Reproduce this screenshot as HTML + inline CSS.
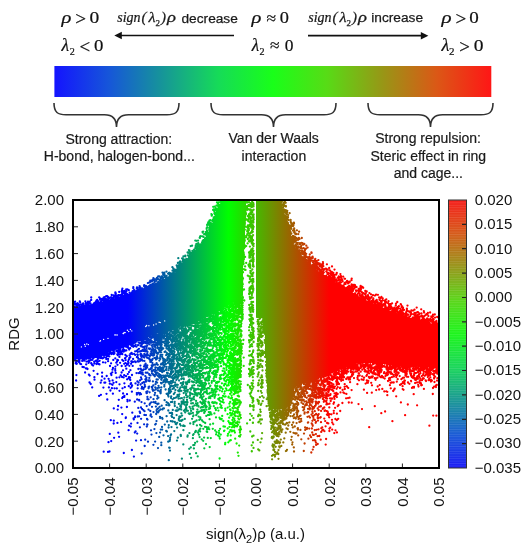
<!DOCTYPE html>
<html><head><meta charset="utf-8"><style>
html,body{margin:0;padding:0;background:#fff;}
body{width:527px;height:550px;overflow:hidden;}
svg{display:block;}
</style></head><body>
<svg width="527" height="550" viewBox="0 0 527 550">
<defs>
<linearGradient id="gb" x1="54.4" y1="0" x2="491.3" y2="0" gradientUnits="userSpaceOnUse">
<stop offset="0" stop-color="rgb(20,20,255)"/><stop offset="0.125" stop-color="rgb(22,86,217)"/><stop offset="0.25" stop-color="rgb(22,151,151)"/><stop offset="0.375" stop-color="rgb(22,219,88)"/><stop offset="0.5" stop-color="rgb(25,255,25)"/><stop offset="0.625" stop-color="rgb(88,219,22)"/><stop offset="0.75" stop-color="rgb(151,151,22)"/><stop offset="0.875" stop-color="rgb(219,88,22)"/><stop offset="1" stop-color="rgb(255,22,22)"/>
</linearGradient>
<linearGradient id="gp" x1="127.90" y1="0" x2="329.20" y2="0" gradientUnits="userSpaceOnUse">
<stop offset="0" stop-color="#0000ff"/><stop offset="0.5" stop-color="#00ff00"/><stop offset="1" stop-color="#ff0000"/>
</linearGradient>
<pattern id="stp" x="0" y="200" width="18" height="2.4364" patternUnits="userSpaceOnUse"><rect x="0" y="0" width="18" height="0.7" fill="#fff" fill-opacity="0.12"/></pattern>
<linearGradient id="gc" x1="0" y1="468" x2="0" y2="200" gradientUnits="userSpaceOnUse">
<stop offset="0" stop-color="rgb(28,28,245)"/><stop offset="0.125" stop-color="rgb(28,92,214)"/><stop offset="0.25" stop-color="rgb(28,151,151)"/><stop offset="0.375" stop-color="rgb(28,214,92)"/><stop offset="0.5" stop-color="rgb(30,245,30)"/><stop offset="0.625" stop-color="rgb(92,214,28)"/><stop offset="0.75" stop-color="rgb(151,151,28)"/><stop offset="0.875" stop-color="rgb(214,92,28)"/><stop offset="1" stop-color="rgb(245,32,28)"/>
</linearGradient>
</defs>
<rect width="527" height="550" fill="#fff"/>

<g fill="#111" stroke="#111" stroke-width="0.2">
<text transform="translate(61.52 23.23) scale(1.193 1)" font-family="'Liberation Serif', 'Times New Roman', serif" font-style="italic" font-size="17.29">ρ</text>
<text transform="translate(75.24 24.98) scale(1.026 1)" font-family="'Liberation Serif', 'Times New Roman', serif" font-size="18.65">&gt;</text>
<text transform="translate(89.47 23.33) scale(1.127 1)" font-family="'Liberation Serif', 'Times New Roman', serif" font-size="17.33">0</text>
<text transform="translate(61.54 50.90) scale(0.968 1)" font-family="'Liberation Serif', 'Times New Roman', serif" font-style="italic" font-size="18.16">λ</text>
<text x="69.65" y="55.40" font-family="'Liberation Serif', 'Times New Roman', serif" font-size="10.11">2</text>
<text x="79.58" y="52.60" font-family="'Liberation Serif', 'Times New Roman', serif" font-size="18.86">&lt;</text>
<text transform="translate(94.09 50.93) scale(1.077 1)" font-family="'Liberation Serif', 'Times New Roman', serif" font-size="17.48">0</text>
<text transform="translate(251.42 23.23) scale(1.193 1)" font-family="'Liberation Serif', 'Times New Roman', serif" font-style="italic" font-size="17.29">ρ</text>
<text x="266.42" y="24.18" font-family="'Liberation Serif', 'Times New Roman', serif" font-size="17.50">≈</text>
<text transform="translate(279.71 23.33) scale(1.059 1)" font-family="'Liberation Serif', 'Times New Roman', serif" font-size="17.33">0</text>
<text transform="translate(251.83 50.90) scale(0.942 1)" font-family="'Liberation Serif', 'Times New Roman', serif" font-style="italic" font-size="18.16">λ</text>
<text x="259.55" y="55.40" font-family="'Liberation Serif', 'Times New Roman', serif" font-size="10.11">2</text>
<text x="270.02" y="50.68" font-family="'Liberation Serif', 'Times New Roman', serif" font-size="17.50">≈</text>
<text x="284.65" y="50.93" font-family="'Liberation Serif', 'Times New Roman', serif" font-size="17.48">0</text>
<text transform="translate(441.43 23.23) scale(1.218 1)" font-family="'Liberation Serif', 'Times New Roman', serif" font-style="italic" font-size="17.29">ρ</text>
<text transform="translate(455.44 24.98) scale(1.026 1)" font-family="'Liberation Serif', 'Times New Roman', serif" font-size="18.65">&gt;</text>
<text transform="translate(469.29 23.33) scale(1.100 1)" font-family="'Liberation Serif', 'Times New Roman', serif" font-size="17.33">0</text>
<text x="441.45" y="50.90" font-family="'Liberation Serif', 'Times New Roman', serif" font-style="italic" font-size="18.16">λ</text>
<text transform="translate(449.11 55.40) scale(1.088 1)" font-family="'Liberation Serif', 'Times New Roman', serif" font-size="10.11">2</text>
<text x="459.34" y="52.60" font-family="'Liberation Serif', 'Times New Roman', serif" font-size="18.86">&gt;</text>
<text transform="translate(473.87 50.93) scale(1.117 1)" font-family="'Liberation Serif', 'Times New Roman', serif" font-size="17.48">0</text>
</g>
<g fill="#1a1a1a" stroke="#1a1a1a" stroke-width="0.25">
<text transform="translate(117.22 21.50) scale(0.934 1)" font-family="'Liberation Serif', 'Times New Roman', serif" font-style="italic" font-size="15.00">sign</text>
<text x="141.47" y="21.50" font-family="'Liberation Serif', 'Times New Roman', serif" font-style="italic" font-size="15.00">(</text>
<text transform="translate(148.51 21.50) scale(1.050 1)" font-family="'Liberation Serif', 'Times New Roman', serif" font-style="italic" font-size="15.50">λ</text>
<text x="155.59" y="25.90" font-family="'Liberation Serif', 'Times New Roman', serif" font-size="9.00">2</text>
<text x="161.11" y="21.50" font-family="'Liberation Serif', 'Times New Roman', serif" font-style="italic" font-size="15.00">)</text>
<text transform="translate(167.07 21.50) scale(1.250 1)" font-family="'Liberation Serif', 'Times New Roman', serif" font-style="italic" font-size="15.00">ρ</text>
<text transform="translate(308.22 21.50) scale(0.934 1)" font-family="'Liberation Serif', 'Times New Roman', serif" font-style="italic" font-size="15.00">sign</text>
<text x="332.48" y="21.50" font-family="'Liberation Serif', 'Times New Roman', serif" font-style="italic" font-size="15.00">(</text>
<text transform="translate(339.51 21.50) scale(1.050 1)" font-family="'Liberation Serif', 'Times New Roman', serif" font-style="italic" font-size="15.50">λ</text>
<text x="346.60" y="25.90" font-family="'Liberation Serif', 'Times New Roman', serif" font-size="9.00">2</text>
<text x="352.11" y="21.50" font-family="'Liberation Serif', 'Times New Roman', serif" font-style="italic" font-size="15.00">)</text>
<text transform="translate(358.07 21.50) scale(1.250 1)" font-family="'Liberation Serif', 'Times New Roman', serif" font-style="italic" font-size="15.00">ρ</text>
<text x="181.51" y="22.60" font-family="'Liberation Sans', Arial, Helvetica, sans-serif" font-size="13.70">decrease</text>
<text x="371.29" y="22.30" font-family="'Liberation Sans', Arial, Helvetica, sans-serif" font-size="13.70">increase</text>
</g>
<g stroke="#111" stroke-width="1.7" fill="#111">
<line x1="120" y1="35.5" x2="234" y2="35.5"/>
<path d="M114.3 35.5 L121.8 31.7 L121.8 39.3 Z" stroke="none"/>
<line x1="308" y1="35.7" x2="422" y2="35.7"/>
<path d="M428.4 35.7 L420.8 31.9 L420.8 39.5 Z" stroke="none"/>
</g>
<rect x="54.4" y="66" width="436.9" height="31" fill="url(#gb)"/>
<path d="M54 103 C54 112.7 58 114.7 66 114.7 L104.5 114.7 C111.5 114.7 116.5 117.7 116.5 127 C116.5 117.7 121.5 114.7 128.5 114.7 L167 114.7 C175 114.7 179 112.7 179 103" fill="none" stroke="#333" stroke-width="1.6"/>
<path d="M211 103 C211 112.7 215 114.7 223 114.7 L261.5 114.7 C268.5 114.7 273.5 117.7 273.5 127 C273.5 117.7 278.5 114.7 285.5 114.7 L324 114.7 C332 114.7 336 112.7 336 103" fill="none" stroke="#333" stroke-width="1.6"/>
<path d="M368 103 C368 112.7 372 114.7 380 114.7 L418.5 114.7 C425.5 114.7 430.5 117.7 430.5 127 C430.5 117.7 435.5 114.7 442.5 114.7 L481 114.7 C489 114.7 493 112.7 493 103" fill="none" stroke="#333" stroke-width="1.6"/>
<g font-family="'Liberation Sans', Arial, Helvetica, sans-serif" font-size="14" fill="#1a1a1a" stroke="#1a1a1a" stroke-width="0.2" text-anchor="middle">
<text x="118.8" y="143.5">Strong attraction:</text>
<text x="119.3" y="161">H-bond, halogen-bond...</text>
<text x="273.7" y="143.2">Van der Waals</text>
<text x="273.9" y="160.6">interaction</text>
<text x="428.1" y="143.2">Strong repulsion:</text>
<text x="428.3" y="160.9">Steric effect in ring</text>
<text x="428.3" y="178.4">and cage...</text>
</g>
<clipPath id="pc"><rect x="74" y="201" width="364" height="266"/></clipPath>
<g clip-path="url(#pc)">
<path d="M83.5 359.0L60.5 359.0L60.0 358.5L60.0 307.5L60.5 307.0L79.5 307.0L80.5 306.0L85.5 306.0L86.5 305.0L90.5 305.0L91.5 304.0L94.5 304.0L95.5 303.0L98.5 303.0L99.5 302.0L102.5 302.0L103.5 301.0L105.5 301.0L106.5 300.0L109.5 300.0L110.5 299.0L115.5 298.0L116.5 297.0L119.5 297.0L120.5 296.0L122.5 296.0L123.5 295.0L125.5 295.0L126.5 294.0L129.5 294.0L130.5 293.0L132.5 293.0L133.5 292.0L135.5 292.0L136.5 291.0L139.5 291.0L140.5 290.0L142.5 290.0L143.5 289.0L144.5 289.0L147.5 287.0L148.5 287.0L149.5 286.0L150.5 286.0L151.5 285.0L152.5 285.0L153.5 284.0L154.5 284.0L155.5 283.0L162.5 280.0L163.5 279.0L164.5 279.0L166.5 277.0L169.5 276.0L171.5 274.0L174.5 273.0L176.0 271.5L176.0 270.5L184.0 262.5L184.0 261.5L199.0 246.5L199.0 245.5L203.0 241.5L203.0 240.5L205.0 238.5L206.0 235.5L208.0 233.5L208.0 232.5L209.0 231.5L209.0 230.5L210.0 229.5L213.0 222.5L215.0 219.5L215.0 217.5L217.0 214.5L217.0 212.5L218.0 211.5L218.0 209.5L219.0 208.5L220.0 203.5L221.0 202.5L221.0 185.5L221.5 185.0L245.5 185.0L246.0 185.5L246.0 220.5L245.0 221.5L245.0 247.5L244.0 248.5L244.0 264.5L243.0 265.5L243.0 295.5L238.5 299.0L237.5 299.0L235.5 301.0L234.5 301.0L232.5 303.0L231.5 303.0L229.5 305.0L228.5 305.0L226.5 307.0L225.5 307.0L221.5 310.0L218.5 311.0L216.5 313.0L211.5 315.0L208.5 317.0L206.5 317.0L199.5 321.0L197.5 321.0L196.5 322.0L194.5 322.0L193.5 323.0L188.5 324.0L187.5 325.0L185.5 325.0L184.5 326.0L179.5 327.0L178.5 328.0L176.5 328.0L175.5 329.0L174.5 329.0L173.5 330.0L171.5 330.0L170.5 331.0L164.5 331.0L163.5 332.0L160.5 332.0L159.5 333.0L154.5 334.0L149.5 337.0L147.5 337.0L144.5 339.0L143.5 339.0L140.5 341.0L138.5 341.0L135.5 343.0L130.5 344.0L127.5 346.0L122.5 347.0L119.5 349.0L116.5 349.0L115.5 350.0L110.5 351.0L107.5 353.0L105.5 353.0L101.5 357.0L97.5 357.0L96.5 358.0L84.5 358.0L83.5 359.0ZM286.5 409.0L269.5 409.0L269.0 408.5L269.0 403.5L268.0 402.5L268.0 395.5L267.0 394.5L267.0 378.5L266.0 377.5L266.0 357.5L265.0 356.5L265.0 335.5L263.0 332.5L263.0 318.5L262.5 318.0L256.5 318.0L256.0 317.5L256.0 185.5L256.5 185.0L278.5 185.0L279.0 185.5L279.0 187.5L280.0 188.5L280.0 201.5L281.0 202.5L281.0 204.5L282.0 205.5L282.0 207.5L283.0 208.5L283.0 210.5L284.0 211.5L285.0 216.5L290.0 225.5L290.0 229.5L291.0 230.5L290.0 231.5L290.0 233.5L291.0 234.5L291.0 237.5L292.0 238.5L293.0 243.5L295.0 245.5L296.0 248.5L301.0 253.5L301.0 254.5L316.5 270.0L317.5 270.0L321.5 274.0L322.5 274.0L324.5 276.0L327.5 277.0L329.5 279.0L332.5 280.0L334.5 282.0L337.5 283.0L339.5 285.0L342.5 286.0L344.5 288.0L347.5 289.0L349.5 291.0L352.5 292.0L354.5 294.0L357.5 295.0L359.5 297.0L360.5 297.0L361.5 298.0L362.5 298.0L363.5 299.0L370.5 302.0L375.5 305.0L377.5 305.0L380.5 307.0L382.5 307.0L383.5 308.0L384.5 308.0L385.5 309.0L387.5 309.0L390.5 311.0L395.5 312.0L398.5 314.0L400.5 314.0L401.5 315.0L403.5 315.0L404.5 316.0L409.5 317.0L410.5 318.0L413.5 318.0L414.5 319.0L416.5 319.0L417.5 320.0L419.5 320.0L420.5 321.0L423.5 321.0L424.5 322.0L426.5 322.0L427.5 323.0L429.5 323.0L430.5 324.0L434.5 324.0L435.5 325.0L439.5 325.0L440.5 326.0L459.5 326.0L460.0 326.5L460.0 368.5L459.5 369.0L438.5 369.0L437.5 368.0L432.5 368.0L431.5 367.0L417.5 367.0L416.5 366.0L401.5 366.0L400.5 365.0L386.5 365.0L385.5 364.0L378.5 364.0L377.5 363.0L362.5 363.0L361.5 362.0L360.5 363.0L354.5 363.0L351.5 365.0L349.5 365.0L342.5 369.0L340.5 369.0L335.5 372.0L333.5 372.0L330.5 374.0L328.5 374.0L327.5 375.0L325.5 375.0L324.5 376.0L322.5 376.0L321.5 377.0L319.5 377.0L318.5 378.0L313.5 379.0L312.5 380.0L309.5 380.0L308.5 381.0L305.5 381.0L304.5 382.0L303.5 382.0L296.5 386.0L295.5 386.0L294.0 387.5L294.0 395.5L293.0 396.5L293.0 397.5L292.0 398.5L289.0 405.5L287.0 407.5L286.5 409.0Z" fill="url(#gp)" fill-rule="evenodd"/>
<path d="M223.5 185.5h0M228.8 185.5h0M232.4 185.2h0M233.3 185.7h0M234.0 185.6h0M237.2 185.1h0M239.7 185.4h0M241.2 185.7h0M242.7 185.5h0M244.2 185.9h0M244.1 185.7h0M245.8 185.6h0M258.5 185.1h0M259.6 185.9h0M261.2 185.7h0M262.0 185.2h0M262.4 185.2h0M265.2 185.5h0M266.3 185.5h0M269.7 185.6h0M271.8 185.5h0M273.5 185.4h0M274.7 185.9h0M275.5 185.3h0M275.5 185.8h0M276.8 185.8h0M276.3 185.6h0M276.5 185.5h0M223.6 186.9h0M226.6 186.9h0M226.2 186.3h0M226.8 186.3h0M228.8 186.9h0M229.9 186.0h0M230.1 186.2h0M231.3 186.6h0M238.5 186.5h0M243.0 186.9h0M244.6 186.4h0M260.2 186.7h0M261.9 186.6h0M261.8 186.3h0M261.8 186.5h0M262.7 186.8h0M262.8 186.1h0M268.5 186.5h0M272.2 186.2h0M277.0 186.4h0M278.8 186.4h0M257.6 187.1h0M278.2 187.7h0M278.6 187.6h0M278.9 187.4h0M222.2 188.4h0M244.2 188.6h0M245.7 188.3h0M246.0 188.2h0M279.9 188.5h0M221.2 189.6h0M244.8 189.3h0M221.0 190.6h0M222.3 190.3h0M245.6 190.6h0M221.9 191.1h0M222.0 191.9h0M244.2 191.5h0M257.5 191.4h0M278.1 191.6h0M221.3 192.2h0M222.3 192.0h0M222.5 192.4h0M222.2 192.6h0M246.0 192.5h0M278.1 192.3h0M222.0 193.8h0M244.5 193.8h0M279.0 193.0h0M222.7 194.7h0M244.2 194.6h0M245.4 194.1h0M278.6 194.3h0M221.7 195.2h0M244.9 195.8h0M245.2 195.4h0M278.3 195.2h0M222.1 196.3h0M222.6 196.1h0M278.9 196.1h0M279.3 196.8h0M279.7 196.2h0M279.6 196.5h0M221.2 197.3h0M245.6 197.4h0M245.5 197.4h0M279.8 198.0h0M279.5 197.9h0M244.1 198.1h0M244.6 198.6h0M258.0 198.5h0M278.5 198.4h0M244.2 199.1h0M245.6 199.0h0M245.8 199.1h0M222.2 200.0h0M244.2 200.0h0M245.8 200.9h0M278.4 200.6h0M279.8 200.4h0M220.6 201.9h0M245.7 201.4h0M246.9 201.0h0M252.0 201.1h0M257.6 201.6h0M279.6 201.8h0M281.5 201.4h0M281.8 201.7h0M217.0 202.4h0M218.7 202.3h0M221.8 202.5h0M244.9 202.7h0M244.9 202.7h0M246.4 202.1h0M247.0 202.7h0M249.0 202.2h0M253.0 202.8h0M253.1 203.0h0M281.3 202.7h0M284.0 202.5h0M285.1 202.1h0M285.7 202.8h0M218.0 203.4h0M218.1 203.4h0M244.0 203.3h0M251.0 203.2h0M253.4 203.4h0M279.2 204.0h0M279.5 203.5h0M283.5 203.7h0M219.7 204.8h0M244.2 204.2h0M248.7 204.8h0M250.7 204.5h0M250.4 204.1h0M251.1 204.2h0M252.9 204.6h0M253.3 204.1h0M253.6 204.9h0M280.3 204.7h0M281.5 204.7h0M282.5 204.7h0M283.9 204.3h0M216.5 205.6h0M216.9 205.7h0M218.2 205.2h0M221.0 205.7h0M220.7 205.1h0M248.4 205.9h0M250.3 205.4h0M252.7 205.8h0M281.0 205.6h0M282.6 205.3h0M282.8 205.7h0M282.9 205.5h0M283.8 205.0h0M285.8 206.0h0M213.2 206.8h0M214.7 206.6h0M218.9 206.1h0M220.6 206.5h0M246.3 206.6h0M247.0 206.2h0M247.4 206.3h0M249.6 206.1h0M250.9 206.1h0M251.3 206.9h0M252.3 206.8h0M252.4 206.5h0M253.5 206.4h0M285.9 206.5h0M285.0 206.1h0M215.6 207.9h0M218.5 207.4h0M283.1 207.2h0M216.4 208.9h0M219.5 208.6h0M220.5 208.1h0M246.9 208.6h0M246.6 208.5h0M247.1 208.1h0M247.7 209.0h0M257.6 208.8h0M281.2 208.4h0M213.1 209.9h0M213.7 209.4h0M215.6 209.4h0M215.3 209.9h0M216.5 209.3h0M217.4 209.4h0M219.2 209.2h0M249.2 209.8h0M249.1 209.4h0M250.5 209.3h0M253.6 209.7h0M283.7 209.2h0M214.6 210.6h0M217.0 210.6h0M218.0 210.2h0M219.9 210.4h0M244.8 210.1h0M247.0 210.1h0M251.2 210.4h0M251.5 210.1h0M252.6 210.3h0M252.7 210.4h0M281.7 210.9h0M282.9 210.8h0M282.3 210.6h0M283.9 210.8h0M284.7 210.9h0M285.8 210.2h0M287.3 210.8h0M214.3 211.4h0M216.8 211.7h0M217.1 211.4h0M217.4 211.9h0M219.2 211.7h0M251.3 211.7h0M252.5 211.1h0M284.3 211.9h0M217.6 212.6h0M218.6 212.1h0M245.7 212.8h0M245.7 212.3h0M250.4 212.3h0M252.3 212.2h0M285.9 212.8h0M285.8 212.0h0M287.1 212.6h0M214.4 213.4h0M215.0 213.1h0M215.7 213.1h0M216.7 214.0h0M216.2 213.3h0M216.7 213.1h0M218.4 213.9h0M245.1 213.8h0M251.1 213.2h0M282.8 213.3h0M283.5 213.9h0M285.9 213.1h0M286.5 214.0h0M286.8 213.5h0M289.6 213.2h0M211.4 214.1h0M214.8 214.3h0M245.3 214.8h0M246.1 214.0h0M249.1 214.7h0M249.1 214.1h0M249.2 214.9h0M251.0 214.2h0M252.2 214.6h0M253.6 214.4h0M257.5 214.9h0M211.7 215.7h0M212.0 215.0h0M215.8 215.0h0M216.7 215.7h0M217.4 215.7h0M244.1 215.2h0M245.1 215.3h0M248.7 215.3h0M252.4 215.1h0M252.8 215.8h0M253.4 215.8h0M284.5 215.3h0M285.6 215.4h0M288.1 215.1h0M214.9 216.9h0M215.1 216.8h0M244.2 216.8h0M247.6 216.1h0M248.2 216.0h0M250.0 216.7h0M257.7 216.9h0M283.3 216.3h0M284.0 216.5h0M283.4 216.1h0M285.9 216.1h0M213.7 217.3h0M213.8 217.7h0M249.0 217.8h0M250.3 217.9h0M252.0 217.5h0M253.1 217.6h0M253.5 217.1h0M253.5 217.8h0M257.8 217.2h0M284.2 217.6h0M285.7 217.8h0M285.4 217.4h0M287.9 217.6h0M288.0 217.5h0M287.9 217.0h0M287.2 217.7h0M214.8 218.7h0M214.7 218.2h0M216.5 218.3h0M245.5 218.9h0M245.7 218.9h0M251.0 218.4h0M250.8 218.4h0M253.5 219.0h0M253.5 218.0h0M257.6 218.9h0M284.3 218.1h0M285.1 218.6h0M286.8 218.8h0M286.2 218.6h0M287.1 218.7h0M287.3 218.6h0M212.8 219.7h0M212.7 220.0h0M213.4 219.9h0M214.1 220.0h0M244.6 219.2h0M247.3 219.6h0M248.5 219.3h0M250.7 219.2h0M253.7 219.6h0M257.5 219.6h0M285.2 219.3h0M286.2 219.5h0M287.5 219.6h0M288.0 219.8h0M290.6 219.9h0M209.4 220.7h0M210.2 220.2h0M214.0 220.1h0M214.6 220.0h0M244.9 220.5h0M245.7 220.1h0M248.2 221.0h0M250.7 220.3h0M252.7 220.4h0M252.5 220.9h0M288.5 220.2h0M290.7 220.1h0M212.3 221.0h0M214.2 221.9h0M214.7 221.1h0M215.7 221.1h0M215.1 221.6h0M243.6 221.4h0M243.3 221.6h0M248.7 221.4h0M252.9 221.6h0M252.1 221.6h0M253.3 221.6h0M257.6 221.6h0M290.7 221.9h0M208.2 222.4h0M209.7 222.3h0M210.6 222.9h0M243.7 222.9h0M244.3 222.0h0M244.8 222.8h0M244.8 222.4h0M244.4 222.6h0M244.1 222.5h0M250.2 222.5h0M253.2 222.4h0M253.4 222.6h0M287.1 222.4h0M287.8 222.9h0M287.1 222.5h0M290.9 222.8h0M291.1 222.9h0M293.9 222.6h0M208.2 223.4h0M208.6 223.1h0M210.5 223.4h0M210.7 224.0h0M211.5 223.5h0M212.9 223.7h0M244.9 223.9h0M250.3 223.1h0M251.7 223.2h0M291.3 223.5h0M292.4 223.9h0M292.8 223.9h0M294.0 223.5h0M207.7 224.1h0M207.8 224.5h0M208.9 224.7h0M211.6 224.2h0M249.6 224.8h0M251.8 224.9h0M252.5 224.8h0M288.2 224.8h0M288.1 224.6h0M292.0 224.5h0M293.3 224.7h0M207.1 225.0h0M209.6 225.6h0M210.6 225.8h0M211.8 226.0h0M243.1 225.9h0M243.9 225.9h0M243.5 225.7h0M247.9 225.4h0M248.8 225.9h0M248.7 225.9h0M250.7 225.1h0M250.9 225.0h0M251.7 225.1h0M252.7 225.7h0M253.0 225.7h0M288.4 225.8h0M289.6 225.8h0M289.8 225.6h0M290.7 225.9h0M293.4 225.4h0M243.0 227.0h0M244.0 226.7h0M245.2 226.3h0M245.5 226.7h0M249.3 226.1h0M251.2 227.0h0M252.5 226.6h0M253.6 226.8h0M288.7 226.7h0M291.4 226.4h0M291.5 226.0h0M293.2 226.0h0M207.3 227.1h0M210.0 227.4h0M243.3 227.2h0M247.3 227.2h0M251.3 227.7h0M251.5 227.1h0M253.3 227.6h0M288.1 227.0h0M289.7 227.9h0M290.6 228.0h0M206.7 228.1h0M206.7 228.9h0M209.2 228.1h0M210.6 228.6h0M211.6 228.8h0M243.9 228.5h0M244.0 228.1h0M247.8 228.0h0M248.8 228.4h0M252.6 228.3h0M253.0 228.3h0M288.6 228.2h0M289.4 228.4h0M289.7 228.7h0M290.0 228.4h0M290.1 228.0h0M291.1 228.5h0M291.4 228.8h0M294.2 228.5h0M210.5 229.7h0M244.8 229.7h0M253.1 229.1h0M293.9 229.6h0M207.0 231.0h0M209.2 230.0h0M243.6 230.0h0M247.6 230.7h0M247.4 230.1h0M248.9 230.1h0M252.2 230.1h0M252.1 230.7h0M289.5 230.5h0M289.2 230.0h0M292.9 230.6h0M294.3 230.5h0M296.9 230.3h0M202.6 231.8h0M203.1 231.7h0M207.1 231.7h0M243.0 231.1h0M247.8 231.3h0M247.2 231.3h0M248.1 231.8h0M251.7 231.9h0M252.8 231.8h0M252.8 231.7h0M288.1 231.8h0M288.1 231.5h0M289.8 231.1h0M299.1 231.7h0M202.7 232.5h0M205.7 232.1h0M206.3 232.3h0M206.2 232.3h0M208.6 232.7h0M209.8 232.6h0M243.7 232.0h0M251.1 232.3h0M252.2 232.4h0M289.6 232.2h0M289.1 232.2h0M290.5 232.0h0M294.2 232.5h0M294.6 232.0h0M206.7 234.0h0M206.3 233.5h0M207.8 233.2h0M209.5 233.6h0M247.5 233.6h0M247.5 233.6h0M248.9 233.6h0M249.7 233.3h0M249.9 233.6h0M250.8 233.1h0M257.5 233.3h0M288.5 233.4h0M290.9 234.0h0M291.4 233.3h0M295.2 233.5h0M296.0 233.6h0M204.2 234.2h0M205.1 234.2h0M205.5 234.7h0M205.0 234.0h0M206.6 234.8h0M206.4 234.8h0M206.9 234.8h0M247.2 234.8h0M295.3 234.0h0M296.2 234.2h0M298.3 234.1h0M243.6 235.4h0M249.7 235.8h0M249.1 235.8h0M250.7 235.8h0M253.1 235.1h0M289.2 235.9h0M292.7 236.0h0M200.8 236.2h0M200.1 236.3h0M202.8 236.4h0M203.5 236.9h0M246.0 236.1h0M251.5 236.8h0M252.3 236.6h0M292.8 236.7h0M293.8 236.4h0M293.2 237.0h0M293.3 236.3h0M294.9 236.9h0M294.7 236.9h0M199.7 237.8h0M199.9 237.9h0M246.4 237.0h0M249.8 237.6h0M249.3 237.4h0M251.4 237.1h0M257.5 237.1h0M257.4 237.1h0M290.9 237.5h0M291.4 237.1h0M292.9 238.0h0M205.4 238.8h0M205.7 239.0h0M205.4 238.2h0M244.6 238.0h0M247.8 239.0h0M251.1 238.6h0M252.0 238.4h0M290.0 238.6h0M290.1 238.3h0M293.6 238.8h0M295.2 238.6h0M296.3 238.0h0M297.4 238.9h0M298.9 238.0h0M299.5 238.9h0M301.8 238.0h0M204.9 239.6h0M205.0 239.0h0M204.3 239.8h0M257.7 239.8h0M290.1 239.8h0M292.7 239.9h0M292.3 239.2h0M299.0 239.2h0M298.0 239.9h0M195.3 240.6h0M196.7 240.8h0M198.1 240.6h0M202.8 240.7h0M203.1 240.6h0M203.3 240.6h0M204.0 240.3h0M204.1 240.3h0M243.3 240.1h0M243.9 240.6h0M244.8 240.2h0M244.4 240.1h0M244.3 240.6h0M244.8 240.3h0M249.7 240.4h0M251.1 240.1h0M252.2 240.3h0M253.1 240.2h0M257.7 240.6h0M294.0 240.7h0M296.0 240.3h0M295.3 240.5h0M202.7 241.1h0M203.4 241.9h0M243.1 241.0h0M243.7 241.2h0M244.6 241.0h0M248.9 241.2h0M249.3 241.5h0M250.7 241.1h0M252.3 241.9h0M291.4 241.6h0M291.9 241.9h0M292.4 241.6h0M292.5 241.9h0M294.0 241.5h0M293.1 241.3h0M295.7 241.8h0M203.0 242.2h0M202.0 242.5h0M203.0 242.8h0M203.3 242.1h0M203.1 242.3h0M251.5 242.2h0M251.7 242.2h0M293.5 242.1h0M293.5 242.7h0M293.8 242.4h0M297.9 242.9h0M301.6 242.8h0M196.4 244.0h0M198.2 243.2h0M243.7 243.1h0M247.6 243.4h0M251.7 243.3h0M253.0 243.4h0M253.7 243.8h0M291.3 243.6h0M292.2 243.3h0M293.1 243.4h0M296.8 243.5h0M296.8 243.2h0M297.1 243.1h0M300.0 243.1h0M302.7 243.5h0M198.3 244.7h0M199.4 244.8h0M200.2 244.4h0M252.7 244.5h0M252.7 244.9h0M253.1 244.2h0M257.7 244.8h0M295.5 244.7h0M297.7 244.1h0M299.9 244.3h0M303.7 244.1h0M303.4 244.5h0M304.3 244.0h0M192.1 245.7h0M195.8 245.8h0M195.8 245.3h0M198.6 246.0h0M198.8 245.2h0M198.1 245.6h0M244.8 245.4h0M295.9 245.6h0M295.3 245.5h0M295.6 246.0h0M296.0 245.8h0M301.5 245.3h0M306.3 245.7h0M190.7 246.1h0M195.7 246.4h0M196.4 246.8h0M197.5 246.3h0M198.6 246.4h0M244.1 246.3h0M244.7 246.3h0M246.2 246.1h0M249.9 246.6h0M253.5 246.1h0M293.6 246.5h0M295.5 246.4h0M295.7 246.7h0M295.9 246.7h0M295.9 246.3h0M296.2 246.3h0M298.1 246.5h0M301.0 246.6h0M195.6 247.8h0M196.1 247.4h0M244.7 247.1h0M244.9 247.0h0M294.4 247.7h0M294.1 247.9h0M297.7 247.4h0M299.7 247.5h0M300.6 248.0h0M307.6 247.6h0M195.4 248.0h0M196.4 249.0h0M197.4 248.5h0M198.3 248.9h0M243.7 248.0h0M244.0 248.4h0M252.7 248.4h0M297.4 248.6h0M297.1 248.5h0M297.7 248.2h0M301.9 248.3h0M303.7 248.1h0M306.0 248.7h0M194.1 249.7h0M251.7 249.7h0M251.3 249.5h0M252.6 249.1h0M295.1 249.5h0M297.6 249.5h0M304.9 249.4h0M188.9 250.1h0M189.5 250.4h0M192.4 251.0h0M195.2 250.9h0M242.4 250.5h0M242.8 250.9h0M250.7 250.8h0M253.4 250.8h0M296.5 250.1h0M297.4 250.9h0M299.4 250.5h0M299.5 250.6h0M299.7 250.4h0M301.4 250.7h0M301.3 250.9h0M302.1 250.4h0M304.9 250.2h0M189.5 251.2h0M192.9 251.7h0M242.1 251.3h0M243.2 251.3h0M253.0 251.4h0M252.7 251.3h0M252.6 251.7h0M298.7 251.7h0M302.0 251.6h0M302.2 251.1h0M303.0 251.3h0M303.1 251.3h0M187.9 252.8h0M187.6 252.4h0M191.0 252.9h0M190.2 252.5h0M194.0 252.5h0M242.5 252.5h0M242.3 252.8h0M243.6 252.6h0M249.0 252.4h0M250.2 252.0h0M252.4 252.3h0M257.6 252.3h0M257.6 252.1h0M298.7 252.7h0M298.1 252.3h0M300.0 252.8h0M301.9 252.3h0M302.6 252.8h0M302.3 252.4h0M303.0 252.1h0M303.5 252.5h0M304.8 252.2h0M311.6 252.9h0M311.4 252.4h0M189.4 253.6h0M190.7 253.3h0M190.6 253.8h0M191.5 253.7h0M192.1 253.1h0M242.0 253.0h0M249.4 253.9h0M250.9 253.9h0M251.1 253.2h0M251.2 253.9h0M253.6 253.9h0M253.6 253.8h0M253.7 253.6h0M300.7 253.3h0M300.1 253.2h0M301.2 253.6h0M301.8 253.8h0M301.8 253.1h0M302.9 253.0h0M305.1 253.2h0M305.5 253.8h0M306.2 253.8h0M191.0 254.1h0M243.8 254.3h0M243.7 254.0h0M251.1 254.4h0M252.7 254.8h0M253.2 254.8h0M300.4 254.1h0M300.4 254.3h0M300.5 254.0h0M302.8 254.0h0M304.1 254.4h0M304.3 254.7h0M305.5 254.7h0M305.2 254.1h0M309.8 254.5h0M185.3 255.7h0M187.9 255.4h0M189.9 255.9h0M189.8 255.8h0M243.9 255.1h0M243.3 255.4h0M250.9 255.1h0M252.7 255.5h0M252.7 255.4h0M253.0 255.5h0M304.4 255.4h0M304.6 255.6h0M305.6 255.6h0M183.4 256.3h0M185.3 256.4h0M189.0 256.5h0M245.1 256.9h0M249.3 256.1h0M249.8 256.2h0M250.4 256.2h0M252.9 256.6h0M257.8 256.7h0M304.8 256.9h0M305.1 256.2h0M306.9 256.9h0M309.1 256.9h0M312.6 256.6h0M243.6 257.8h0M249.4 257.7h0M250.6 257.4h0M257.7 257.9h0M303.6 257.2h0M304.6 257.8h0M304.8 257.7h0M305.4 258.0h0M307.8 257.7h0M308.1 257.8h0M309.7 257.1h0M309.7 257.9h0M311.5 257.6h0M312.8 257.9h0M312.3 257.2h0M178.3 258.2h0M182.1 258.3h0M182.7 258.1h0M186.4 258.9h0M189.0 258.7h0M242.6 258.8h0M252.6 258.9h0M252.9 258.1h0M253.5 258.1h0M304.2 258.2h0M305.2 258.8h0M308.3 258.3h0M308.4 258.3h0M308.8 258.2h0M312.3 258.2h0M315.3 259.0h0M182.9 259.2h0M182.9 259.6h0M183.3 259.7h0M184.4 259.6h0M186.3 259.8h0M187.7 259.9h0M244.0 259.1h0M252.4 259.8h0M253.0 259.0h0M253.6 259.8h0M305.0 259.2h0M305.0 259.2h0M308.7 259.7h0M308.5 259.8h0M310.2 259.1h0M315.0 259.6h0M182.9 260.6h0M183.2 260.5h0M184.8 260.1h0M185.2 260.0h0M243.3 260.6h0M250.3 260.9h0M252.0 260.9h0M251.6 260.1h0M251.4 260.5h0M253.3 260.7h0M257.7 260.3h0M306.6 260.2h0M306.2 260.9h0M307.6 260.7h0M309.0 260.1h0M310.2 261.0h0M311.6 260.5h0M311.3 260.6h0M313.6 260.9h0M315.7 261.0h0M318.4 260.1h0M180.1 261.5h0M182.9 261.4h0M183.2 261.7h0M185.0 261.5h0M250.1 261.4h0M252.2 261.1h0M253.5 261.3h0M257.7 261.2h0M306.2 261.9h0M308.9 261.3h0M310.1 262.0h0M314.5 261.1h0M315.5 261.1h0M316.6 261.2h0M178.3 262.7h0M180.6 262.0h0M185.0 262.9h0M186.0 262.3h0M242.0 263.0h0M243.4 262.1h0M246.2 262.9h0M252.9 262.4h0M257.5 262.6h0M257.9 263.0h0M308.5 262.9h0M312.9 262.3h0M315.7 262.7h0M317.6 262.8h0M322.9 262.1h0M177.9 263.0h0M180.0 263.5h0M181.6 263.9h0M181.1 263.5h0M182.9 263.7h0M183.0 263.1h0M183.9 263.9h0M242.5 263.7h0M243.6 263.8h0M249.7 263.9h0M249.5 263.5h0M310.0 263.9h0M313.6 263.1h0M314.8 263.5h0M315.7 263.7h0M318.4 263.1h0M319.8 263.7h0M323.0 263.5h0M179.2 264.9h0M179.7 264.8h0M179.3 264.9h0M180.6 264.4h0M248.5 264.9h0M250.0 264.4h0M249.5 264.6h0M250.1 264.9h0M253.0 264.5h0M253.0 264.1h0M253.1 264.7h0M313.5 264.4h0M313.5 264.9h0M315.6 264.7h0M317.4 264.5h0M318.9 264.1h0M321.9 264.5h0M322.8 264.7h0M326.9 264.3h0M176.7 265.4h0M178.5 265.7h0M180.3 265.4h0M181.0 265.4h0M181.1 265.8h0M182.4 265.9h0M182.9 265.2h0M182.3 265.4h0M182.7 265.2h0M182.8 265.7h0M241.6 265.1h0M249.2 266.0h0M252.7 266.0h0M253.1 265.6h0M312.2 265.1h0M313.8 265.2h0M316.5 265.2h0M320.6 265.7h0M321.2 265.9h0M321.0 265.4h0M177.2 266.8h0M178.6 266.5h0M179.0 267.0h0M241.4 266.4h0M242.3 266.0h0M245.1 266.4h0M249.1 266.5h0M250.0 266.3h0M253.6 266.5h0M253.4 266.7h0M312.2 266.0h0M314.0 266.6h0M313.2 266.8h0M315.2 266.0h0M316.9 266.7h0M317.0 266.7h0M319.4 266.0h0M321.2 266.9h0M322.8 266.4h0M323.3 266.2h0M332.0 266.4h0M172.4 267.2h0M177.4 267.5h0M178.7 267.5h0M180.5 267.1h0M241.1 267.4h0M250.3 267.9h0M316.5 267.5h0M316.5 267.8h0M316.2 267.5h0M317.3 267.5h0M322.0 267.7h0M329.2 268.0h0M173.3 268.5h0M177.5 268.7h0M241.2 268.6h0M257.9 268.5h0M257.6 268.8h0M313.4 268.1h0M315.6 268.8h0M315.1 268.2h0M316.3 268.2h0M317.0 268.6h0M317.2 268.7h0M318.8 268.5h0M318.0 268.4h0M318.6 268.2h0M325.1 268.8h0M325.6 268.7h0M174.6 269.6h0M175.8 269.9h0M176.9 270.0h0M177.7 269.4h0M177.4 269.3h0M242.9 269.1h0M244.3 269.5h0M245.5 269.9h0M252.3 269.6h0M252.4 269.3h0M317.0 269.1h0M317.4 269.9h0M318.7 269.6h0M319.9 269.8h0M319.9 269.3h0M321.8 269.6h0M322.9 269.0h0M322.6 269.3h0M322.7 269.6h0M323.2 269.8h0M326.6 269.0h0M327.6 269.7h0M334.5 269.6h0M172.5 270.7h0M173.3 270.9h0M174.1 270.5h0M175.2 270.0h0M175.2 270.7h0M175.4 271.0h0M176.9 270.4h0M241.1 270.8h0M241.8 271.0h0M250.4 270.8h0M315.1 270.4h0M319.4 270.1h0M320.9 270.1h0M321.1 270.2h0M323.8 270.0h0M329.7 270.3h0M330.1 270.7h0M166.5 271.6h0M174.9 271.4h0M175.9 271.6h0M175.9 271.4h0M175.4 271.4h0M175.6 271.1h0M250.8 271.2h0M320.6 271.7h0M323.0 271.6h0M326.3 271.4h0M331.8 272.0h0M162.5 272.6h0M164.4 272.6h0M169.3 273.0h0M169.2 272.9h0M173.6 272.5h0M243.0 272.2h0M242.2 272.2h0M250.5 272.3h0M250.5 272.9h0M253.2 272.7h0M319.6 272.6h0M319.9 272.1h0M321.8 272.5h0M323.8 272.4h0M327.6 272.8h0M327.9 272.6h0M327.2 272.3h0M328.5 273.0h0M331.2 272.5h0M333.3 272.8h0M163.3 273.3h0M168.1 273.7h0M169.5 273.3h0M169.7 273.9h0M171.0 273.9h0M170.5 273.5h0M171.4 273.7h0M172.9 273.2h0M174.0 273.4h0M242.1 273.6h0M250.9 273.4h0M252.8 273.7h0M319.6 273.5h0M320.0 273.9h0M322.9 273.9h0M322.8 273.5h0M327.9 273.9h0M330.5 273.8h0M330.6 273.4h0M331.2 273.8h0M333.1 273.9h0M336.8 273.0h0M336.6 273.5h0M163.2 274.5h0M164.6 274.3h0M169.4 274.4h0M172.0 275.0h0M172.7 274.2h0M173.4 274.3h0M173.3 274.9h0M174.2 274.5h0M241.4 274.7h0M241.9 274.3h0M241.4 274.9h0M251.9 274.6h0M251.4 274.0h0M252.4 274.7h0M257.8 274.6h0M320.8 274.7h0M321.7 274.3h0M327.4 274.1h0M331.8 274.8h0M334.6 275.0h0M336.3 274.6h0M340.4 274.1h0M164.6 275.8h0M169.7 275.5h0M171.7 275.9h0M172.4 275.3h0M247.8 275.7h0M324.0 275.8h0M326.1 275.9h0M329.2 275.6h0M333.9 275.4h0M333.4 275.3h0M158.2 276.4h0M159.2 276.4h0M161.6 276.4h0M162.3 276.9h0M162.4 276.4h0M166.6 276.0h0M241.0 276.6h0M249.3 276.5h0M250.6 276.3h0M250.4 276.8h0M252.6 276.2h0M257.6 276.6h0M323.7 276.7h0M325.7 276.2h0M326.2 276.1h0M328.5 276.6h0M329.7 276.8h0M329.6 276.1h0M330.6 276.4h0M333.0 276.0h0M333.4 276.4h0M333.2 276.8h0M338.8 276.4h0M341.0 276.2h0M343.2 276.6h0M156.9 277.9h0M157.2 277.9h0M160.7 277.5h0M162.0 277.4h0M162.6 277.8h0M164.7 277.1h0M166.0 277.9h0M169.9 277.6h0M169.6 277.1h0M242.4 277.5h0M324.9 277.1h0M325.2 277.4h0M327.8 277.5h0M328.6 277.7h0M329.6 277.9h0M330.5 277.2h0M331.1 278.0h0M331.9 278.0h0M332.4 277.7h0M332.6 277.6h0M333.2 277.3h0M334.2 277.0h0M334.7 277.5h0M337.8 277.7h0M339.9 277.2h0M341.2 277.8h0M153.4 278.1h0M157.9 278.9h0M160.8 278.1h0M161.9 278.4h0M163.2 278.0h0M166.6 278.7h0M166.8 278.0h0M241.8 278.9h0M243.0 278.4h0M327.5 279.0h0M344.5 278.7h0M345.0 278.8h0M351.7 278.7h0M152.4 279.9h0M154.8 279.4h0M156.2 279.2h0M159.8 279.8h0M160.1 279.4h0M242.5 279.8h0M249.9 279.0h0M251.7 279.8h0M252.0 279.5h0M253.3 279.1h0M253.1 279.0h0M257.7 279.9h0M328.5 279.3h0M330.3 279.0h0M331.8 279.1h0M333.3 279.0h0M333.4 279.7h0M334.6 279.4h0M335.6 279.8h0M336.1 279.3h0M338.8 279.5h0M338.9 279.7h0M338.7 279.5h0M338.9 279.4h0M339.8 279.7h0M341.9 279.2h0M150.3 280.6h0M152.4 280.9h0M154.1 280.0h0M156.4 280.8h0M160.2 280.2h0M162.0 280.7h0M163.1 280.2h0M163.8 280.0h0M241.1 280.4h0M241.4 280.9h0M242.1 280.3h0M251.2 280.8h0M253.2 280.3h0M331.0 280.2h0M330.7 280.4h0M333.0 280.8h0M332.2 280.3h0M332.8 280.4h0M337.7 280.3h0M338.3 280.6h0M340.5 280.4h0M342.3 280.4h0M347.1 280.9h0M351.5 280.2h0M150.8 281.5h0M154.8 281.6h0M158.4 281.9h0M158.6 281.6h0M241.4 281.9h0M242.1 281.0h0M249.7 281.8h0M252.3 281.3h0M253.4 281.8h0M331.6 281.2h0M332.2 281.3h0M333.8 281.8h0M334.6 281.5h0M336.9 281.1h0M340.2 281.9h0M342.6 281.4h0M347.8 281.8h0M347.2 281.6h0M349.7 281.7h0M149.4 282.4h0M149.6 282.4h0M154.6 282.3h0M154.5 282.7h0M242.2 282.3h0M249.2 282.5h0M257.6 282.5h0M333.8 282.2h0M336.5 282.2h0M340.0 282.5h0M340.7 282.4h0M341.0 282.4h0M345.9 282.4h0M347.4 282.3h0M347.7 282.4h0M348.5 282.8h0M348.4 282.0h0M349.6 282.3h0M147.9 283.1h0M152.5 283.6h0M152.9 283.9h0M156.4 283.9h0M157.2 283.7h0M158.5 283.8h0M242.4 284.0h0M242.2 283.2h0M252.4 283.1h0M257.9 283.2h0M257.9 283.9h0M257.5 283.1h0M336.2 283.5h0M337.6 283.9h0M338.4 283.2h0M344.5 284.0h0M344.7 283.0h0M345.6 283.9h0M348.0 283.4h0M150.3 284.9h0M156.7 284.3h0M242.8 284.2h0M337.1 284.3h0M339.9 284.3h0M339.3 284.3h0M351.6 284.4h0M354.5 285.0h0M144.2 285.2h0M145.9 285.8h0M150.1 286.0h0M152.2 285.0h0M154.5 285.0h0M252.7 285.8h0M252.6 285.6h0M252.6 285.1h0M257.6 285.4h0M340.1 285.3h0M341.3 285.4h0M343.5 285.5h0M349.2 285.8h0M351.9 285.4h0M352.9 285.3h0M353.5 285.0h0M353.0 285.5h0M355.0 285.2h0M139.6 286.2h0M144.6 286.7h0M144.0 286.1h0M146.7 286.9h0M148.4 286.4h0M149.0 286.1h0M242.4 286.3h0M250.9 286.9h0M251.5 286.1h0M251.4 286.1h0M251.7 286.5h0M252.9 286.9h0M339.4 286.6h0M342.7 286.3h0M349.6 286.4h0M351.5 286.2h0M352.1 286.4h0M354.0 286.2h0M355.0 286.3h0M356.2 286.9h0M360.7 286.0h0M360.5 286.3h0M362.5 286.9h0M133.3 287.2h0M137.0 287.4h0M139.4 287.7h0M140.3 287.3h0M145.6 287.3h0M148.9 287.9h0M150.7 287.3h0M249.8 287.6h0M257.5 287.2h0M257.5 287.5h0M343.4 287.4h0M343.8 287.6h0M344.2 287.1h0M346.7 287.9h0M347.7 287.0h0M349.8 287.5h0M350.1 287.2h0M350.1 287.2h0M352.2 287.8h0M354.6 287.9h0M354.6 287.8h0M355.0 287.1h0M356.6 287.1h0M360.4 287.8h0M361.8 287.6h0M363.2 287.8h0M122.4 288.6h0M133.3 288.2h0M136.8 288.3h0M137.4 288.2h0M140.1 288.2h0M141.5 288.6h0M142.1 288.3h0M144.4 288.7h0M144.9 288.5h0M147.5 289.0h0M147.6 288.4h0M241.5 288.3h0M249.5 288.8h0M250.9 288.2h0M251.0 288.6h0M253.3 288.6h0M258.0 288.8h0M345.0 288.8h0M345.2 289.0h0M345.6 288.5h0M346.8 288.2h0M346.3 288.4h0M348.9 288.9h0M348.7 289.0h0M348.3 288.2h0M349.5 288.5h0M350.7 288.5h0M353.3 288.7h0M358.7 288.8h0M126.2 289.5h0M127.5 289.4h0M138.8 289.6h0M140.2 289.7h0M142.9 289.5h0M146.0 289.6h0M242.7 289.4h0M242.2 289.2h0M244.0 289.5h0M252.6 289.0h0M253.3 289.9h0M257.6 289.1h0M344.3 289.2h0M345.1 289.5h0M349.5 289.0h0M350.6 289.1h0M351.0 289.1h0M352.5 289.7h0M352.6 289.1h0M353.2 289.8h0M353.7 289.1h0M358.9 289.2h0M360.5 289.0h0M360.9 289.7h0M122.0 290.2h0M124.3 291.0h0M128.8 290.2h0M134.2 290.2h0M134.5 290.4h0M137.4 290.1h0M137.2 290.6h0M137.4 290.0h0M138.3 290.7h0M140.3 290.0h0M141.9 290.7h0M141.5 291.0h0M143.9 290.7h0M144.9 290.8h0M242.3 290.8h0M249.4 290.5h0M249.9 290.0h0M258.0 290.2h0M346.7 290.2h0M347.0 290.5h0M346.4 290.5h0M348.6 290.9h0M349.1 290.6h0M350.2 290.0h0M351.0 290.6h0M352.5 290.9h0M352.9 290.9h0M356.0 290.5h0M356.8 290.7h0M358.6 290.3h0M358.3 290.4h0M360.5 290.7h0M119.2 291.9h0M121.8 291.5h0M122.5 292.0h0M122.4 291.1h0M122.6 291.2h0M125.7 291.3h0M126.4 291.5h0M132.5 291.6h0M132.7 291.1h0M133.0 291.4h0M133.0 291.8h0M133.5 291.2h0M134.6 291.7h0M134.1 291.0h0M134.4 291.3h0M135.2 291.9h0M136.1 291.3h0M137.4 291.0h0M139.2 291.8h0M141.5 291.2h0M142.6 291.2h0M249.5 291.8h0M252.8 291.6h0M252.8 291.9h0M350.8 291.9h0M351.5 291.6h0M351.3 291.3h0M356.3 291.0h0M356.3 291.4h0M358.9 291.8h0M359.1 291.4h0M359.9 291.2h0M365.3 291.0h0M366.7 291.5h0M115.4 292.4h0M115.3 293.0h0M122.2 292.9h0M123.2 293.0h0M124.6 293.0h0M129.6 292.6h0M132.0 292.8h0M132.2 292.3h0M135.9 292.8h0M137.8 292.2h0M139.6 292.3h0M250.5 292.2h0M252.6 292.5h0M350.6 293.0h0M361.9 292.3h0M362.0 292.4h0M115.8 293.5h0M125.9 293.5h0M131.3 293.4h0M132.5 293.6h0M134.6 293.1h0M135.3 293.3h0M241.9 293.4h0M249.1 293.7h0M249.3 293.6h0M250.5 293.2h0M251.8 293.8h0M252.2 293.1h0M258.0 293.4h0M355.0 293.5h0M357.8 293.6h0M359.0 293.1h0M359.2 293.3h0M359.7 293.5h0M359.1 293.3h0M362.8 293.2h0M363.6 293.1h0M365.7 293.5h0M369.4 293.1h0M111.7 295.0h0M115.7 294.8h0M121.9 294.3h0M124.7 295.0h0M127.5 294.1h0M127.3 294.9h0M129.9 294.7h0M130.7 294.2h0M249.2 294.2h0M257.6 294.4h0M354.0 294.4h0M353.5 294.4h0M353.4 295.0h0M354.2 294.5h0M354.5 294.0h0M357.2 295.0h0M362.4 294.2h0M362.4 294.4h0M364.9 294.1h0M365.4 294.2h0M365.5 294.7h0M371.0 294.3h0M376.1 294.7h0M377.9 294.8h0M113.7 295.3h0M116.3 295.6h0M116.4 295.9h0M118.3 295.2h0M118.6 295.8h0M119.3 295.7h0M120.3 295.2h0M122.0 295.6h0M125.1 295.8h0M126.4 295.5h0M126.2 295.5h0M127.6 295.7h0M129.1 295.9h0M240.1 295.0h0M251.9 295.1h0M354.3 295.1h0M355.4 295.1h0M359.9 295.1h0M359.6 295.5h0M361.9 295.1h0M362.5 295.8h0M362.6 295.3h0M362.6 295.4h0M368.0 295.2h0M373.0 295.2h0M374.9 295.6h0M106.2 296.2h0M107.3 296.2h0M113.9 296.1h0M115.3 296.6h0M117.1 296.7h0M117.6 296.6h0M120.9 296.1h0M123.3 296.5h0M123.3 296.0h0M239.2 296.2h0M242.5 296.7h0M249.8 296.9h0M356.3 296.2h0M360.5 296.1h0M360.1 296.1h0M360.8 296.6h0M361.7 296.6h0M362.9 296.8h0M365.6 296.8h0M365.9 296.1h0M366.4 296.8h0M381.4 297.0h0M91.2 297.4h0M99.2 297.4h0M103.8 297.5h0M104.5 297.2h0M107.6 297.1h0M108.0 297.0h0M110.4 297.4h0M111.7 297.3h0M113.9 297.3h0M117.9 297.6h0M237.4 297.2h0M237.1 297.2h0M240.5 297.4h0M242.9 297.4h0M250.7 297.4h0M251.7 298.0h0M251.9 297.2h0M252.8 297.7h0M362.0 297.4h0M361.4 297.9h0M362.6 297.2h0M364.2 297.4h0M365.1 297.5h0M368.3 297.9h0M368.5 297.0h0M368.7 297.5h0M369.1 297.4h0M371.5 297.0h0M379.1 297.5h0M100.5 298.7h0M102.3 298.8h0M103.2 298.5h0M109.2 298.3h0M111.2 298.1h0M112.8 298.5h0M116.0 298.3h0M118.8 298.8h0M236.9 298.7h0M236.4 298.7h0M238.0 298.1h0M239.5 298.7h0M240.9 299.0h0M242.6 298.2h0M242.6 298.4h0M250.1 298.9h0M251.0 298.5h0M363.6 298.7h0M365.1 298.3h0M365.1 298.2h0M366.3 298.3h0M368.6 298.7h0M370.8 298.1h0M373.3 298.4h0M380.5 298.0h0M382.4 298.1h0M382.7 298.5h0M91.2 299.9h0M97.2 300.0h0M100.0 299.5h0M102.7 299.4h0M102.1 299.5h0M102.8 299.0h0M104.6 299.6h0M105.7 299.0h0M105.9 299.6h0M106.3 299.3h0M106.0 299.6h0M107.0 299.4h0M107.9 299.5h0M110.8 299.8h0M113.5 299.9h0M114.2 299.6h0M238.6 299.8h0M239.7 299.5h0M241.8 299.1h0M241.2 299.0h0M361.9 299.2h0M361.5 299.9h0M363.7 299.7h0M365.0 299.8h0M367.6 299.1h0M368.1 299.4h0M369.6 299.4h0M373.0 299.9h0M373.2 299.6h0M376.7 299.8h0M379.5 299.6h0M385.6 300.0h0M386.3 299.3h0M96.7 300.4h0M101.9 300.3h0M105.0 301.0h0M104.3 300.9h0M106.9 300.3h0M107.8 300.9h0M107.8 300.9h0M108.5 300.1h0M110.9 300.9h0M235.1 300.2h0M235.7 300.3h0M236.6 300.6h0M236.3 301.0h0M239.0 300.4h0M239.2 300.1h0M240.0 300.1h0M240.6 300.2h0M240.3 300.7h0M241.0 300.8h0M242.8 300.3h0M244.3 300.5h0M368.8 300.6h0M369.4 300.6h0M372.7 300.1h0M373.0 300.6h0M373.4 300.2h0M376.1 300.7h0M379.8 300.0h0M380.5 300.8h0M382.5 300.5h0M384.6 300.6h0M75.1 301.6h0M79.8 301.3h0M85.4 301.3h0M88.0 301.6h0M89.8 301.6h0M96.0 301.4h0M97.0 301.7h0M98.1 301.5h0M98.2 301.2h0M100.7 301.6h0M101.5 301.0h0M103.7 301.2h0M105.8 301.6h0M105.3 301.3h0M108.6 301.2h0M233.3 301.8h0M234.6 301.1h0M234.5 301.4h0M236.1 301.9h0M237.7 301.8h0M239.3 301.4h0M240.7 302.0h0M242.0 301.3h0M251.4 302.0h0M253.1 301.9h0M365.2 301.4h0M368.6 301.5h0M369.4 301.0h0M369.3 301.5h0M370.3 301.6h0M370.0 301.9h0M371.5 301.1h0M371.4 301.9h0M373.2 301.8h0M375.0 301.7h0M376.0 301.5h0M375.7 301.8h0M377.3 301.8h0M377.5 301.4h0M380.9 301.8h0M381.4 301.3h0M384.9 301.2h0M386.0 302.0h0M388.5 301.2h0M74.4 302.0h0M80.2 302.3h0M89.2 302.7h0M94.9 302.7h0M94.5 303.0h0M95.1 302.6h0M95.8 302.2h0M96.6 302.4h0M96.7 302.3h0M96.7 302.4h0M97.5 302.6h0M98.2 302.5h0M98.8 303.0h0M100.5 302.4h0M235.1 302.0h0M237.0 302.6h0M239.1 302.4h0M239.6 302.4h0M240.4 302.6h0M241.8 302.1h0M242.7 302.9h0M257.6 302.3h0M368.8 302.3h0M369.5 302.7h0M369.5 302.7h0M370.7 302.6h0M372.1 302.7h0M374.1 302.7h0M375.2 302.9h0M376.7 302.6h0M376.3 302.5h0M381.4 302.3h0M385.1 302.6h0M385.6 302.5h0M385.4 302.3h0M386.4 302.5h0M397.3 302.0h0M74.7 303.8h0M75.5 303.7h0M77.8 303.3h0M77.3 303.3h0M77.7 303.8h0M83.2 303.4h0M85.7 303.3h0M86.5 303.2h0M86.2 303.8h0M87.0 303.5h0M87.4 304.0h0M88.5 303.9h0M90.5 303.4h0M93.8 303.7h0M96.7 303.3h0M99.3 303.7h0M228.4 303.1h0M228.9 303.2h0M230.0 303.7h0M231.8 303.9h0M232.8 303.5h0M235.1 303.3h0M235.0 304.0h0M236.0 303.5h0M236.1 303.6h0M239.0 303.0h0M238.9 303.5h0M239.3 303.5h0M239.4 303.7h0M241.2 303.5h0M257.8 303.2h0M370.4 303.7h0M372.1 303.8h0M374.8 303.1h0M378.0 303.2h0M379.1 303.2h0M381.7 303.3h0M384.1 303.9h0M388.1 303.2h0M391.3 303.8h0M392.1 303.3h0M396.0 303.6h0M74.6 304.3h0M75.1 304.8h0M77.3 304.5h0M79.2 304.7h0M80.4 304.7h0M81.9 304.5h0M82.6 304.3h0M83.5 304.8h0M92.6 304.8h0M94.8 304.6h0M97.1 304.1h0M228.8 304.1h0M231.1 304.8h0M232.9 304.8h0M233.9 304.3h0M234.6 304.1h0M236.7 304.0h0M238.0 304.5h0M238.8 304.5h0M241.7 304.1h0M251.2 304.0h0M251.9 304.4h0M251.6 304.2h0M257.9 304.0h0M371.2 304.5h0M374.2 304.6h0M375.5 304.5h0M377.9 304.7h0M379.6 304.5h0M379.7 304.1h0M379.3 304.3h0M379.3 304.1h0M380.4 304.1h0M380.8 304.4h0M382.1 304.9h0M384.0 304.7h0M384.9 304.5h0M390.0 304.7h0M389.0 304.5h0M389.9 304.1h0M400.7 304.2h0M401.0 304.7h0M77.0 306.0h0M79.2 305.4h0M79.5 305.3h0M82.0 305.7h0M83.9 305.4h0M83.3 305.9h0M85.3 305.7h0M86.9 305.3h0M89.5 305.5h0M91.2 305.5h0M91.7 305.7h0M91.1 305.7h0M225.8 305.4h0M227.3 305.9h0M232.7 305.5h0M236.0 305.2h0M236.6 305.1h0M237.8 305.1h0M237.3 306.0h0M239.6 305.5h0M240.0 305.8h0M241.5 305.9h0M242.7 305.3h0M249.2 305.0h0M253.0 305.3h0M377.1 305.0h0M378.8 305.6h0M380.0 305.4h0M382.9 305.4h0M382.8 305.9h0M382.1 305.7h0M385.4 305.5h0M395.8 305.5h0M407.5 305.6h0M74.4 307.0h0M77.4 306.5h0M77.1 306.0h0M79.9 306.8h0M80.9 306.8h0M82.5 307.0h0M87.2 306.7h0M87.7 306.3h0M89.3 306.5h0M89.3 306.6h0M90.9 306.7h0M90.0 306.0h0M224.0 306.3h0M225.4 306.2h0M226.5 306.7h0M229.6 307.0h0M229.3 306.0h0M230.9 306.4h0M230.1 306.4h0M231.4 306.3h0M233.0 306.9h0M233.2 307.0h0M234.0 306.3h0M235.5 306.2h0M236.9 306.9h0M237.7 306.7h0M237.4 306.8h0M237.2 306.6h0M239.4 306.1h0M239.6 306.2h0M239.4 306.7h0M252.1 306.5h0M375.3 306.0h0M375.1 306.6h0M375.3 306.7h0M380.2 306.7h0M380.3 306.9h0M381.3 306.9h0M381.0 306.4h0M381.1 306.5h0M382.3 306.1h0M385.2 306.9h0M385.4 306.5h0M385.2 306.6h0M388.8 306.4h0M389.8 306.4h0M389.7 306.9h0M390.6 306.8h0M391.0 306.2h0M398.9 306.2h0M402.2 306.3h0M64.1 307.1h0M65.6 307.9h0M66.0 308.0h0M67.9 307.4h0M68.2 307.5h0M68.3 307.1h0M68.4 307.7h0M69.5 307.3h0M70.4 307.4h0M72.9 307.6h0M72.4 307.6h0M73.4 307.4h0M74.7 307.1h0M75.1 307.2h0M76.6 307.3h0M77.2 307.2h0M78.0 308.0h0M79.6 307.2h0M80.4 307.2h0M84.3 307.5h0M222.5 307.5h0M226.5 307.6h0M227.7 307.2h0M228.1 307.4h0M229.1 307.4h0M229.8 307.5h0M230.5 307.1h0M233.4 307.1h0M235.0 307.6h0M235.5 307.9h0M236.6 307.7h0M236.3 307.7h0M238.9 307.5h0M240.4 308.0h0M242.5 307.6h0M250.0 307.5h0M251.2 307.9h0M251.8 307.5h0M251.9 307.9h0M253.0 307.5h0M378.6 307.9h0M386.7 307.6h0M387.8 307.8h0M391.4 307.2h0M391.2 308.0h0M394.4 307.7h0M396.7 308.0h0M397.8 307.2h0M397.7 307.9h0M397.9 307.3h0M401.6 307.0h0M403.0 307.6h0M416.7 307.6h0M62.6 308.9h0M65.0 308.4h0M64.9 308.7h0M70.0 308.9h0M72.3 309.0h0M76.2 308.2h0M78.0 308.1h0M79.9 308.6h0M79.2 308.8h0M221.7 308.2h0M221.4 308.8h0M223.6 308.9h0M225.5 308.3h0M228.8 308.3h0M229.1 308.3h0M232.2 308.6h0M232.1 308.5h0M233.1 308.7h0M235.5 308.8h0M235.3 308.7h0M235.6 309.0h0M240.8 308.5h0M241.2 308.7h0M241.3 308.5h0M249.4 308.1h0M250.7 308.8h0M251.4 308.8h0M384.4 308.6h0M385.6 308.5h0M386.4 308.6h0M386.4 308.3h0M388.1 308.4h0M390.4 308.4h0M391.0 308.7h0M391.5 308.3h0M392.8 308.5h0M396.8 308.7h0M396.4 308.6h0M398.5 308.0h0M400.4 308.9h0M406.9 308.6h0M219.0 309.6h0M221.8 309.7h0M221.7 310.0h0M222.1 309.9h0M222.5 309.2h0M223.1 309.3h0M226.1 309.8h0M228.4 309.3h0M229.3 309.5h0M229.5 309.1h0M230.4 310.0h0M233.3 309.9h0M238.8 309.5h0M239.5 309.6h0M240.7 309.1h0M242.6 309.8h0M249.5 309.5h0M250.1 309.3h0M252.7 309.0h0M253.3 309.7h0M384.8 309.5h0M385.5 309.3h0M387.0 309.6h0M386.8 309.1h0M390.0 309.2h0M394.5 309.4h0M396.5 309.1h0M396.8 309.6h0M397.5 309.4h0M402.9 309.1h0M404.0 309.9h0M414.5 309.7h0M421.2 309.3h0M60.8 310.3h0M60.5 310.4h0M217.9 311.0h0M218.4 310.5h0M219.6 310.3h0M224.7 311.0h0M228.6 310.6h0M231.4 310.0h0M233.0 311.0h0M232.0 310.9h0M233.3 310.7h0M233.1 310.8h0M234.5 310.7h0M234.0 310.9h0M235.6 311.0h0M237.5 310.1h0M239.3 310.8h0M242.0 310.5h0M252.9 310.5h0M252.4 310.8h0M388.2 310.3h0M392.7 310.1h0M392.8 310.1h0M393.8 310.9h0M395.4 310.2h0M400.1 311.0h0M401.5 310.9h0M402.0 310.3h0M402.6 310.2h0M403.6 310.1h0M406.9 310.7h0M406.9 310.0h0M411.4 310.5h0M413.1 310.6h0M60.4 311.7h0M216.3 311.3h0M217.3 311.1h0M221.1 311.2h0M223.4 311.4h0M224.6 311.9h0M226.9 311.9h0M226.8 311.9h0M229.7 311.6h0M230.4 311.6h0M234.4 311.7h0M237.1 312.0h0M239.0 311.4h0M240.2 311.1h0M241.5 311.8h0M242.4 311.8h0M250.4 311.2h0M253.1 311.8h0M258.0 311.9h0M391.4 311.4h0M395.2 311.7h0M395.4 311.7h0M396.0 311.6h0M396.2 311.0h0M396.1 311.2h0M397.7 311.3h0M399.9 311.7h0M401.8 311.8h0M406.5 311.6h0M408.6 311.3h0M409.0 311.5h0M410.4 311.6h0M423.8 311.1h0M60.3 312.7h0M215.4 312.4h0M217.2 312.0h0M218.6 312.8h0M221.0 312.2h0M222.4 312.3h0M222.9 312.1h0M222.1 312.0h0M223.0 312.4h0M225.1 312.7h0M226.6 312.8h0M227.3 312.3h0M229.8 312.8h0M230.4 312.9h0M233.9 312.4h0M234.7 312.7h0M236.1 313.0h0M237.2 312.3h0M241.4 312.6h0M250.6 312.3h0M392.5 312.3h0M394.0 312.8h0M393.8 312.6h0M397.7 312.4h0M398.3 312.1h0M399.4 312.5h0M400.1 312.1h0M401.5 312.3h0M401.8 312.5h0M402.6 312.4h0M406.2 312.4h0M410.3 312.5h0M410.6 312.9h0M410.9 312.7h0M414.6 312.8h0M416.5 312.7h0M417.9 312.2h0M417.7 312.1h0M424.1 312.5h0M430.1 312.5h0M60.4 313.2h0M213.7 313.5h0M214.9 313.4h0M216.7 313.4h0M216.6 313.7h0M218.9 313.4h0M218.4 313.3h0M218.1 313.3h0M219.8 313.6h0M220.6 313.2h0M220.4 313.6h0M221.4 313.2h0M221.8 313.3h0M221.4 313.5h0M224.6 313.6h0M224.8 313.1h0M225.5 313.8h0M226.6 313.7h0M227.6 313.8h0M228.4 313.1h0M229.2 313.9h0M230.8 313.7h0M230.4 313.7h0M231.9 313.6h0M232.3 313.8h0M233.8 313.3h0M236.4 313.3h0M237.7 313.5h0M238.6 314.0h0M239.8 313.5h0M239.6 313.5h0M239.3 313.1h0M241.6 313.4h0M242.2 313.5h0M393.4 313.7h0M394.4 313.4h0M396.2 313.6h0M399.6 313.7h0M401.6 313.9h0M401.6 313.2h0M402.8 313.2h0M403.3 313.1h0M403.8 313.8h0M403.4 313.7h0M405.7 313.6h0M406.1 313.3h0M411.1 313.5h0M411.4 313.8h0M411.0 313.4h0M415.3 313.6h0M419.3 313.5h0M421.5 313.3h0M427.9 313.0h0M209.6 315.0h0M215.4 314.6h0M216.6 314.5h0M216.3 314.4h0M218.4 314.3h0M223.3 314.4h0M223.3 314.1h0M224.0 314.1h0M227.6 314.6h0M228.5 314.7h0M230.0 314.0h0M230.2 314.7h0M231.0 314.2h0M231.2 314.0h0M232.9 314.2h0M233.9 314.4h0M234.0 315.0h0M239.0 314.4h0M241.7 314.3h0M241.4 314.2h0M242.9 314.3h0M251.7 315.0h0M396.5 314.8h0M396.7 314.8h0M398.0 314.7h0M398.7 314.9h0M399.9 314.2h0M399.1 314.2h0M402.9 314.1h0M402.9 314.2h0M405.7 314.8h0M407.5 314.5h0M408.3 314.7h0M410.9 314.7h0M413.3 314.3h0M415.0 315.0h0M414.1 314.4h0M417.7 314.8h0M419.4 314.3h0M426.4 314.2h0M427.5 314.3h0M433.0 314.7h0M434.8 314.5h0M210.0 315.0h0M210.3 315.5h0M212.7 315.7h0M212.2 315.9h0M213.1 315.5h0M217.8 315.2h0M217.5 315.3h0M224.5 315.4h0M224.5 315.7h0M225.5 315.7h0M226.2 315.6h0M228.4 315.6h0M231.1 315.7h0M232.7 315.3h0M235.6 315.2h0M235.2 315.7h0M236.2 315.8h0M237.3 315.6h0M238.7 315.1h0M242.5 315.4h0M249.4 315.0h0M250.8 315.2h0M257.7 315.2h0M398.4 315.6h0M399.7 315.3h0M401.7 315.5h0M402.0 315.8h0M405.2 315.6h0M406.6 315.9h0M406.1 315.5h0M415.9 315.2h0M415.1 315.9h0M421.9 315.7h0M425.8 315.1h0M61.0 316.6h0M61.0 316.5h0M60.6 316.1h0M61.3 316.6h0M61.5 316.0h0M204.2 316.1h0M205.4 316.9h0M205.4 316.0h0M205.1 316.9h0M206.5 316.0h0M210.1 316.4h0M211.0 316.1h0M211.4 316.4h0M213.8 316.5h0M213.8 316.2h0M215.0 316.1h0M214.9 316.4h0M214.4 316.9h0M215.7 316.2h0M217.0 316.9h0M217.8 316.9h0M217.3 316.6h0M222.4 316.1h0M222.7 316.1h0M224.4 316.1h0M225.9 316.5h0M226.7 316.7h0M226.3 316.2h0M226.2 316.8h0M226.3 316.1h0M228.8 316.3h0M229.0 316.6h0M230.4 316.1h0M230.7 316.3h0M231.7 316.9h0M232.6 316.6h0M234.2 316.5h0M235.2 316.7h0M236.6 316.6h0M237.2 316.5h0M240.0 316.8h0M241.0 316.8h0M240.6 316.8h0M241.9 316.3h0M242.6 316.9h0M250.5 316.3h0M250.8 316.5h0M258.1 316.3h0M258.3 316.5h0M260.4 316.2h0M261.6 316.3h0M262.8 316.1h0M401.3 316.6h0M402.9 316.1h0M402.7 316.0h0M404.7 316.2h0M409.3 316.7h0M410.1 316.3h0M415.6 316.3h0M417.1 316.3h0M417.3 316.5h0M418.6 316.6h0M419.5 317.0h0M421.0 316.2h0M421.8 316.6h0M422.9 316.9h0M422.4 316.5h0M424.4 316.0h0M428.4 316.1h0M431.3 316.5h0M432.0 317.0h0M432.9 316.4h0M437.2 317.0h0M61.5 318.0h0M202.5 317.0h0M202.3 317.8h0M203.0 317.8h0M204.3 317.6h0M209.2 317.9h0M212.8 318.0h0M213.3 317.6h0M213.1 317.3h0M213.1 317.9h0M214.2 317.7h0M215.3 317.6h0M215.9 317.6h0M216.1 317.4h0M216.6 317.4h0M217.1 317.1h0M220.3 317.2h0M221.2 317.9h0M222.4 317.4h0M223.1 317.1h0M223.0 317.0h0M224.1 317.7h0M225.9 317.5h0M228.5 317.5h0M230.2 317.7h0M230.2 317.9h0M231.7 317.3h0M233.4 317.8h0M233.5 317.6h0M234.1 317.9h0M238.1 317.7h0M238.4 317.4h0M252.1 317.7h0M259.4 317.7h0M262.8 317.0h0M262.5 317.0h0M262.3 317.5h0M263.6 317.9h0M263.7 317.5h0M404.2 317.5h0M405.0 317.3h0M405.4 317.3h0M413.1 317.5h0M415.1 317.3h0M417.9 317.5h0M423.5 317.9h0M435.0 317.6h0M60.0 318.4h0M61.7 318.3h0M200.1 318.7h0M202.5 318.6h0M205.3 318.7h0M205.1 318.3h0M207.7 318.7h0M209.2 318.6h0M209.2 318.7h0M209.5 318.0h0M210.1 318.5h0M210.5 319.0h0M212.3 318.8h0M212.3 318.4h0M213.8 318.1h0M213.9 318.8h0M216.2 318.8h0M218.5 319.0h0M218.5 318.5h0M219.6 318.4h0M221.9 318.2h0M222.4 318.6h0M225.4 318.6h0M225.3 318.9h0M225.4 319.0h0M226.4 318.8h0M228.9 318.2h0M229.2 318.6h0M232.6 318.6h0M236.1 319.0h0M236.2 318.8h0M237.7 318.0h0M237.3 318.0h0M241.6 318.2h0M242.6 318.4h0M252.8 318.3h0M259.7 318.9h0M260.0 318.2h0M264.8 318.6h0M407.4 318.5h0M408.8 318.6h0M408.3 318.7h0M412.4 318.4h0M412.1 318.9h0M412.4 318.2h0M412.6 318.8h0M415.7 318.7h0M416.9 318.1h0M418.8 318.6h0M419.4 318.3h0M423.0 318.1h0M423.7 319.0h0M427.2 318.5h0M430.5 318.7h0M60.2 319.5h0M61.4 319.9h0M197.3 319.5h0M197.2 319.0h0M198.3 319.5h0M199.9 319.1h0M202.5 319.2h0M203.1 320.0h0M204.1 319.7h0M206.5 319.3h0M208.6 319.4h0M211.2 319.9h0M213.1 319.0h0M214.8 319.8h0M214.0 319.4h0M214.2 319.5h0M215.2 319.8h0M217.0 319.8h0M216.6 319.4h0M217.2 319.2h0M220.7 319.8h0M221.4 319.8h0M223.8 319.6h0M224.4 319.2h0M224.3 319.7h0M227.1 319.6h0M232.0 319.9h0M233.6 319.6h0M235.0 319.8h0M234.6 319.6h0M237.5 319.8h0M237.5 319.9h0M242.4 319.3h0M242.3 319.3h0M249.4 319.3h0M250.8 319.2h0M250.7 319.8h0M250.0 319.1h0M252.9 319.3h0M252.5 319.4h0M257.9 319.8h0M264.7 319.9h0M414.8 319.0h0M415.4 319.2h0M416.5 319.9h0M418.4 319.8h0M419.2 319.9h0M422.3 319.3h0M423.1 319.7h0M423.9 319.0h0M424.6 319.3h0M426.8 319.4h0M428.1 319.3h0M428.6 319.3h0M431.2 319.8h0M433.1 319.7h0M433.6 319.6h0M433.1 319.0h0M60.7 320.8h0M61.2 320.3h0M195.4 320.8h0M195.8 320.6h0M197.5 320.0h0M199.8 320.2h0M201.2 320.6h0M202.1 320.7h0M204.4 320.1h0M204.4 320.5h0M206.0 320.1h0M208.1 320.1h0M210.1 321.0h0M211.7 320.4h0M214.6 320.5h0M214.9 320.5h0M215.0 320.9h0M218.2 320.3h0M219.2 320.6h0M219.1 320.7h0M219.9 320.5h0M221.1 320.5h0M224.9 320.4h0M226.7 320.5h0M227.4 320.1h0M230.0 320.5h0M229.2 320.3h0M235.0 320.4h0M239.5 320.6h0M241.7 320.7h0M250.1 320.9h0M262.7 320.6h0M262.9 320.8h0M263.2 320.0h0M264.8 320.8h0M414.4 320.8h0M415.2 320.4h0M417.9 320.3h0M417.7 320.5h0M420.7 320.5h0M421.9 320.1h0M421.9 320.3h0M422.7 320.0h0M422.7 320.2h0M423.1 320.1h0M423.1 320.9h0M424.6 320.7h0M426.0 320.6h0M426.3 320.2h0M427.4 320.2h0M428.8 320.1h0M430.3 320.2h0M431.0 320.3h0M432.0 320.9h0M433.0 320.8h0M436.4 321.0h0M60.7 321.3h0M61.4 321.2h0M192.1 321.9h0M193.1 321.3h0M194.3 321.1h0M195.6 321.9h0M196.6 321.5h0M196.1 321.4h0M201.6 321.8h0M203.3 321.5h0M204.9 321.5h0M207.5 321.2h0M210.8 321.3h0M211.0 321.2h0M213.2 321.7h0M213.2 321.8h0M214.6 321.0h0M216.3 321.5h0M216.2 321.1h0M222.8 321.7h0M224.1 321.5h0M226.0 321.4h0M226.6 321.5h0M226.5 321.9h0M227.6 321.7h0M227.9 321.6h0M228.4 321.8h0M231.1 321.2h0M231.4 321.5h0M232.9 321.1h0M238.8 321.9h0M240.9 322.0h0M240.8 321.8h0M241.2 321.5h0M251.3 321.4h0M257.5 321.7h0M258.6 321.3h0M262.8 321.9h0M262.9 321.4h0M262.4 321.5h0M263.9 321.9h0M263.5 321.7h0M264.2 321.2h0M420.3 321.5h0M423.0 321.1h0M423.6 321.8h0M424.0 321.4h0M424.2 321.5h0M424.5 321.6h0M425.8 321.8h0M425.8 322.0h0M428.1 321.1h0M428.9 321.2h0M428.9 321.3h0M431.1 321.6h0M433.6 321.6h0M436.1 321.7h0M61.2 322.4h0M61.8 322.3h0M188.5 322.9h0M188.4 322.7h0M188.5 322.7h0M190.0 322.7h0M191.1 322.7h0M193.5 322.7h0M193.8 322.9h0M194.5 322.7h0M197.8 322.3h0M198.9 322.4h0M198.3 322.7h0M199.4 322.9h0M200.3 322.2h0M201.1 322.7h0M202.8 322.1h0M204.6 322.2h0M205.6 322.2h0M208.8 322.5h0M208.4 322.8h0M213.0 322.6h0M215.9 322.1h0M216.0 322.3h0M216.6 322.7h0M217.5 322.2h0M217.9 322.3h0M220.7 322.9h0M221.0 322.0h0M223.3 322.3h0M227.0 322.7h0M231.5 322.4h0M239.3 322.2h0M251.0 323.0h0M252.2 322.1h0M261.2 322.2h0M261.1 322.8h0M262.4 322.3h0M264.4 322.8h0M426.6 322.1h0M427.1 322.7h0M429.3 322.9h0M432.7 322.8h0M434.5 322.7h0M434.7 322.6h0M434.8 322.7h0M436.6 322.3h0M186.8 323.7h0M187.0 323.2h0M189.2 323.7h0M189.9 323.9h0M190.7 323.2h0M191.9 323.4h0M191.6 323.2h0M195.4 323.5h0M196.6 323.6h0M197.1 323.4h0M199.0 323.2h0M202.8 323.1h0M202.2 323.2h0M205.0 324.0h0M205.5 323.3h0M212.7 323.5h0M214.7 323.3h0M215.3 323.5h0M216.1 324.0h0M216.8 323.3h0M218.3 323.8h0M219.4 323.9h0M225.9 323.3h0M225.9 323.4h0M228.9 323.5h0M230.7 323.2h0M230.0 324.0h0M232.3 323.5h0M234.3 323.7h0M234.0 323.4h0M234.2 323.6h0M235.3 323.3h0M237.7 323.9h0M241.4 323.6h0M251.7 323.8h0M252.7 323.8h0M252.1 323.3h0M253.4 323.1h0M257.9 323.9h0M259.2 323.4h0M424.0 323.6h0M426.8 323.6h0M426.5 323.1h0M427.2 323.0h0M427.8 323.6h0M428.1 323.6h0M428.3 323.0h0M432.8 323.6h0M433.1 323.6h0M434.5 323.7h0M435.9 323.1h0M436.9 323.7h0M184.6 324.4h0M186.7 324.6h0M189.0 324.9h0M190.1 324.5h0M197.7 324.9h0M197.3 324.9h0M203.7 324.3h0M204.5 324.3h0M205.8 324.4h0M207.0 324.2h0M206.5 325.0h0M214.9 324.9h0M216.1 324.2h0M218.0 324.5h0M217.2 324.2h0M220.2 324.4h0M220.8 324.6h0M220.3 324.3h0M221.9 325.0h0M222.2 324.7h0M224.5 324.7h0M224.7 324.1h0M225.8 324.7h0M231.5 324.9h0M231.7 324.4h0M234.2 324.2h0M235.6 324.5h0M235.8 324.2h0M236.8 324.3h0M238.7 324.4h0M240.9 324.8h0M250.0 324.9h0M258.7 324.8h0M259.5 324.0h0M259.4 324.2h0M262.0 324.6h0M263.8 324.5h0M264.1 324.9h0M430.4 324.3h0M432.5 324.1h0M433.5 324.1h0M434.1 324.6h0M435.8 324.2h0M435.7 324.1h0M60.6 325.1h0M181.8 325.7h0M183.8 325.8h0M183.8 325.8h0M185.3 326.0h0M188.0 325.1h0M190.0 325.2h0M192.0 325.7h0M193.2 325.9h0M193.9 325.8h0M195.2 325.4h0M197.9 325.3h0M197.3 325.4h0M199.4 325.8h0M199.3 325.6h0M200.6 325.3h0M201.8 325.1h0M202.3 325.8h0M203.1 325.1h0M203.7 325.9h0M204.2 325.0h0M205.3 325.8h0M205.9 325.7h0M206.5 325.8h0M207.3 325.7h0M207.7 325.8h0M208.1 325.5h0M208.6 325.5h0M214.2 325.2h0M216.2 325.7h0M216.5 325.2h0M221.5 325.9h0M222.2 325.3h0M223.9 325.0h0M224.3 325.7h0M227.6 325.6h0M228.7 325.1h0M228.3 325.2h0M228.7 325.2h0M229.3 325.6h0M230.2 325.4h0M230.0 325.4h0M233.7 325.2h0M234.3 325.8h0M234.3 325.7h0M236.0 325.1h0M237.1 325.1h0M239.7 325.8h0M430.8 325.3h0M432.8 325.6h0M436.4 326.0h0M436.1 325.6h0M436.1 325.4h0M437.1 325.2h0M438.2 326.0h0M61.5 326.3h0M176.3 326.0h0M178.6 327.0h0M181.7 326.1h0M182.9 326.2h0M187.5 326.3h0M193.9 326.1h0M195.8 326.1h0M196.8 326.0h0M196.8 327.0h0M197.1 326.6h0M198.9 326.0h0M201.4 326.5h0M201.8 326.9h0M201.4 326.3h0M202.3 326.1h0M204.6 326.1h0M204.9 326.7h0M205.2 326.9h0M207.9 327.0h0M207.5 326.6h0M210.0 326.8h0M213.1 326.9h0M213.2 327.0h0M217.1 326.4h0M219.1 326.1h0M220.8 326.1h0M226.7 326.6h0M228.3 326.9h0M230.0 326.1h0M229.0 326.4h0M229.5 326.6h0M229.9 327.0h0M232.9 326.9h0M232.3 326.7h0M234.8 326.7h0M235.3 326.1h0M235.5 326.2h0M238.8 326.1h0M238.8 326.7h0M238.5 326.2h0M240.4 326.7h0M241.1 326.4h0M251.8 326.1h0M258.6 326.7h0M260.0 326.6h0M260.6 326.3h0M260.8 326.9h0M263.3 326.6h0M435.6 326.5h0M437.8 326.0h0M440.5 326.5h0M442.6 326.1h0M443.7 327.0h0M447.7 326.1h0M449.0 326.8h0M450.8 326.8h0M450.1 326.9h0M450.5 326.1h0M453.1 326.5h0M454.5 326.0h0M455.6 326.0h0M456.9 326.3h0M457.8 326.0h0M178.5 327.7h0M181.4 327.4h0M188.6 327.5h0M188.7 327.7h0M189.1 327.5h0M190.7 327.5h0M195.2 327.9h0M195.3 327.1h0M198.2 327.6h0M198.6 327.6h0M198.5 327.1h0M201.1 327.6h0M202.0 327.9h0M203.3 327.6h0M203.3 328.0h0M205.1 327.5h0M207.6 327.7h0M208.3 327.6h0M209.3 328.0h0M209.1 327.1h0M211.9 327.6h0M212.7 327.3h0M212.9 327.6h0M214.6 327.9h0M216.8 327.1h0M217.8 327.8h0M219.9 327.9h0M221.9 327.0h0M226.2 327.1h0M227.4 327.5h0M227.2 327.4h0M230.3 327.7h0M231.6 327.9h0M231.3 327.5h0M239.5 327.2h0M249.2 327.2h0M251.9 327.4h0M253.1 327.8h0M262.0 327.4h0M262.7 327.6h0M262.7 327.4h0M263.0 327.5h0M264.7 327.6h0M440.1 327.2h0M440.2 327.1h0M442.3 327.5h0M444.3 327.1h0M449.6 327.1h0M450.1 327.1h0M453.1 327.4h0M455.1 327.8h0M458.0 327.1h0M458.7 327.5h0M173.9 329.0h0M175.0 328.3h0M176.9 328.1h0M176.0 328.6h0M180.4 328.2h0M180.2 328.7h0M181.6 328.6h0M183.5 328.2h0M183.6 328.4h0M183.9 329.0h0M185.5 328.4h0M185.9 328.9h0M185.7 328.5h0M189.6 328.8h0M189.9 328.3h0M191.1 328.1h0M195.5 328.6h0M199.4 328.1h0M199.9 328.3h0M202.1 328.6h0M205.0 328.3h0M205.8 328.1h0M206.8 328.8h0M207.9 328.1h0M208.1 328.4h0M208.5 328.4h0M209.1 328.9h0M210.6 328.2h0M210.2 328.6h0M211.1 328.3h0M211.1 328.9h0M216.2 328.1h0M218.0 328.1h0M219.4 328.6h0M222.8 328.5h0M224.6 328.7h0M226.3 328.5h0M229.9 328.5h0M229.2 328.7h0M232.3 328.5h0M237.6 328.5h0M238.5 328.1h0M239.2 328.5h0M252.5 328.5h0M252.9 328.6h0M253.0 328.5h0M253.5 328.8h0M253.4 328.4h0M257.8 328.8h0M260.2 328.8h0M261.2 328.6h0M263.8 329.0h0M61.8 329.6h0M167.8 330.0h0M167.1 329.2h0M170.0 329.3h0M169.8 329.2h0M171.3 329.7h0M171.3 330.0h0M175.4 330.0h0M177.3 329.5h0M183.9 329.9h0M184.9 329.6h0M185.7 329.8h0M185.8 329.8h0M189.3 329.5h0M190.9 329.3h0M190.3 329.5h0M194.6 329.7h0M195.8 329.1h0M197.7 329.8h0M200.9 329.9h0M202.3 329.6h0M203.8 329.6h0M204.4 329.5h0M206.7 329.8h0M207.4 329.0h0M209.7 329.5h0M211.5 329.1h0M213.2 329.4h0M216.1 329.7h0M218.5 329.2h0M219.1 329.3h0M220.6 329.5h0M220.1 329.5h0M222.6 329.5h0M223.4 329.7h0M225.1 329.1h0M228.8 329.1h0M229.1 329.8h0M234.9 329.5h0M234.9 329.1h0M235.3 329.6h0M238.5 329.9h0M240.6 329.8h0M252.4 329.1h0M252.7 329.9h0M252.1 329.8h0M263.2 329.8h0M459.4 329.9h0M460.0 329.7h0M162.0 330.6h0M163.1 330.6h0M165.0 330.2h0M165.1 330.2h0M170.7 330.4h0M171.0 330.5h0M175.1 330.7h0M177.3 330.8h0M178.6 330.3h0M182.0 330.2h0M182.7 330.3h0M182.2 330.2h0M183.2 330.7h0M183.0 330.2h0M184.0 330.2h0M187.0 331.0h0M188.4 330.0h0M192.3 330.4h0M195.2 330.7h0M196.8 330.7h0M197.0 330.9h0M197.8 330.9h0M198.6 330.1h0M199.5 330.4h0M200.0 330.8h0M201.3 330.0h0M201.3 330.7h0M203.8 330.3h0M203.9 330.2h0M206.5 330.1h0M209.7 330.7h0M209.6 330.2h0M209.0 330.3h0M212.9 330.7h0M213.3 330.8h0M214.3 330.7h0M217.6 330.4h0M217.1 330.4h0M217.7 330.4h0M224.4 330.5h0M225.5 330.1h0M225.2 331.0h0M226.1 330.6h0M226.0 330.0h0M226.7 330.3h0M226.4 330.4h0M227.4 330.8h0M231.0 330.7h0M231.9 330.1h0M231.5 330.0h0M232.7 331.0h0M233.9 330.7h0M234.9 330.0h0M235.7 330.6h0M236.1 330.2h0M237.1 330.6h0M239.7 330.4h0M239.7 330.3h0M241.0 331.0h0M249.1 330.3h0M258.6 330.2h0M259.9 330.9h0M260.7 330.6h0M264.1 330.4h0M459.9 330.5h0M158.9 331.2h0M158.7 331.5h0M160.6 331.9h0M160.0 331.6h0M160.2 331.2h0M162.1 332.0h0M163.5 331.3h0M164.2 332.0h0M164.5 331.3h0M164.1 331.1h0M165.8 331.7h0M166.6 331.8h0M166.9 331.2h0M166.4 331.8h0M167.2 331.2h0M167.6 331.6h0M171.9 331.5h0M171.8 331.6h0M171.6 331.4h0M174.3 331.1h0M176.4 331.1h0M178.2 331.6h0M182.2 331.7h0M183.9 331.4h0M184.3 331.9h0M185.6 331.0h0M186.3 331.8h0M186.8 331.2h0M186.8 331.0h0M188.5 331.1h0M193.1 331.2h0M193.4 331.2h0M195.8 331.4h0M196.0 331.0h0M197.8 331.3h0M198.3 331.5h0M200.3 331.2h0M201.2 331.2h0M202.9 331.7h0M202.9 332.0h0M203.1 331.6h0M205.1 331.1h0M206.8 331.7h0M207.1 331.7h0M207.9 331.1h0M212.9 331.4h0M214.2 331.4h0M214.9 331.6h0M216.6 331.8h0M217.6 331.1h0M218.3 331.3h0M223.4 331.3h0M224.2 331.2h0M225.4 331.3h0M226.5 331.2h0M228.8 331.9h0M228.4 331.4h0M231.4 331.2h0M233.1 331.6h0M234.8 331.2h0M241.6 331.1h0M253.4 331.6h0M253.8 331.1h0M258.4 331.7h0M260.1 331.7h0M260.3 331.8h0M263.1 331.5h0M458.2 331.9h0M60.3 332.9h0M60.5 332.9h0M155.4 332.1h0M156.3 332.6h0M158.2 332.3h0M161.5 332.9h0M163.0 333.0h0M163.2 332.5h0M165.2 332.9h0M165.8 332.9h0M165.5 332.9h0M165.2 332.7h0M166.0 332.0h0M167.1 332.9h0M169.8 332.1h0M172.4 332.8h0M172.4 332.5h0M173.2 332.0h0M173.5 332.9h0M175.0 332.6h0M176.9 332.4h0M176.1 332.6h0M177.1 332.5h0M178.1 332.3h0M179.2 332.9h0M179.7 332.3h0M179.1 332.9h0M180.9 332.4h0M181.3 332.9h0M181.4 332.5h0M182.5 332.8h0M187.1 332.4h0M192.1 333.0h0M192.1 332.5h0M193.3 332.1h0M194.1 332.0h0M196.1 332.2h0M197.9 332.9h0M199.4 332.8h0M199.6 332.1h0M199.2 332.5h0M201.7 332.9h0M202.2 332.9h0M202.8 333.0h0M202.2 332.7h0M203.0 332.3h0M203.1 332.2h0M203.4 332.7h0M205.5 332.6h0M206.7 332.4h0M213.4 332.9h0M214.5 332.1h0M220.0 332.8h0M224.3 332.6h0M224.8 332.2h0M225.7 332.1h0M225.5 332.0h0M235.6 332.1h0M238.1 332.3h0M238.6 332.1h0M250.8 332.7h0M253.1 332.2h0M261.0 332.7h0M261.3 332.5h0M262.4 332.1h0M263.4 332.6h0M263.1 332.7h0M459.6 332.1h0M459.5 332.8h0M60.7 333.9h0M60.7 333.2h0M155.4 333.8h0M159.6 333.8h0M160.0 333.2h0M159.3 333.8h0M161.5 333.1h0M161.8 333.0h0M163.9 333.4h0M164.4 333.1h0M165.7 333.3h0M165.2 333.0h0M168.7 333.9h0M169.7 333.2h0M173.5 333.2h0M174.2 333.4h0M175.0 334.0h0M175.4 333.5h0M175.3 334.0h0M175.3 333.9h0M176.9 333.1h0M183.9 333.7h0M184.8 333.1h0M185.2 334.0h0M186.0 333.4h0M186.2 333.5h0M186.7 333.3h0M190.6 333.1h0M191.8 333.2h0M191.8 333.6h0M193.5 333.4h0M193.4 333.1h0M194.2 333.9h0M195.5 333.7h0M195.3 333.2h0M196.2 333.1h0M196.5 333.8h0M196.2 333.8h0M197.7 333.7h0M198.1 333.2h0M201.0 333.4h0M200.5 333.8h0M202.8 333.0h0M205.0 333.8h0M205.8 333.4h0M209.2 333.4h0M211.0 333.3h0M210.9 333.5h0M211.7 334.0h0M212.4 333.9h0M214.0 333.3h0M217.9 333.0h0M218.1 333.4h0M221.6 333.8h0M221.6 333.2h0M225.8 333.5h0M226.9 333.8h0M227.6 333.6h0M232.0 333.9h0M235.5 333.2h0M237.2 333.1h0M237.9 333.6h0M240.8 333.5h0M252.7 333.0h0M253.1 333.8h0M260.9 333.0h0M260.4 333.4h0M261.0 333.7h0M261.2 333.3h0M460.0 333.2h0M152.5 334.2h0M152.2 334.0h0M153.8 334.5h0M154.9 334.6h0M154.0 334.5h0M154.4 334.8h0M155.3 334.4h0M155.7 334.5h0M155.4 334.8h0M156.2 334.8h0M156.2 334.8h0M157.4 334.7h0M159.1 334.6h0M160.6 334.2h0M162.0 334.6h0M162.0 334.9h0M167.4 334.5h0M168.3 334.5h0M171.0 334.9h0M171.5 334.6h0M177.6 334.9h0M179.5 334.5h0M179.5 334.1h0M180.9 335.0h0M181.8 335.0h0M181.6 334.5h0M182.9 334.6h0M182.9 334.4h0M182.8 334.4h0M184.3 334.9h0M185.0 334.9h0M190.1 334.9h0M191.1 334.4h0M191.1 334.2h0M197.0 334.5h0M198.4 334.7h0M199.9 334.2h0M200.7 334.6h0M200.9 334.6h0M201.8 334.8h0M202.4 334.7h0M202.6 334.2h0M205.2 334.7h0M206.8 334.3h0M208.7 335.0h0M208.3 334.4h0M209.9 334.9h0M215.0 334.5h0M215.8 334.0h0M218.7 334.5h0M225.0 334.6h0M225.1 334.1h0M227.9 334.7h0M230.7 334.1h0M230.3 334.3h0M231.4 334.3h0M232.5 334.8h0M233.2 334.0h0M233.8 334.1h0M236.3 334.1h0M240.5 334.5h0M250.6 334.6h0M253.3 334.7h0M258.3 334.3h0M260.5 334.7h0M260.9 334.7h0M265.5 334.3h0M458.5 334.6h0M458.4 334.0h0M60.9 335.8h0M148.2 335.4h0M149.0 335.9h0M149.3 335.6h0M152.7 335.3h0M154.1 335.4h0M155.7 335.5h0M156.4 335.0h0M158.4 335.9h0M158.1 335.9h0M158.2 335.5h0M159.8 335.1h0M160.2 336.0h0M161.4 335.0h0M162.1 335.7h0M163.9 335.7h0M164.6 335.8h0M164.5 335.0h0M166.9 335.2h0M169.9 335.7h0M171.7 335.3h0M172.0 335.3h0M174.1 335.2h0M176.9 335.7h0M180.6 335.3h0M183.1 335.3h0M184.3 335.8h0M186.9 335.8h0M187.1 335.6h0M190.7 335.9h0M191.9 335.3h0M192.1 335.6h0M195.1 335.1h0M197.2 335.0h0M199.5 335.4h0M199.8 335.7h0M200.8 335.4h0M201.7 335.9h0M204.0 335.4h0M204.6 335.8h0M206.2 335.6h0M209.0 335.3h0M211.1 335.5h0M212.4 335.4h0M212.6 335.2h0M213.6 335.4h0M215.7 335.6h0M216.1 335.7h0M216.4 335.4h0M223.9 335.7h0M229.6 335.1h0M229.0 335.9h0M232.1 335.7h0M234.4 335.9h0M237.8 335.1h0M241.5 335.2h0M249.3 335.5h0M251.4 335.4h0M251.8 335.5h0M253.3 335.4h0M260.0 335.4h0M262.8 335.8h0M265.8 335.1h0M458.1 335.8h0M60.8 336.0h0M145.9 336.5h0M145.5 336.7h0M149.7 336.3h0M149.6 337.0h0M149.6 336.5h0M152.0 336.1h0M153.3 336.7h0M153.7 336.2h0M153.4 336.5h0M156.5 336.5h0M159.6 336.2h0M159.7 336.8h0M161.0 336.2h0M161.3 336.2h0M163.0 336.8h0M162.5 336.9h0M165.6 336.2h0M167.2 336.6h0M169.7 336.9h0M169.4 336.5h0M171.0 336.1h0M171.5 336.2h0M173.2 336.9h0M175.5 336.3h0M176.4 336.9h0M178.8 336.6h0M179.0 336.9h0M181.0 336.5h0M183.5 336.4h0M184.7 336.4h0M186.5 336.3h0M187.3 336.1h0M187.3 336.3h0M188.8 336.6h0M189.9 336.3h0M192.4 336.9h0M193.7 336.7h0M197.2 336.2h0M198.6 336.1h0M200.3 336.4h0M202.7 336.8h0M204.3 336.9h0M206.6 336.4h0M210.0 336.5h0M210.4 336.7h0M211.2 336.4h0M211.6 336.9h0M212.5 336.7h0M212.4 336.4h0M216.0 336.1h0M220.5 336.5h0M220.3 336.8h0M223.5 336.8h0M224.6 336.5h0M224.7 336.1h0M224.8 336.3h0M227.0 336.7h0M227.1 336.3h0M227.0 336.9h0M229.4 336.5h0M230.8 336.6h0M230.6 336.2h0M231.0 336.9h0M232.9 336.0h0M233.8 336.6h0M233.4 336.9h0M235.6 336.8h0M236.5 336.7h0M240.2 336.2h0M241.2 336.7h0M241.2 336.3h0M251.0 336.0h0M253.7 336.7h0M253.1 336.4h0M259.5 336.2h0M261.6 336.3h0M261.0 336.7h0M144.1 337.4h0M145.4 337.7h0M147.2 337.8h0M147.2 337.9h0M150.7 337.8h0M151.6 337.2h0M152.9 337.4h0M152.5 337.3h0M153.0 337.3h0M155.4 337.9h0M155.0 337.6h0M157.1 337.7h0M158.4 337.6h0M160.9 337.4h0M164.0 337.3h0M168.2 337.9h0M168.3 337.9h0M169.6 337.4h0M172.7 337.4h0M172.6 338.0h0M175.3 337.5h0M178.7 337.5h0M179.5 337.7h0M181.3 337.2h0M186.4 337.5h0M187.9 337.6h0M190.3 337.7h0M196.0 337.9h0M198.0 337.6h0M199.0 337.6h0M198.8 337.6h0M202.7 337.6h0M206.9 337.7h0M208.3 337.7h0M209.3 337.7h0M213.7 337.9h0M214.3 337.6h0M214.2 337.9h0M216.3 337.7h0M217.0 337.1h0M220.1 337.2h0M221.5 337.3h0M222.8 337.4h0M222.7 337.7h0M225.4 337.0h0M227.6 337.8h0M229.2 337.3h0M230.1 337.8h0M230.3 337.8h0M232.6 337.8h0M232.7 337.6h0M236.8 337.3h0M238.7 337.1h0M250.5 337.1h0M252.6 337.6h0M253.8 337.9h0M253.3 337.5h0M259.7 337.2h0M259.1 337.0h0M261.6 337.1h0M265.8 337.7h0M266.3 337.1h0M61.4 338.4h0M142.9 338.8h0M145.1 339.0h0M145.5 338.9h0M147.5 339.0h0M151.5 338.3h0M154.8 338.2h0M156.7 338.6h0M158.0 338.9h0M159.6 338.7h0M160.5 338.2h0M161.1 339.0h0M163.4 338.6h0M166.9 338.2h0M169.0 338.9h0M170.1 338.2h0M173.4 338.5h0M173.3 338.1h0M175.6 338.8h0M175.5 338.7h0M177.3 338.9h0M180.6 338.2h0M185.2 338.4h0M186.4 338.7h0M188.0 338.5h0M190.0 338.6h0M189.6 338.0h0M189.9 338.9h0M190.0 338.9h0M192.2 339.0h0M194.4 338.6h0M194.2 338.4h0M196.2 338.1h0M197.2 338.9h0M202.4 338.8h0M203.3 338.5h0M204.6 338.9h0M205.6 338.7h0M206.3 338.2h0M207.9 338.3h0M214.3 338.7h0M217.5 338.6h0M218.4 338.2h0M226.0 338.6h0M227.1 338.3h0M227.5 338.8h0M230.2 338.1h0M232.7 338.3h0M236.0 338.6h0M235.2 339.0h0M238.0 338.1h0M251.8 339.0h0M258.1 338.2h0M259.2 338.3h0M458.0 338.9h0M138.1 339.6h0M139.2 339.6h0M140.2 339.6h0M141.3 340.0h0M142.6 339.7h0M143.9 339.2h0M146.3 339.8h0M147.9 339.4h0M148.6 339.4h0M148.4 339.1h0M149.1 339.6h0M154.7 339.4h0M155.0 340.0h0M156.5 339.9h0M157.7 339.7h0M161.5 339.2h0M161.1 339.3h0M165.4 339.2h0M165.4 340.0h0M167.0 339.5h0M168.4 339.4h0M171.9 339.4h0M173.9 339.3h0M175.6 339.3h0M180.6 339.1h0M180.4 339.3h0M183.2 339.5h0M187.2 339.9h0M190.5 339.8h0M190.5 339.5h0M191.8 339.8h0M193.4 340.0h0M196.3 339.8h0M197.1 339.2h0M197.7 339.7h0M198.7 339.3h0M199.3 339.4h0M200.3 339.6h0M200.0 339.7h0M202.0 339.0h0M201.1 339.8h0M203.7 339.4h0M204.2 339.9h0M210.7 339.2h0M211.9 339.2h0M211.3 339.2h0M212.7 339.2h0M217.7 340.0h0M219.7 339.9h0M220.8 339.9h0M221.2 340.0h0M221.5 339.5h0M223.0 339.3h0M224.0 339.4h0M228.0 339.5h0M229.2 339.7h0M231.2 339.0h0M233.0 339.9h0M234.0 339.5h0M235.4 339.0h0M235.2 339.6h0M237.8 339.1h0M240.1 339.3h0M243.4 340.0h0M252.0 339.5h0M251.2 339.4h0M258.1 339.5h0M259.8 340.0h0M60.8 340.2h0M61.0 341.0h0M142.7 340.7h0M142.3 340.9h0M146.9 340.8h0M147.7 340.8h0M149.7 340.0h0M150.6 340.2h0M154.9 341.0h0M158.6 340.8h0M158.7 340.5h0M160.2 340.5h0M165.4 340.7h0M165.4 340.3h0M165.7 341.0h0M166.7 340.9h0M168.2 340.6h0M170.9 340.0h0M171.0 340.3h0M171.8 340.4h0M173.7 340.9h0M174.1 340.8h0M176.6 340.5h0M177.3 340.4h0M177.7 341.0h0M177.1 340.1h0M178.7 340.9h0M178.8 340.7h0M179.7 340.5h0M185.5 340.7h0M186.5 340.3h0M186.9 340.8h0M187.5 340.9h0M187.6 340.7h0M189.0 340.6h0M192.6 340.9h0M195.2 340.3h0M198.6 340.5h0M199.6 340.2h0M200.4 340.0h0M200.1 340.1h0M209.5 340.6h0M214.4 340.4h0M214.7 340.8h0M215.5 340.4h0M219.7 340.7h0M219.5 340.6h0M220.8 340.5h0M225.0 340.8h0M224.7 340.2h0M224.3 340.7h0M227.5 340.8h0M228.8 340.8h0M232.5 340.7h0M233.2 340.4h0M234.3 340.6h0M235.6 340.9h0M238.0 340.2h0M239.3 340.2h0M239.4 340.6h0M241.0 340.7h0M249.1 340.6h0M249.1 340.1h0M250.6 340.4h0M258.1 340.4h0M258.4 340.4h0M264.7 340.1h0M133.6 341.6h0M133.1 341.7h0M142.3 341.2h0M143.9 341.5h0M145.6 342.0h0M147.5 341.9h0M149.9 341.3h0M151.8 341.1h0M153.9 341.8h0M154.9 341.2h0M157.6 341.4h0M160.0 341.4h0M159.8 341.3h0M159.7 341.9h0M160.6 341.7h0M161.7 341.7h0M161.7 341.4h0M163.0 341.7h0M163.8 341.8h0M166.7 341.8h0M171.6 341.7h0M174.6 341.4h0M175.5 341.8h0M176.0 341.5h0M180.5 341.6h0M182.9 341.9h0M183.0 341.5h0M183.2 341.8h0M183.1 341.4h0M186.3 341.4h0M187.6 341.6h0M188.1 341.4h0M188.6 341.1h0M188.3 341.2h0M189.2 342.0h0M193.2 341.5h0M193.8 341.4h0M196.3 341.7h0M198.7 341.7h0M199.6 341.5h0M200.8 341.8h0M201.4 341.2h0M201.9 341.6h0M202.5 341.8h0M206.3 341.6h0M206.1 341.7h0M209.8 341.6h0M209.1 341.9h0M213.7 341.0h0M216.1 342.0h0M224.9 341.8h0M224.5 341.4h0M227.9 341.9h0M227.3 341.7h0M229.7 341.7h0M229.2 341.8h0M230.9 341.8h0M231.7 341.4h0M233.8 341.8h0M235.3 341.1h0M236.0 341.1h0M253.6 341.6h0M258.1 341.3h0M261.5 341.5h0M261.1 341.4h0M265.2 341.7h0M458.2 341.8h0M459.6 341.6h0M132.0 342.8h0M132.1 342.9h0M132.8 342.8h0M133.1 342.6h0M134.3 342.7h0M135.4 342.4h0M138.6 342.4h0M139.8 342.6h0M139.6 342.8h0M140.7 342.8h0M141.8 342.0h0M144.0 342.8h0M147.3 342.8h0M148.8 342.3h0M150.6 342.5h0M151.3 342.7h0M152.0 342.5h0M153.8 342.1h0M154.0 342.4h0M155.8 342.9h0M157.2 342.4h0M158.8 342.3h0M160.9 342.5h0M161.4 342.5h0M162.3 342.0h0M162.9 342.3h0M162.5 342.3h0M162.6 342.3h0M166.6 342.8h0M167.2 342.4h0M169.0 342.3h0M172.4 342.6h0M175.8 342.1h0M178.1 342.9h0M179.5 342.9h0M180.7 342.6h0M180.1 342.3h0M181.3 342.8h0M182.8 342.2h0M182.2 343.0h0M184.9 342.7h0M184.8 342.5h0M191.7 342.7h0M191.5 342.2h0M193.4 342.4h0M194.5 342.0h0M194.8 342.8h0M197.4 342.2h0M197.5 342.1h0M201.8 342.6h0M203.6 342.3h0M203.3 342.8h0M204.4 342.6h0M206.2 342.2h0M208.2 342.9h0M209.6 342.2h0M210.8 342.8h0M213.6 343.0h0M213.7 342.6h0M213.6 342.1h0M213.3 342.3h0M214.8 342.0h0M216.7 342.9h0M219.0 342.5h0M218.8 342.6h0M220.8 342.7h0M220.4 342.0h0M222.4 342.6h0M223.9 342.5h0M224.4 342.1h0M224.8 342.2h0M225.9 342.5h0M226.5 342.0h0M228.3 342.1h0M228.8 342.8h0M228.4 342.2h0M229.8 342.9h0M234.4 342.4h0M235.4 342.0h0M237.1 342.7h0M238.3 342.6h0M240.5 342.1h0M249.4 342.5h0M253.5 342.2h0M260.7 342.9h0M260.5 342.1h0M262.5 342.5h0M266.1 342.7h0M266.8 342.5h0M458.4 342.4h0M130.6 343.9h0M133.5 343.6h0M139.7 343.4h0M141.6 343.3h0M143.2 343.2h0M145.6 343.0h0M147.0 343.1h0M146.9 343.5h0M148.4 343.6h0M156.6 343.0h0M158.1 343.2h0M158.3 343.2h0M160.5 343.8h0M164.7 343.3h0M165.3 343.5h0M165.7 344.0h0M166.2 343.7h0M167.1 343.4h0M168.3 343.1h0M175.6 343.5h0M176.5 343.4h0M176.5 343.9h0M177.9 343.7h0M177.1 343.9h0M178.0 343.8h0M178.8 343.8h0M179.2 343.3h0M180.8 343.3h0M181.8 343.8h0M182.0 343.3h0M183.6 343.7h0M185.8 343.1h0M186.0 343.1h0M185.0 343.4h0M186.4 343.1h0M186.1 343.4h0M187.3 343.7h0M193.8 343.7h0M193.4 343.5h0M194.9 343.2h0M196.8 343.4h0M201.0 343.4h0M202.8 343.1h0M204.6 343.9h0M204.4 343.3h0M206.2 343.1h0M207.5 343.6h0M210.3 343.0h0M210.4 343.3h0M214.4 343.9h0M217.7 343.5h0M220.6 343.9h0M221.0 343.2h0M222.5 343.8h0M225.8 343.1h0M226.2 343.1h0M228.5 343.6h0M232.6 343.5h0M233.3 343.5h0M234.0 343.2h0M236.3 343.8h0M237.4 343.5h0M240.1 343.9h0M240.9 343.9h0M241.6 343.9h0M242.9 344.0h0M257.5 343.8h0M259.0 343.6h0M261.9 343.2h0M265.1 343.1h0M266.6 343.0h0M266.5 343.7h0M60.7 344.5h0M125.2 344.9h0M128.3 344.8h0M130.0 344.3h0M129.2 344.2h0M131.3 344.1h0M132.2 344.6h0M135.7 344.8h0M142.0 344.1h0M149.4 344.3h0M152.9 344.8h0M153.8 344.6h0M156.2 344.4h0M157.0 344.9h0M159.3 344.1h0M160.5 344.4h0M161.7 344.8h0M165.4 344.0h0M166.3 344.9h0M166.4 344.4h0M171.5 344.2h0M171.0 344.9h0M174.3 344.3h0M177.9 344.6h0M179.1 344.1h0M181.0 345.0h0M182.5 344.6h0M183.4 344.6h0M186.0 344.7h0M186.9 344.1h0M190.1 344.4h0M190.3 344.6h0M191.4 344.8h0M194.3 344.2h0M195.2 344.1h0M195.7 344.4h0M196.3 344.7h0M196.2 345.0h0M197.1 344.7h0M199.2 344.4h0M201.3 344.7h0M205.0 344.8h0M205.0 344.8h0M208.9 344.8h0M209.8 344.6h0M210.8 344.7h0M214.0 344.1h0M214.9 344.8h0M215.4 344.7h0M218.6 344.9h0M218.1 344.7h0M218.1 344.3h0M220.8 344.3h0M220.4 344.1h0M222.7 344.1h0M224.9 344.6h0M227.8 344.9h0M230.9 344.6h0M235.4 344.6h0M236.2 344.0h0M236.4 344.3h0M238.4 344.1h0M239.8 344.5h0M251.9 344.2h0M257.6 344.6h0M258.5 344.7h0M262.3 344.4h0M459.4 344.9h0M60.5 345.8h0M122.8 345.2h0M123.9 345.2h0M125.0 345.9h0M124.5 345.9h0M131.7 345.4h0M131.7 345.9h0M131.1 345.1h0M132.3 346.0h0M132.2 345.3h0M132.6 345.3h0M134.6 345.9h0M138.0 345.2h0M140.5 345.7h0M141.4 345.4h0M147.2 345.7h0M151.5 345.3h0M154.8 345.9h0M155.1 345.1h0M156.6 345.1h0M157.2 345.6h0M157.3 345.5h0M157.4 345.2h0M157.7 345.3h0M157.6 345.4h0M160.4 345.5h0M164.9 345.7h0M165.4 345.3h0M167.8 345.6h0M168.0 345.8h0M168.3 345.4h0M169.5 345.9h0M169.2 345.3h0M171.0 345.4h0M171.6 345.1h0M172.5 345.0h0M172.3 345.9h0M173.0 345.7h0M174.2 346.0h0M174.1 345.4h0M176.2 345.0h0M177.9 345.5h0M177.3 345.7h0M179.4 345.1h0M182.6 345.7h0M185.1 345.2h0M185.4 345.4h0M186.9 345.8h0M187.8 345.2h0M188.6 345.9h0M194.5 345.8h0M198.8 346.0h0M198.4 345.5h0M198.2 345.4h0M202.4 345.9h0M203.8 345.2h0M204.7 345.6h0M207.4 345.8h0M207.5 345.4h0M207.8 345.5h0M209.1 345.5h0M209.3 345.7h0M210.5 345.6h0M211.9 345.7h0M211.6 345.4h0M213.0 345.6h0M216.8 345.2h0M220.6 345.6h0M221.3 345.2h0M224.1 345.6h0M226.7 345.3h0M231.6 345.7h0M232.8 345.3h0M232.9 345.1h0M236.1 345.5h0M240.0 345.9h0M239.6 345.9h0M239.4 345.1h0M241.0 345.9h0M240.3 345.5h0M240.5 345.2h0M240.5 345.4h0M250.3 345.2h0M259.6 345.1h0M261.8 345.9h0M262.6 345.1h0M459.6 345.5h0M60.5 346.9h0M125.4 346.6h0M126.8 347.0h0M126.2 346.3h0M126.0 346.0h0M126.7 346.7h0M127.8 346.4h0M128.0 346.9h0M133.4 346.8h0M136.4 346.7h0M141.2 346.4h0M142.6 346.8h0M144.2 346.8h0M145.4 346.3h0M146.3 346.7h0M154.5 346.7h0M160.9 346.8h0M166.3 346.1h0M166.8 346.5h0M174.0 346.7h0M173.3 346.5h0M174.6 346.1h0M176.6 346.8h0M179.9 346.6h0M181.1 346.7h0M181.9 346.5h0M183.0 346.8h0M185.9 346.8h0M186.3 346.7h0M187.8 346.1h0M190.2 346.9h0M191.9 346.0h0M191.5 346.7h0M192.6 346.8h0M194.4 346.9h0M194.5 346.9h0M194.3 346.4h0M194.5 346.0h0M196.1 346.3h0M197.7 346.1h0M197.7 346.8h0M199.9 346.2h0M200.9 346.9h0M202.6 346.3h0M213.6 346.4h0M213.6 346.2h0M215.8 346.4h0M216.0 346.5h0M216.1 346.4h0M219.6 346.6h0M220.9 347.0h0M223.6 346.6h0M225.6 346.1h0M228.7 346.2h0M231.0 346.3h0M234.9 346.3h0M235.0 346.9h0M237.9 346.1h0M241.3 346.8h0M241.6 346.4h0M249.7 347.0h0M250.0 346.7h0M250.4 346.2h0M252.2 346.3h0M257.5 346.2h0M258.2 346.1h0M261.3 346.8h0M458.3 346.8h0M116.9 347.8h0M116.0 347.8h0M116.4 347.3h0M118.6 347.5h0M122.0 347.2h0M123.2 347.1h0M123.2 347.9h0M143.6 347.5h0M144.1 347.8h0M146.6 348.0h0M152.5 347.1h0M155.2 347.0h0M157.9 347.6h0M157.4 348.0h0M159.4 347.8h0M161.6 347.2h0M161.8 347.7h0M166.5 347.4h0M169.0 347.4h0M172.0 347.5h0M171.7 347.3h0M172.1 347.1h0M176.0 347.2h0M178.6 347.9h0M178.6 347.7h0M181.0 347.2h0M181.1 347.9h0M183.6 347.3h0M183.1 347.2h0M183.7 347.4h0M189.0 347.4h0M188.0 347.5h0M190.7 347.6h0M190.1 347.4h0M190.2 347.9h0M192.5 347.9h0M192.8 347.4h0M196.8 347.4h0M203.5 347.3h0M216.7 347.5h0M219.9 347.4h0M219.5 347.4h0M224.5 347.8h0M225.3 347.8h0M225.2 348.0h0M226.6 347.3h0M234.0 347.6h0M235.6 347.4h0M235.8 347.9h0M239.3 347.5h0M240.6 347.8h0M241.1 347.9h0M241.7 347.9h0M258.5 347.4h0M459.3 347.9h0M61.6 348.8h0M115.1 348.4h0M116.0 348.4h0M116.3 348.5h0M117.7 348.4h0M120.3 348.5h0M120.4 348.8h0M128.4 348.2h0M130.2 348.2h0M139.0 348.8h0M149.0 348.5h0M150.6 348.7h0M153.0 349.0h0M159.4 348.1h0M161.3 348.4h0M163.3 348.5h0M166.5 348.5h0M167.9 348.9h0M171.7 348.2h0M173.9 348.6h0M176.6 348.7h0M178.9 348.5h0M180.8 348.8h0M182.2 348.4h0M183.8 348.9h0M183.8 348.2h0M183.7 348.7h0M184.3 348.1h0M185.9 348.7h0M193.9 348.8h0M202.3 348.5h0M203.7 348.2h0M204.5 348.6h0M206.4 348.1h0M206.8 348.0h0M212.8 348.1h0M221.7 348.6h0M225.2 348.5h0M226.0 348.9h0M227.6 348.9h0M227.2 348.5h0M229.5 348.5h0M230.8 348.4h0M232.8 348.1h0M232.5 348.6h0M266.1 348.1h0M459.9 349.0h0M61.6 349.7h0M114.1 349.9h0M118.5 349.8h0M120.3 349.4h0M122.9 349.9h0M124.1 350.0h0M129.2 349.5h0M142.8 350.0h0M144.9 349.6h0M144.9 349.3h0M149.4 349.1h0M153.6 349.9h0M155.3 349.2h0M158.9 349.6h0M161.8 349.8h0M168.8 349.3h0M168.9 349.6h0M169.8 349.5h0M170.1 349.1h0M171.7 349.9h0M174.5 349.6h0M176.9 349.8h0M179.6 349.4h0M183.2 349.5h0M185.7 349.7h0M186.6 349.7h0M186.4 349.3h0M190.0 349.6h0M190.8 349.5h0M191.2 349.0h0M193.9 349.3h0M195.3 349.1h0M197.5 349.7h0M200.2 349.4h0M206.1 349.1h0M207.8 349.4h0M207.6 349.1h0M208.2 349.6h0M210.5 350.0h0M211.9 349.8h0M216.5 349.6h0M217.1 349.5h0M219.5 349.6h0M219.7 349.5h0M221.4 349.1h0M222.7 349.5h0M224.8 350.0h0M225.6 349.0h0M234.4 349.1h0M238.6 349.1h0M240.1 349.4h0M241.1 349.4h0M258.6 349.5h0M258.9 349.8h0M265.8 349.4h0M458.7 349.1h0M459.7 349.6h0M109.5 350.6h0M110.6 350.2h0M110.2 350.4h0M110.0 350.3h0M113.2 350.8h0M113.8 350.8h0M113.0 350.0h0M116.4 350.9h0M120.4 350.7h0M120.3 351.0h0M120.2 350.5h0M125.4 350.7h0M126.3 350.4h0M136.9 351.0h0M137.7 350.0h0M142.8 350.8h0M143.7 350.9h0M146.8 350.1h0M151.7 350.1h0M153.4 350.0h0M155.4 350.8h0M159.9 350.9h0M160.6 350.1h0M160.4 351.0h0M161.1 350.1h0M168.5 350.1h0M169.4 350.3h0M169.8 350.4h0M170.7 350.5h0M171.1 350.7h0M173.5 350.8h0M178.2 350.8h0M178.3 350.3h0M180.8 350.4h0M183.8 350.9h0M186.5 350.9h0M190.0 350.0h0M191.3 350.9h0M193.9 351.0h0M193.1 350.7h0M195.7 350.8h0M202.1 350.4h0M206.6 350.5h0M207.2 350.6h0M209.4 350.5h0M211.4 350.2h0M212.7 350.6h0M217.4 350.8h0M218.8 350.6h0M218.9 350.7h0M218.0 350.2h0M219.6 350.3h0M221.5 350.7h0M222.8 350.6h0M223.4 350.6h0M223.0 350.0h0M228.0 350.6h0M231.4 350.1h0M233.0 350.3h0M234.5 350.9h0M235.8 350.7h0M236.2 350.8h0M237.5 350.5h0M239.1 350.9h0M240.8 350.8h0M241.8 350.8h0M253.2 351.0h0M253.3 350.5h0M257.8 350.4h0M260.4 350.8h0M262.1 350.7h0M262.7 350.8h0M266.9 350.9h0M458.6 350.1h0M458.0 350.1h0M459.9 350.4h0M105.4 351.0h0M109.2 351.7h0M109.4 351.8h0M110.0 351.5h0M117.4 351.4h0M118.9 351.5h0M121.8 351.6h0M122.6 351.1h0M123.6 351.7h0M135.2 351.3h0M137.8 351.9h0M139.9 351.5h0M141.4 351.0h0M141.2 351.1h0M144.7 351.0h0M145.8 351.4h0M147.5 351.9h0M151.2 351.4h0M151.3 351.6h0M153.5 351.6h0M154.3 351.0h0M155.8 351.0h0M156.2 351.4h0M159.8 351.6h0M159.5 351.0h0M164.6 351.9h0M165.4 351.5h0M169.7 351.6h0M170.5 351.8h0M171.6 351.4h0M172.3 351.2h0M173.4 351.2h0M174.5 352.0h0M182.9 351.6h0M183.8 351.3h0M183.1 351.5h0M185.0 351.4h0M184.8 351.4h0M184.3 351.1h0M186.9 351.9h0M188.7 352.0h0M188.5 351.9h0M188.0 351.8h0M189.4 351.9h0M191.9 351.3h0M192.7 351.7h0M199.9 351.4h0M200.9 351.0h0M204.5 351.2h0M204.4 352.0h0M205.8 351.1h0M206.0 351.4h0M205.3 351.5h0M206.7 351.2h0M207.2 351.8h0M208.4 351.3h0M209.9 351.1h0M210.7 351.2h0M213.3 351.6h0M213.4 351.1h0M216.8 351.8h0M217.1 351.1h0M221.6 351.5h0M226.0 351.4h0M227.0 351.9h0M234.2 351.6h0M235.9 351.3h0M235.4 351.0h0M237.8 352.0h0M238.7 351.7h0M239.3 351.1h0M240.8 351.9h0M241.3 351.3h0M249.7 351.1h0M264.6 351.9h0M266.3 351.8h0M106.9 352.3h0M110.3 352.8h0M111.6 352.7h0M112.0 353.0h0M113.3 352.8h0M113.9 352.9h0M114.3 352.4h0M117.8 352.0h0M119.9 352.2h0M119.1 352.6h0M121.5 352.0h0M131.6 352.8h0M155.3 352.3h0M158.3 352.9h0M160.3 352.0h0M161.2 352.3h0M166.8 352.9h0M170.6 352.2h0M171.2 352.5h0M171.9 352.5h0M171.9 352.5h0M172.2 352.0h0M172.1 352.8h0M174.5 352.1h0M178.0 352.1h0M180.5 352.7h0M182.9 352.9h0M183.2 352.7h0M184.5 352.6h0M184.3 352.8h0M189.1 352.3h0M190.7 352.3h0M191.2 352.3h0M195.9 352.1h0M195.9 353.0h0M195.7 352.7h0M195.3 352.3h0M197.2 352.7h0M207.7 352.1h0M214.1 352.5h0M215.6 352.5h0M223.4 352.8h0M224.4 352.0h0M230.9 352.6h0M230.3 352.2h0M233.8 352.4h0M233.8 352.0h0M235.6 352.1h0M238.3 352.1h0M238.9 352.9h0M241.0 352.3h0M252.9 352.2h0M262.4 352.6h0M265.2 352.7h0M458.6 352.6h0M60.3 353.7h0M61.1 353.8h0M105.0 353.6h0M105.8 353.8h0M107.1 353.7h0M108.8 353.3h0M109.7 353.8h0M113.7 353.2h0M114.4 353.5h0M118.5 354.0h0M120.9 353.5h0M122.2 353.8h0M130.4 353.8h0M134.2 353.9h0M140.9 354.0h0M144.4 353.8h0M147.2 353.9h0M150.6 353.5h0M153.0 353.4h0M152.5 353.3h0M154.1 353.8h0M156.9 353.5h0M157.7 353.9h0M157.2 353.4h0M169.0 353.8h0M171.9 354.0h0M173.3 353.8h0M178.3 353.5h0M179.7 353.5h0M181.9 353.2h0M182.5 353.1h0M183.2 353.7h0M183.6 353.9h0M187.5 353.4h0M190.6 353.0h0M193.8 353.9h0M194.0 353.4h0M194.0 353.1h0M196.6 353.8h0M198.4 353.8h0M201.2 353.2h0M203.1 353.1h0M204.1 353.8h0M209.0 353.7h0M214.6 353.8h0M217.4 353.5h0M220.4 353.7h0M220.8 353.6h0M222.7 353.9h0M224.1 354.0h0M229.8 353.3h0M230.3 353.2h0M230.2 353.3h0M230.5 353.5h0M232.6 354.0h0M233.6 353.2h0M233.7 353.6h0M233.8 353.4h0M236.6 353.9h0M237.5 353.7h0M237.6 353.9h0M239.0 353.5h0M238.2 353.7h0M240.4 353.3h0M241.1 353.0h0M241.2 353.8h0M241.8 353.7h0M257.6 353.7h0M258.8 353.7h0M259.9 353.5h0M261.2 353.4h0M262.6 353.8h0M262.8 353.4h0M264.1 353.2h0M266.4 353.7h0M458.1 353.2h0M103.0 354.5h0M104.8 354.2h0M106.9 354.5h0M106.1 354.1h0M108.7 354.5h0M111.6 354.1h0M113.7 354.1h0M117.3 354.4h0M120.0 354.6h0M122.3 354.2h0M132.2 354.1h0M135.2 354.9h0M137.4 354.3h0M140.4 354.5h0M141.3 354.5h0M144.7 354.3h0M144.3 354.6h0M147.6 354.7h0M153.6 354.9h0M154.2 354.9h0M160.5 355.0h0M162.3 354.8h0M168.8 354.1h0M168.1 354.6h0M170.6 354.3h0M174.0 354.0h0M173.3 354.6h0M173.6 354.7h0M176.4 354.9h0M176.5 354.6h0M178.7 354.8h0M178.2 354.4h0M182.6 354.6h0M187.0 354.3h0M188.5 354.9h0M192.5 354.2h0M193.7 354.2h0M194.4 354.2h0M195.0 354.9h0M195.7 354.5h0M196.1 354.3h0M197.1 354.2h0M199.0 354.9h0M198.8 354.0h0M198.8 354.8h0M200.8 354.6h0M203.2 354.1h0M206.2 354.2h0M211.3 354.6h0M211.2 354.8h0M212.6 354.7h0M213.1 354.2h0M213.2 354.0h0M217.5 354.8h0M219.4 354.0h0M221.1 354.8h0M222.8 354.1h0M226.6 354.4h0M227.0 354.4h0M230.3 354.1h0M231.1 354.6h0M233.3 354.7h0M233.7 354.5h0M233.5 354.6h0M234.0 354.1h0M234.6 354.1h0M236.2 354.5h0M237.8 354.3h0M237.6 354.8h0M238.9 354.2h0M250.9 354.8h0M252.0 354.1h0M258.0 354.6h0M261.4 354.4h0M261.1 354.7h0M262.8 354.7h0M262.8 354.9h0M266.9 354.1h0M60.1 355.7h0M60.8 356.0h0M60.5 355.8h0M97.6 355.2h0M97.7 355.1h0M98.9 355.0h0M100.4 355.8h0M103.7 355.3h0M104.3 355.3h0M108.0 355.6h0M117.8 355.2h0M125.4 355.0h0M129.6 355.4h0M137.8 355.0h0M140.9 355.9h0M141.9 355.5h0M145.5 355.8h0M145.9 355.1h0M146.6 355.4h0M146.3 355.2h0M147.9 355.3h0M147.8 355.0h0M149.9 355.5h0M151.3 355.0h0M153.1 355.7h0M160.5 355.2h0M160.6 355.3h0M166.4 355.1h0M166.2 355.2h0M168.8 356.0h0M169.5 355.6h0M169.0 355.4h0M175.3 355.6h0M179.3 355.4h0M182.2 355.6h0M186.0 356.0h0M188.3 355.9h0M192.3 356.0h0M192.3 355.5h0M192.2 355.3h0M194.6 355.2h0M194.6 355.7h0M199.0 355.4h0M200.0 355.5h0M199.0 355.5h0M200.2 356.0h0M201.7 356.0h0M202.4 355.8h0M206.8 355.2h0M212.0 355.4h0M212.4 355.1h0M215.0 355.6h0M214.4 355.5h0M215.4 355.4h0M217.2 355.4h0M219.0 355.4h0M219.1 355.9h0M222.6 355.8h0M226.7 355.6h0M228.8 355.8h0M230.4 355.3h0M232.3 355.2h0M234.1 355.3h0M240.6 355.9h0M249.4 355.7h0M249.0 355.6h0M251.6 356.0h0M259.0 355.0h0M258.7 355.1h0M261.1 355.1h0M458.0 355.6h0M61.5 356.3h0M84.7 356.4h0M86.4 356.1h0M88.9 356.9h0M91.7 356.2h0M92.2 356.2h0M94.3 356.6h0M95.7 356.2h0M97.3 356.3h0M100.7 356.1h0M106.4 356.0h0M107.4 356.1h0M109.3 356.4h0M119.4 356.9h0M126.8 356.2h0M143.5 356.9h0M143.3 356.4h0M149.8 356.5h0M157.0 356.2h0M160.4 356.5h0M162.1 356.8h0M168.0 356.8h0M168.6 356.9h0M169.1 356.1h0M169.1 356.6h0M169.6 356.1h0M169.1 356.4h0M172.8 356.4h0M173.1 356.2h0M174.4 356.5h0M179.4 356.8h0M179.8 356.6h0M183.1 356.9h0M184.1 356.2h0M188.8 356.8h0M188.9 356.1h0M196.8 357.0h0M199.8 356.9h0M201.2 356.7h0M202.0 356.6h0M203.2 356.4h0M203.6 356.7h0M205.9 357.0h0M206.2 356.3h0M207.6 356.4h0M210.9 356.5h0M211.0 356.7h0M210.0 356.4h0M212.1 356.8h0M213.3 356.2h0M215.6 356.5h0M215.0 356.1h0M219.8 356.5h0M222.9 356.1h0M226.5 356.0h0M226.3 356.4h0M227.8 356.1h0M227.7 356.2h0M230.0 356.1h0M231.0 357.0h0M231.1 356.8h0M232.5 356.4h0M232.4 356.1h0M233.0 356.9h0M240.5 356.6h0M240.1 356.1h0M240.2 356.4h0M257.9 356.5h0M260.8 356.4h0M265.1 356.9h0M458.2 356.4h0M61.2 357.2h0M62.2 357.3h0M62.1 357.5h0M64.6 357.2h0M65.2 357.4h0M68.3 357.5h0M76.6 357.9h0M79.0 357.6h0M81.0 357.4h0M80.1 357.0h0M84.1 357.8h0M86.8 358.0h0M87.7 357.9h0M89.2 357.9h0M94.1 357.2h0M96.6 357.0h0M98.0 357.5h0M99.2 357.4h0M99.1 357.8h0M101.4 357.1h0M103.5 357.8h0M104.1 357.3h0M106.1 357.8h0M125.5 357.8h0M130.4 357.1h0M136.9 357.2h0M137.9 357.4h0M137.1 357.2h0M137.4 357.2h0M141.5 357.1h0M144.3 357.5h0M146.9 357.6h0M147.5 357.8h0M154.5 357.8h0M156.5 357.5h0M157.1 357.2h0M162.2 357.1h0M168.1 357.9h0M168.3 357.9h0M171.8 357.3h0M172.7 357.3h0M173.6 357.2h0M177.2 357.0h0M186.8 357.6h0M187.3 357.5h0M190.0 357.1h0M189.9 357.9h0M190.1 357.8h0M196.4 357.1h0M197.4 358.0h0M200.6 357.9h0M204.9 357.4h0M204.1 357.6h0M208.9 357.6h0M209.2 357.3h0M213.6 357.4h0M213.7 358.0h0M214.0 357.3h0M219.3 357.9h0M220.5 357.9h0M222.5 357.0h0M223.1 357.8h0M224.8 357.9h0M229.0 357.9h0M229.5 357.9h0M231.5 357.2h0M239.7 357.4h0M243.7 357.6h0M253.0 357.3h0M258.1 357.3h0M266.3 357.5h0M266.7 357.8h0M267.7 357.4h0M458.9 357.1h0M61.6 358.3h0M62.3 358.2h0M62.9 358.4h0M63.7 358.1h0M64.7 358.4h0M69.9 358.3h0M71.8 358.5h0M72.0 358.4h0M73.6 358.1h0M81.7 358.3h0M82.2 358.5h0M82.5 358.8h0M83.4 358.9h0M85.5 358.7h0M86.3 358.8h0M86.1 358.1h0M88.2 358.4h0M88.8 358.5h0M89.2 358.3h0M90.6 358.3h0M90.0 358.1h0M93.1 358.4h0M93.6 358.0h0M100.6 358.1h0M102.4 358.4h0M108.1 359.0h0M115.3 358.3h0M125.0 358.3h0M129.4 358.0h0M129.4 358.5h0M138.3 358.8h0M148.1 358.1h0M152.6 359.0h0M155.9 358.6h0M157.2 358.5h0M159.5 358.2h0M160.3 358.9h0M160.0 358.6h0M163.0 358.4h0M163.7 358.9h0M167.4 358.2h0M167.3 358.3h0M169.2 358.6h0M169.5 358.7h0M174.3 358.3h0M175.2 358.3h0M176.8 358.2h0M176.3 358.9h0M176.6 358.9h0M177.8 358.8h0M178.5 359.0h0M179.0 358.6h0M180.6 358.2h0M181.6 358.5h0M181.8 358.1h0M197.6 358.7h0M197.9 358.3h0M198.3 358.1h0M208.4 359.0h0M208.5 358.7h0M209.4 358.8h0M210.1 358.7h0M212.3 358.5h0M219.2 358.7h0M221.1 358.2h0M223.0 358.3h0M222.9 358.9h0M225.8 358.0h0M228.4 358.9h0M229.6 358.8h0M232.1 358.6h0M233.3 358.0h0M234.1 358.3h0M235.1 358.1h0M238.0 358.8h0M240.6 358.4h0M267.6 358.4h0M458.6 358.1h0M459.8 358.4h0M74.6 359.5h0M78.6 359.5h0M78.9 359.1h0M79.6 359.9h0M83.6 359.3h0M84.0 359.2h0M84.1 359.2h0M91.0 360.0h0M92.3 359.8h0M97.9 359.1h0M106.3 359.1h0M113.3 359.9h0M117.3 360.0h0M122.3 359.9h0M128.8 359.7h0M133.1 359.0h0M140.1 359.1h0M141.8 359.3h0M149.8 359.7h0M149.4 359.0h0M156.0 359.5h0M163.3 359.9h0M164.8 359.6h0M164.6 359.3h0M165.2 359.8h0M169.1 359.0h0M170.9 360.0h0M170.6 359.3h0M171.9 360.0h0M172.6 359.5h0M173.6 359.6h0M174.0 359.1h0M178.9 359.4h0M184.8 359.1h0M185.7 359.1h0M188.6 360.0h0M189.2 359.8h0M192.6 359.0h0M194.8 359.4h0M195.1 359.9h0M195.6 360.0h0M195.5 359.9h0M201.9 360.0h0M203.3 359.3h0M203.2 359.1h0M204.0 359.8h0M204.8 359.4h0M210.5 359.4h0M210.5 359.9h0M213.4 359.4h0M216.6 359.1h0M219.0 359.1h0M220.4 359.0h0M229.7 359.6h0M230.3 359.2h0M233.9 359.4h0M233.0 359.8h0M233.4 359.9h0M236.0 359.3h0M236.2 359.3h0M237.6 359.3h0M239.8 359.8h0M253.4 359.4h0M260.5 359.6h0M459.0 359.6h0M75.4 360.6h0M75.6 360.0h0M76.1 361.0h0M82.6 360.1h0M82.2 360.9h0M84.5 360.3h0M84.1 360.7h0M89.6 360.7h0M96.1 360.7h0M96.4 360.7h0M99.6 360.8h0M118.0 360.2h0M123.3 360.9h0M125.7 360.1h0M141.0 360.1h0M142.5 360.7h0M144.4 360.9h0M150.6 360.9h0M151.1 360.5h0M152.1 360.1h0M159.4 360.6h0M163.4 360.4h0M164.4 360.3h0M165.7 360.5h0M167.0 360.2h0M167.1 360.5h0M169.6 361.0h0M169.4 360.9h0M170.9 360.1h0M170.5 360.7h0M171.9 360.9h0M171.8 360.6h0M172.3 361.0h0M176.8 360.8h0M179.0 360.2h0M180.2 360.5h0M181.9 360.4h0M183.5 360.0h0M183.1 360.9h0M184.1 360.8h0M185.4 360.7h0M188.1 360.5h0M189.1 360.7h0M191.0 360.3h0M190.7 360.3h0M191.6 360.1h0M193.9 360.9h0M194.3 360.0h0M198.6 360.8h0M201.1 360.6h0M203.6 360.8h0M205.3 360.4h0M207.1 360.7h0M211.0 360.6h0M213.4 360.6h0M217.5 360.8h0M218.7 360.1h0M222.1 360.3h0M227.5 360.2h0M228.5 360.5h0M229.3 360.2h0M230.5 360.5h0M231.6 360.9h0M233.6 361.0h0M234.2 360.4h0M234.7 360.9h0M236.2 360.4h0M237.6 361.0h0M237.2 360.0h0M239.3 360.2h0M241.0 360.3h0M250.5 360.1h0M251.4 360.2h0M258.2 360.1h0M259.8 360.5h0M260.6 360.8h0M261.2 360.4h0M262.7 360.9h0M266.9 360.0h0M459.3 360.6h0M459.2 360.8h0M78.2 361.3h0M78.5 361.8h0M79.4 361.2h0M86.4 361.6h0M88.4 361.2h0M94.7 361.6h0M94.2 361.7h0M97.9 361.4h0M108.1 361.2h0M117.1 361.6h0M128.1 361.4h0M131.3 361.5h0M131.9 361.5h0M131.8 361.7h0M133.0 361.9h0M134.9 361.4h0M137.7 361.2h0M138.9 361.4h0M138.1 361.7h0M139.9 361.1h0M150.3 361.9h0M151.3 361.5h0M164.2 361.1h0M164.4 361.4h0M165.3 361.4h0M169.1 361.7h0M171.7 361.3h0M173.7 361.3h0M182.3 362.0h0M182.8 361.1h0M182.2 362.0h0M184.1 362.0h0M187.7 361.6h0M187.1 361.9h0M189.5 361.9h0M189.9 361.6h0M197.4 361.6h0M199.0 361.0h0M204.3 361.5h0M204.7 361.7h0M205.0 361.9h0M206.8 362.0h0M207.8 361.4h0M208.5 361.6h0M209.3 361.7h0M215.2 361.9h0M215.4 361.2h0M218.7 362.0h0M220.5 362.0h0M223.2 361.4h0M232.7 361.4h0M233.9 361.0h0M233.6 361.7h0M235.0 361.9h0M235.5 362.0h0M235.5 361.7h0M236.4 361.6h0M241.0 361.7h0M240.7 361.8h0M250.3 361.2h0M252.9 361.5h0M252.6 361.0h0M253.8 361.1h0M266.0 361.9h0M267.4 361.9h0M354.3 361.1h0M355.7 361.2h0M358.4 361.5h0M363.9 361.9h0M368.5 361.8h0M369.7 361.4h0M369.1 361.8h0M371.7 361.3h0M372.7 361.1h0M372.1 361.4h0M373.7 361.7h0M373.1 361.2h0M373.5 361.8h0M374.3 361.0h0M75.8 363.0h0M79.2 362.3h0M89.0 362.1h0M88.5 362.9h0M97.2 362.2h0M103.0 362.3h0M105.4 362.6h0M116.3 362.7h0M120.1 362.8h0M128.5 363.0h0M132.0 362.1h0M135.7 362.2h0M163.1 362.5h0M163.7 362.4h0M165.0 362.7h0M168.6 362.6h0M171.5 362.6h0M177.9 362.5h0M184.4 362.6h0M189.5 362.4h0M190.8 362.1h0M193.9 363.0h0M195.0 362.8h0M196.4 362.9h0M200.9 362.4h0M203.7 362.3h0M207.8 362.6h0M207.5 363.0h0M208.7 362.7h0M208.5 362.8h0M210.3 362.8h0M211.3 362.4h0M211.5 362.5h0M212.4 362.8h0M214.7 362.3h0M215.3 362.0h0M216.3 362.3h0M220.8 362.1h0M223.6 362.9h0M227.6 362.5h0M228.9 362.6h0M233.4 362.1h0M250.2 362.8h0M354.7 362.7h0M359.8 362.4h0M359.9 362.7h0M360.0 362.3h0M360.0 363.0h0M361.8 362.4h0M362.2 362.6h0M364.9 362.3h0M365.7 362.4h0M370.1 362.0h0M370.6 362.1h0M374.3 362.3h0M378.9 363.0h0M379.5 362.7h0M381.8 362.7h0M382.0 362.9h0M383.7 362.4h0M383.2 362.3h0M384.1 362.2h0M384.3 362.3h0M458.9 362.6h0M75.7 363.2h0M76.4 363.9h0M76.8 363.7h0M80.2 363.8h0M80.4 363.9h0M91.2 363.2h0M91.6 363.8h0M94.3 363.5h0M96.5 364.0h0M98.5 363.9h0M111.1 363.3h0M124.2 363.8h0M125.5 363.1h0M127.2 364.0h0M128.0 363.9h0M131.1 363.8h0M145.6 363.7h0M152.5 363.1h0M156.6 363.2h0M161.4 363.6h0M162.9 363.7h0M168.0 363.0h0M170.8 363.6h0M170.1 364.0h0M173.4 363.3h0M174.6 363.6h0M177.8 363.2h0M178.8 363.8h0M179.8 363.9h0M183.4 363.8h0M188.9 363.2h0M188.5 363.3h0M193.6 363.2h0M195.7 363.1h0M195.0 363.1h0M197.2 363.3h0M199.9 363.3h0M200.9 363.1h0M206.5 363.3h0M210.8 363.9h0M210.2 363.2h0M214.5 363.9h0M220.5 363.2h0M229.5 363.2h0M233.5 363.2h0M235.3 363.6h0M235.2 363.3h0M235.4 363.7h0M236.9 363.8h0M239.2 363.8h0M239.9 363.8h0M239.8 363.1h0M240.8 363.5h0M249.6 363.9h0M250.9 363.8h0M253.8 363.2h0M258.2 363.0h0M267.7 363.5h0M350.5 363.3h0M351.4 363.2h0M353.9 363.0h0M355.2 363.2h0M355.6 363.6h0M358.3 363.6h0M366.2 363.5h0M366.6 363.2h0M367.8 364.0h0M374.0 363.2h0M373.2 363.2h0M374.0 363.6h0M374.9 363.3h0M375.6 363.4h0M378.0 363.6h0M378.6 363.5h0M379.7 363.5h0M384.8 363.7h0M391.0 363.6h0M396.5 363.4h0M397.0 363.7h0M398.7 363.6h0M458.5 363.7h0M81.1 364.2h0M86.2 364.4h0M91.9 364.7h0M99.5 364.4h0M117.5 364.8h0M127.1 364.7h0M153.1 364.8h0M154.7 364.7h0M155.7 364.6h0M157.8 364.8h0M161.0 364.5h0M162.2 364.1h0M163.3 364.9h0M165.9 364.0h0M169.8 364.9h0M171.6 364.5h0M171.3 364.6h0M172.5 364.2h0M177.1 364.6h0M177.7 364.8h0M181.6 364.9h0M183.3 364.9h0M186.0 364.6h0M186.9 364.4h0M187.9 364.9h0M188.3 364.5h0M192.0 364.9h0M195.0 364.2h0M198.7 364.9h0M199.3 364.5h0M200.2 364.6h0M201.8 364.5h0M202.8 364.4h0M205.8 364.3h0M207.9 364.2h0M208.0 364.0h0M209.0 364.9h0M211.0 364.6h0M211.1 364.1h0M211.1 364.4h0M211.9 364.6h0M212.2 365.0h0M213.9 364.1h0M215.3 364.9h0M217.7 364.5h0M223.7 364.5h0M224.9 364.2h0M225.8 364.8h0M226.3 364.4h0M230.8 364.5h0M230.3 364.9h0M234.7 364.1h0M235.7 364.7h0M237.9 364.9h0M238.7 364.3h0M239.0 364.7h0M239.4 364.6h0M239.1 364.8h0M241.0 364.9h0M249.7 364.5h0M260.6 364.1h0M260.2 364.7h0M260.5 364.5h0M349.2 364.2h0M351.3 364.8h0M352.2 364.1h0M353.1 364.0h0M354.0 364.7h0M354.5 364.2h0M354.1 364.1h0M355.3 364.7h0M355.7 364.4h0M357.4 364.1h0M360.8 364.2h0M360.4 364.4h0M363.2 364.6h0M363.2 364.5h0M365.1 364.9h0M370.2 364.4h0M372.8 364.2h0M373.4 364.1h0M376.9 364.3h0M377.4 364.7h0M378.5 364.4h0M378.4 364.0h0M379.1 364.9h0M379.9 364.4h0M380.8 364.5h0M381.5 365.0h0M381.9 364.2h0M387.5 364.2h0M388.7 364.2h0M397.4 364.3h0M397.1 364.5h0M398.5 364.0h0M401.4 364.4h0M403.5 364.2h0M404.7 364.7h0M404.3 364.4h0M406.8 364.7h0M407.7 364.2h0M411.9 364.5h0M412.3 364.3h0M93.1 365.6h0M110.0 366.0h0M121.7 366.0h0M129.3 365.8h0M132.7 365.9h0M140.4 365.6h0M144.6 365.2h0M145.6 365.4h0M147.3 365.4h0M151.7 365.4h0M152.7 365.5h0M164.6 365.0h0M171.1 365.9h0M172.2 365.8h0M173.4 365.7h0M173.4 365.3h0M178.9 365.6h0M179.0 365.5h0M184.5 365.7h0M186.7 365.8h0M191.8 365.4h0M192.9 365.8h0M192.1 365.6h0M194.7 365.2h0M195.7 365.8h0M198.3 365.8h0M199.8 365.2h0M199.1 365.3h0M201.1 365.4h0M203.1 365.3h0M204.5 365.1h0M204.2 365.1h0M210.8 365.0h0M214.0 365.3h0M216.1 365.4h0M216.6 365.2h0M217.3 365.8h0M226.2 365.7h0M229.2 365.7h0M231.7 365.2h0M232.1 365.2h0M232.3 365.4h0M232.5 365.4h0M233.1 365.2h0M234.2 365.1h0M234.5 365.6h0M235.4 365.5h0M236.3 365.6h0M238.1 365.2h0M240.9 365.3h0M243.7 365.9h0M257.7 365.4h0M266.5 365.9h0M266.3 365.8h0M266.2 365.0h0M346.8 365.6h0M348.2 365.9h0M349.4 365.6h0M351.6 365.2h0M353.7 365.8h0M353.6 365.6h0M354.5 365.0h0M355.7 365.6h0M355.2 365.3h0M356.7 365.6h0M357.5 365.4h0M361.7 365.3h0M363.2 365.9h0M366.7 365.7h0M368.3 365.3h0M368.8 365.4h0M370.3 365.8h0M371.5 365.8h0M377.7 365.7h0M378.2 365.8h0M379.7 365.6h0M382.2 365.7h0M383.9 365.8h0M386.9 365.6h0M386.7 365.8h0M389.8 365.3h0M393.9 365.4h0M395.4 365.1h0M396.2 365.3h0M398.6 365.4h0M399.2 365.0h0M399.4 365.4h0M400.9 365.4h0M400.3 365.3h0M401.6 365.5h0M402.8 365.8h0M404.9 365.5h0M405.6 365.2h0M406.7 365.1h0M406.4 365.5h0M407.8 365.1h0M408.4 365.3h0M408.8 365.7h0M408.4 365.5h0M409.2 365.0h0M409.1 365.5h0M410.8 365.4h0M411.1 365.5h0M413.2 365.1h0M417.4 365.2h0M418.8 365.5h0M419.8 365.6h0M422.5 365.7h0M422.6 365.3h0M423.9 365.6h0M423.2 365.5h0M426.8 365.4h0M426.8 365.9h0M429.4 365.7h0M431.5 365.8h0M458.3 365.4h0M458.2 365.3h0M459.4 365.6h0M82.5 366.9h0M115.4 366.6h0M125.5 366.1h0M144.0 366.6h0M152.4 366.4h0M159.8 367.0h0M164.5 366.7h0M166.6 366.8h0M171.2 366.5h0M171.3 366.4h0M171.2 367.0h0M172.4 366.9h0M172.2 366.6h0M176.8 366.2h0M185.7 366.9h0M187.9 366.9h0M189.7 366.1h0M189.9 366.9h0M194.0 366.7h0M196.7 366.9h0M199.2 366.3h0M200.6 366.0h0M200.2 366.5h0M202.7 366.7h0M206.8 366.9h0M210.0 366.1h0M211.5 366.1h0M212.1 366.3h0M212.2 366.2h0M214.9 366.9h0M215.6 366.9h0M221.1 366.2h0M227.5 366.1h0M228.5 366.1h0M229.6 366.4h0M233.1 366.5h0M233.7 366.6h0M238.9 366.6h0M239.5 366.0h0M257.6 366.4h0M257.7 366.0h0M258.8 366.1h0M262.0 366.1h0M268.0 366.4h0M345.7 366.0h0M347.5 366.5h0M347.8 366.1h0M348.2 366.1h0M349.4 366.1h0M351.0 366.5h0M350.6 366.3h0M350.5 367.0h0M350.0 366.3h0M352.8 366.1h0M352.8 366.9h0M353.8 366.8h0M355.2 366.9h0M360.5 366.0h0M361.0 366.3h0M361.4 366.6h0M365.1 366.6h0M365.4 366.8h0M368.9 366.3h0M368.3 366.7h0M370.3 366.9h0M375.7 366.5h0M376.1 366.2h0M377.1 366.0h0M377.5 366.1h0M377.7 366.6h0M378.8 366.8h0M381.3 366.2h0M382.2 366.9h0M382.6 366.4h0M384.4 366.7h0M387.1 366.2h0M389.7 366.2h0M391.0 366.3h0M391.7 366.5h0M392.8 366.1h0M394.8 366.7h0M394.4 366.5h0M395.1 367.0h0M396.9 366.4h0M397.7 366.7h0M397.9 366.1h0M397.9 366.2h0M398.6 366.7h0M399.6 366.6h0M399.7 366.4h0M402.0 366.8h0M402.8 366.1h0M402.3 366.6h0M403.9 366.1h0M404.6 366.2h0M406.5 366.2h0M407.6 366.3h0M407.9 366.6h0M409.2 366.9h0M409.4 366.9h0M410.4 366.4h0M411.9 366.2h0M411.9 366.7h0M412.1 366.5h0M412.3 366.4h0M413.4 366.1h0M413.7 366.8h0M415.0 366.1h0M416.2 366.3h0M420.2 366.3h0M425.7 366.2h0M429.6 366.1h0M431.7 366.5h0M433.2 367.0h0M435.2 366.9h0M436.3 366.2h0M83.8 367.2h0M145.8 367.6h0M147.1 367.4h0M151.3 367.8h0M155.4 367.3h0M156.0 367.6h0M160.2 367.7h0M162.6 367.3h0M169.2 367.0h0M170.2 367.2h0M172.2 367.6h0M172.0 367.2h0M175.4 367.8h0M176.7 367.9h0M177.4 367.1h0M180.1 367.4h0M183.9 367.6h0M185.5 367.0h0M188.0 367.2h0M188.3 367.8h0M191.9 367.2h0M192.4 367.6h0M192.3 367.5h0M193.7 367.6h0M200.8 368.0h0M200.5 367.7h0M205.0 367.8h0M206.0 367.9h0M206.7 367.2h0M208.0 367.9h0M209.6 367.6h0M212.4 367.3h0M213.2 367.9h0M217.6 367.4h0M217.8 367.8h0M218.5 367.0h0M226.5 367.8h0M230.0 367.9h0M229.3 367.4h0M229.2 367.6h0M231.5 367.7h0M232.4 367.1h0M233.3 367.7h0M234.2 367.9h0M234.4 367.2h0M237.1 367.2h0M241.0 367.7h0M252.5 367.1h0M253.4 367.1h0M258.8 367.4h0M259.7 367.1h0M259.9 367.1h0M262.3 367.1h0M267.4 367.5h0M342.0 367.6h0M342.7 367.4h0M342.5 367.2h0M344.0 367.5h0M345.4 367.8h0M347.7 367.3h0M348.6 367.5h0M348.2 367.9h0M350.7 367.1h0M356.8 367.1h0M356.3 367.1h0M357.6 368.0h0M358.4 367.4h0M358.7 367.9h0M361.2 367.4h0M363.7 367.6h0M370.9 367.0h0M370.3 367.6h0M371.6 367.4h0M371.8 367.3h0M374.2 367.5h0M376.4 367.9h0M378.7 367.8h0M378.5 367.2h0M378.1 367.2h0M380.2 367.7h0M381.5 367.4h0M381.2 367.6h0M386.3 367.2h0M387.2 367.5h0M388.5 367.9h0M390.3 367.7h0M390.7 367.0h0M392.2 367.4h0M393.7 367.8h0M394.5 367.2h0M395.8 367.4h0M400.1 367.8h0M402.6 367.5h0M403.8 367.7h0M404.4 367.0h0M405.1 368.0h0M406.1 367.4h0M407.3 367.9h0M408.9 367.1h0M408.1 368.0h0M409.7 367.7h0M415.9 367.0h0M416.1 367.8h0M416.2 367.8h0M416.1 367.1h0M418.2 367.3h0M421.7 367.9h0M422.6 367.5h0M422.9 367.9h0M423.9 367.3h0M427.5 367.4h0M429.8 367.1h0M430.5 367.3h0M431.8 367.7h0M431.1 367.2h0M433.6 367.7h0M436.1 367.4h0M436.0 367.8h0M437.6 367.5h0M439.6 367.9h0M442.0 367.7h0M441.7 367.2h0M446.4 367.7h0M448.0 367.8h0M450.9 367.9h0M452.8 367.0h0M453.9 367.3h0M454.2 367.7h0M85.8 368.3h0M86.9 368.4h0M113.0 368.0h0M126.3 368.7h0M138.4 369.0h0M140.6 368.7h0M146.2 368.5h0M150.9 369.0h0M151.7 368.4h0M158.1 368.0h0M161.4 368.3h0M162.7 368.4h0M162.4 368.5h0M163.3 368.7h0M166.5 368.7h0M169.1 368.3h0M170.8 368.4h0M170.9 369.0h0M171.1 368.2h0M171.0 368.4h0M173.1 368.1h0M173.4 368.2h0M175.0 368.7h0M181.2 368.8h0M182.4 368.5h0M186.4 368.7h0M187.6 368.7h0M188.2 368.7h0M189.0 368.8h0M192.0 368.2h0M194.9 368.1h0M199.6 368.2h0M202.4 368.3h0M202.6 368.9h0M203.3 368.1h0M205.5 368.4h0M206.6 368.1h0M210.3 368.5h0M211.1 368.1h0M223.6 368.4h0M224.3 368.7h0M229.6 368.6h0M229.1 368.3h0M231.4 368.6h0M233.0 368.3h0M233.6 368.1h0M235.1 368.7h0M236.3 368.3h0M237.5 368.7h0M240.0 368.9h0M239.1 369.0h0M249.0 369.0h0M251.7 368.4h0M257.4 368.9h0M338.9 368.0h0M338.1 368.9h0M338.1 368.4h0M339.2 368.2h0M342.6 368.2h0M344.1 368.2h0M345.2 368.4h0M345.2 368.0h0M345.8 368.9h0M347.4 368.5h0M348.0 368.8h0M350.4 368.4h0M351.7 368.8h0M352.0 368.5h0M353.6 368.3h0M353.6 368.5h0M356.0 369.0h0M355.4 368.4h0M356.3 368.3h0M356.2 368.9h0M359.3 368.3h0M359.4 368.6h0M360.3 368.1h0M363.9 368.3h0M364.1 368.4h0M367.6 368.4h0M368.3 368.6h0M368.4 368.2h0M370.9 368.3h0M372.8 368.3h0M372.3 368.1h0M372.4 368.5h0M375.3 368.4h0M375.4 368.8h0M376.9 368.0h0M379.8 368.2h0M380.7 368.1h0M380.7 368.9h0M386.4 368.8h0M388.0 369.0h0M389.6 368.9h0M390.1 368.5h0M392.1 368.7h0M398.4 368.6h0M398.9 368.2h0M402.8 368.1h0M403.3 368.4h0M407.2 368.1h0M413.0 368.9h0M413.2 368.7h0M414.1 368.6h0M414.6 369.0h0M414.5 368.6h0M415.3 368.5h0M416.1 368.3h0M417.7 368.2h0M420.9 368.4h0M420.1 368.3h0M420.7 368.4h0M421.9 368.2h0M422.2 368.7h0M422.5 368.6h0M422.6 368.5h0M424.0 369.0h0M424.5 368.3h0M425.9 368.1h0M427.3 368.9h0M430.5 368.7h0M432.7 369.0h0M432.8 368.2h0M433.6 368.4h0M436.9 368.4h0M441.9 368.0h0M442.0 368.2h0M448.9 368.5h0M452.1 368.2h0M458.0 368.4h0M458.8 368.2h0M87.5 369.0h0M112.5 369.7h0M115.2 369.1h0M141.0 369.4h0M143.3 369.9h0M143.7 369.3h0M145.5 369.1h0M149.2 369.5h0M155.1 369.4h0M158.1 369.8h0M158.3 369.5h0M158.0 369.0h0M159.7 369.3h0M162.4 369.4h0M165.9 369.8h0M171.6 369.9h0M171.3 369.7h0M171.8 369.6h0M175.3 369.5h0M179.7 369.7h0M180.9 369.9h0M182.4 369.5h0M183.3 369.3h0M185.6 369.1h0M190.1 369.6h0M192.3 369.3h0M192.5 369.5h0M194.9 369.3h0M196.6 369.5h0M202.6 369.5h0M210.3 370.0h0M217.6 369.3h0M218.2 369.2h0M226.6 369.9h0M231.5 369.6h0M233.9 370.0h0M236.3 369.3h0M238.3 369.8h0M266.8 369.5h0M267.3 369.3h0M337.1 370.0h0M341.1 369.0h0M343.7 369.5h0M344.5 369.1h0M353.5 369.3h0M353.4 369.7h0M356.9 369.2h0M356.9 369.2h0M357.8 369.2h0M357.0 369.6h0M358.7 369.0h0M358.9 370.0h0M362.3 369.7h0M371.1 369.9h0M374.8 369.9h0M374.8 369.1h0M376.2 369.7h0M377.5 369.7h0M377.5 369.9h0M377.6 370.0h0M379.8 370.0h0M380.9 369.6h0M380.6 369.4h0M381.3 369.6h0M387.7 369.7h0M388.3 369.6h0M388.4 369.3h0M389.6 369.2h0M391.2 369.5h0M395.0 369.1h0M396.5 369.8h0M397.0 369.5h0M399.7 369.3h0M400.9 369.5h0M401.6 369.6h0M401.6 369.7h0M402.3 369.4h0M403.4 369.3h0M405.8 369.2h0M406.6 369.2h0M407.4 369.2h0M407.3 369.8h0M409.4 369.8h0M410.0 369.7h0M410.5 369.4h0M415.8 369.5h0M416.5 369.7h0M419.1 369.2h0M419.2 369.7h0M420.7 369.9h0M421.5 369.4h0M421.9 369.9h0M422.1 369.6h0M423.3 369.8h0M424.3 369.1h0M426.5 369.3h0M427.6 369.5h0M429.2 369.2h0M430.3 369.5h0M437.3 369.3h0M437.0 369.6h0M93.6 370.8h0M115.3 370.8h0M123.0 370.3h0M130.4 370.2h0M141.7 370.4h0M152.8 370.8h0M153.4 370.2h0M155.9 370.5h0M156.1 370.7h0M160.0 370.9h0M160.9 370.4h0M161.1 370.8h0M162.6 370.2h0M164.1 371.0h0M166.2 370.0h0M168.6 370.2h0M171.4 370.3h0M175.6 370.7h0M177.9 370.6h0M187.5 370.6h0M187.2 370.5h0M187.9 370.7h0M188.3 370.1h0M189.4 370.5h0M191.4 370.6h0M191.7 370.7h0M192.9 370.3h0M195.7 370.9h0M197.9 370.0h0M199.5 370.8h0M210.4 370.8h0M215.5 370.6h0M217.4 370.9h0M217.7 370.7h0M222.6 370.8h0M229.0 370.8h0M231.1 370.1h0M233.0 370.2h0M233.7 370.1h0M233.5 370.2h0M236.4 370.6h0M236.6 370.2h0M237.7 370.0h0M239.8 370.7h0M239.3 370.3h0M240.9 370.9h0M240.8 370.8h0M250.2 370.4h0M251.4 370.1h0M253.6 370.1h0M253.6 370.2h0M262.5 370.4h0M262.5 370.6h0M266.1 370.4h0M333.8 370.9h0M333.8 370.7h0M334.8 370.2h0M336.7 370.0h0M338.9 370.5h0M338.2 370.5h0M341.7 370.8h0M342.0 370.3h0M344.1 370.3h0M346.1 371.0h0M350.8 370.6h0M358.5 370.4h0M365.2 370.1h0M368.7 370.4h0M370.2 370.5h0M370.4 370.3h0M370.9 370.8h0M373.9 370.8h0M378.0 370.5h0M378.3 370.1h0M381.1 370.6h0M381.7 370.1h0M387.9 370.7h0M387.4 370.9h0M394.7 370.5h0M400.6 370.6h0M400.0 370.1h0M402.7 370.1h0M407.1 370.1h0M412.2 371.0h0M413.4 370.9h0M413.7 370.5h0M418.6 370.9h0M418.8 370.8h0M418.6 370.6h0M419.5 370.1h0M422.7 370.4h0M426.9 370.0h0M426.8 370.1h0M427.6 370.2h0M429.4 370.9h0M429.1 370.7h0M430.3 370.1h0M431.2 370.1h0M431.1 370.2h0M433.4 370.8h0M435.9 370.6h0M435.3 370.8h0M436.3 370.0h0M437.0 370.5h0M436.9 370.3h0M140.1 371.8h0M151.7 371.1h0M155.0 371.7h0M154.9 371.6h0M161.1 371.1h0M162.8 371.3h0M171.0 371.9h0M171.3 371.7h0M173.2 371.5h0M176.1 371.1h0M176.2 371.2h0M179.0 371.5h0M180.0 371.9h0M180.9 371.5h0M180.4 372.0h0M181.3 371.2h0M181.2 371.9h0M184.2 372.0h0M184.4 371.3h0M186.6 371.6h0M191.4 371.4h0M193.1 371.3h0M200.8 371.2h0M201.1 371.1h0M208.8 371.8h0M209.2 371.9h0M210.0 371.2h0M213.8 371.2h0M214.7 371.2h0M214.5 371.0h0M217.4 371.1h0M224.6 371.4h0M228.5 372.0h0M232.2 371.6h0M234.7 371.7h0M234.0 371.8h0M235.8 371.6h0M235.8 371.3h0M235.8 371.9h0M236.2 371.2h0M236.9 371.4h0M237.6 371.5h0M239.0 371.4h0M239.7 371.4h0M241.0 371.5h0M250.2 371.8h0M252.3 371.2h0M252.8 371.7h0M267.6 371.6h0M331.6 372.0h0M332.9 371.6h0M333.1 371.4h0M336.1 371.3h0M338.9 372.0h0M338.4 371.0h0M341.1 371.3h0M341.6 371.3h0M342.7 371.8h0M343.1 371.7h0M343.6 371.2h0M345.7 371.8h0M345.3 371.7h0M347.3 371.0h0M348.1 371.7h0M350.7 371.2h0M355.5 371.5h0M356.9 371.6h0M360.7 371.7h0M364.6 371.3h0M365.2 371.5h0M366.8 371.4h0M370.8 371.5h0M377.5 371.3h0M379.7 371.4h0M379.0 372.0h0M381.2 371.8h0M389.8 371.9h0M394.6 371.1h0M394.5 371.9h0M396.1 371.5h0M402.2 371.3h0M403.1 371.8h0M404.9 371.0h0M404.7 372.0h0M404.3 371.6h0M404.7 371.1h0M404.7 371.7h0M406.0 371.9h0M406.9 371.8h0M406.5 371.3h0M409.7 371.7h0M410.5 371.0h0M413.9 371.1h0M418.0 371.9h0M418.1 371.8h0M420.2 371.7h0M424.0 371.5h0M425.5 371.7h0M426.4 371.1h0M427.9 371.2h0M430.0 371.9h0M429.8 371.9h0M430.1 371.1h0M433.3 371.3h0M434.0 371.4h0M437.0 371.2h0M437.9 371.4h0M437.7 371.7h0M85.1 372.5h0M102.1 372.7h0M112.3 372.3h0M115.7 372.9h0M121.6 372.5h0M129.0 372.1h0M141.1 372.9h0M142.5 372.4h0M142.2 372.8h0M145.8 372.7h0M147.5 372.7h0M155.1 372.1h0M157.6 372.7h0M157.3 372.8h0M162.3 372.2h0M167.5 372.9h0M167.0 372.9h0M172.6 372.4h0M175.7 372.4h0M176.4 372.3h0M177.8 372.4h0M178.6 372.6h0M178.2 372.3h0M185.9 372.4h0M185.2 372.6h0M188.5 372.9h0M189.1 372.8h0M190.9 372.4h0M192.1 372.4h0M199.1 372.4h0M203.1 372.8h0M204.9 372.9h0M206.8 372.3h0M209.1 372.2h0M209.3 373.0h0M212.9 372.4h0M215.7 372.3h0M217.4 372.1h0M224.7 372.2h0M230.4 372.5h0M231.0 372.5h0M232.5 372.9h0M233.6 372.3h0M233.2 372.6h0M233.5 372.4h0M233.7 372.2h0M235.4 372.9h0M238.0 372.7h0M250.3 372.6h0M251.3 372.6h0M252.2 372.8h0M252.2 372.5h0M258.8 372.5h0M268.0 373.0h0M328.4 372.8h0M331.3 372.0h0M332.0 372.6h0M334.1 372.1h0M334.2 372.3h0M334.3 372.1h0M334.6 372.7h0M336.0 372.1h0M337.0 372.9h0M341.7 372.3h0M343.5 372.3h0M346.3 372.9h0M350.9 372.2h0M352.5 372.0h0M353.6 372.6h0M367.6 372.7h0M368.3 372.1h0M371.2 372.2h0M372.8 372.5h0M373.9 372.1h0M378.8 372.1h0M378.1 372.7h0M379.6 372.3h0M379.6 372.9h0M384.3 372.1h0M386.9 373.0h0M387.4 372.8h0M389.2 372.3h0M391.2 372.5h0M397.2 372.3h0M398.6 372.6h0M398.0 372.8h0M406.5 372.1h0M414.4 373.0h0M416.3 372.8h0M418.0 372.3h0M425.9 372.6h0M427.9 372.9h0M430.8 372.6h0M436.1 372.5h0M436.8 372.9h0M97.5 374.0h0M110.9 373.7h0M136.5 373.1h0M138.6 373.1h0M140.4 373.3h0M152.0 373.2h0M152.6 373.7h0M156.2 373.5h0M167.8 373.2h0M170.2 373.8h0M171.1 373.0h0M175.1 373.8h0M181.5 373.6h0M184.0 373.1h0M184.1 373.1h0M184.5 373.1h0M187.1 373.3h0M188.8 373.4h0M192.7 373.9h0M197.3 373.8h0M199.7 373.5h0M201.0 373.9h0M203.0 373.2h0M205.1 373.7h0M207.7 373.8h0M212.1 373.0h0M215.2 373.6h0M215.8 373.4h0M225.6 373.4h0M229.7 373.6h0M230.4 373.4h0M232.7 373.9h0M236.1 373.2h0M236.6 373.2h0M237.1 373.7h0M237.5 373.3h0M237.2 373.8h0M239.8 373.2h0M249.0 373.9h0M253.8 373.6h0M266.2 373.5h0M328.7 373.9h0M329.1 373.2h0M334.1 373.9h0M335.5 373.6h0M337.3 373.3h0M337.9 373.8h0M339.0 373.9h0M342.4 373.4h0M342.5 373.1h0M342.3 373.6h0M344.4 373.5h0M346.6 373.6h0M352.6 373.7h0M352.4 373.9h0M358.9 373.4h0M358.7 373.5h0M369.1 373.3h0M372.6 373.4h0M374.2 373.9h0M375.7 373.5h0M378.2 373.9h0M384.0 373.2h0M385.8 373.7h0M387.7 373.6h0M390.7 373.7h0M392.1 374.0h0M395.6 373.9h0M398.5 373.6h0M406.3 373.5h0M410.3 373.7h0M411.2 373.4h0M415.4 373.2h0M420.4 373.4h0M423.5 373.3h0M427.3 373.7h0M429.8 373.3h0M434.4 373.3h0M437.3 373.7h0M88.9 374.7h0M111.4 375.0h0M127.8 374.1h0M142.3 374.4h0M143.1 374.4h0M149.2 374.2h0M149.3 374.8h0M153.2 374.7h0M154.7 374.9h0M156.3 374.6h0M159.2 374.1h0M160.1 374.9h0M171.2 374.1h0M173.9 374.8h0M174.7 374.7h0M175.8 374.9h0M178.0 374.0h0M178.3 374.7h0M179.4 374.7h0M181.2 375.0h0M182.4 374.5h0M184.2 374.7h0M185.6 374.9h0M188.0 374.4h0M190.1 374.6h0M193.0 374.0h0M195.2 374.4h0M196.4 374.3h0M198.7 374.4h0M199.7 374.6h0M201.8 374.9h0M213.5 374.1h0M214.5 374.1h0M215.7 374.1h0M216.7 374.8h0M221.5 374.9h0M223.6 375.0h0M223.8 374.2h0M227.4 374.9h0M228.3 374.9h0M228.3 374.5h0M231.2 374.8h0M231.2 374.4h0M234.6 374.5h0M238.0 374.7h0M238.6 374.8h0M239.2 374.8h0M250.8 374.9h0M250.5 374.7h0M252.4 374.4h0M258.3 374.8h0M258.2 374.2h0M267.4 374.1h0M324.2 374.4h0M326.6 374.8h0M326.9 374.8h0M327.0 374.5h0M328.8 374.5h0M329.7 374.1h0M329.6 374.5h0M329.8 374.3h0M333.9 374.2h0M336.1 374.3h0M340.7 374.5h0M341.3 374.6h0M352.0 374.9h0M353.1 374.6h0M367.0 374.9h0M375.8 374.4h0M377.7 374.8h0M378.9 374.9h0M379.1 374.6h0M387.9 374.5h0M393.6 374.9h0M396.7 374.9h0M405.4 374.0h0M406.7 374.0h0M406.4 374.0h0M411.1 374.8h0M414.1 374.3h0M419.0 374.3h0M423.5 374.0h0M425.9 374.7h0M426.9 374.5h0M427.5 374.8h0M428.6 375.0h0M429.2 374.4h0M430.2 374.4h0M432.4 374.1h0M76.4 375.1h0M76.4 375.1h0M89.7 375.6h0M106.7 376.0h0M120.7 375.4h0M124.2 375.2h0M132.0 375.0h0M150.5 375.4h0M153.9 375.3h0M157.8 375.7h0M161.9 375.6h0M163.9 375.7h0M166.0 375.4h0M167.6 375.5h0M167.6 375.8h0M169.6 375.8h0M169.7 375.5h0M176.0 375.3h0M181.2 375.3h0M183.5 375.4h0M186.0 375.0h0M188.3 375.2h0M190.0 376.0h0M190.6 375.5h0M194.6 375.5h0M195.1 375.6h0M197.0 375.1h0M198.7 375.4h0M199.3 375.6h0M203.3 375.8h0M208.3 375.4h0M209.3 375.5h0M214.8 375.2h0M220.1 375.4h0M226.7 375.8h0M231.8 375.0h0M231.6 375.1h0M232.1 375.3h0M232.6 375.5h0M236.4 375.2h0M236.4 375.8h0M238.2 376.0h0M238.7 375.1h0M240.8 375.0h0M250.3 375.1h0M250.2 375.2h0M261.7 375.4h0M319.2 375.3h0M323.0 375.3h0M322.0 375.0h0M324.9 376.0h0M328.1 375.8h0M330.2 375.1h0M331.5 375.5h0M331.1 375.6h0M334.7 375.1h0M334.2 375.4h0M335.9 375.0h0M335.4 375.1h0M340.2 375.6h0M343.2 375.2h0M351.9 376.0h0M357.9 376.0h0M359.7 375.5h0M366.4 375.9h0M379.4 375.9h0M382.0 375.9h0M385.7 375.8h0M387.3 375.0h0M396.0 375.4h0M397.0 375.3h0M405.5 375.5h0M411.0 375.4h0M413.5 375.9h0M414.1 375.3h0M418.9 375.7h0M423.0 375.2h0M424.8 375.8h0M429.0 375.4h0M429.9 375.2h0M433.9 375.4h0M102.1 376.5h0M122.0 376.9h0M126.1 376.2h0M145.3 376.1h0M154.8 376.3h0M158.8 376.5h0M158.3 376.2h0M158.3 376.1h0M160.6 376.7h0M164.0 376.4h0M165.7 376.8h0M170.3 376.3h0M172.6 376.1h0M176.2 377.0h0M177.0 376.5h0M178.7 376.3h0M181.6 376.0h0M188.6 376.5h0M190.5 376.6h0M192.7 376.0h0M192.5 376.8h0M196.8 376.4h0M196.9 376.8h0M200.0 376.8h0M200.0 376.5h0M207.8 376.7h0M209.9 376.9h0M209.3 376.1h0M214.2 376.9h0M226.2 376.8h0M231.2 376.8h0M231.5 376.9h0M231.2 376.6h0M234.2 376.3h0M234.7 376.3h0M234.5 376.9h0M237.5 376.2h0M238.8 376.7h0M238.2 376.4h0M240.5 376.0h0M249.6 376.3h0M257.6 376.6h0M266.4 376.1h0M316.5 376.6h0M317.8 376.4h0M319.2 376.0h0M319.6 376.2h0M319.2 376.6h0M320.1 376.1h0M322.3 376.5h0M324.0 376.5h0M324.5 376.2h0M325.0 376.4h0M325.8 376.2h0M332.5 376.9h0M333.2 376.4h0M334.3 376.1h0M334.2 376.1h0M340.2 376.1h0M340.2 376.9h0M340.0 376.3h0M342.0 376.5h0M350.6 376.9h0M362.2 376.3h0M368.9 377.0h0M371.4 376.6h0M372.8 376.3h0M382.8 376.8h0M385.5 376.2h0M393.9 376.5h0M396.3 377.0h0M399.7 376.1h0M406.8 376.7h0M408.2 376.8h0M411.5 376.5h0M413.4 376.7h0M417.7 376.7h0M417.5 376.2h0M419.2 376.8h0M421.8 376.1h0M435.1 376.7h0M94.4 377.2h0M116.6 377.7h0M119.4 377.3h0M123.6 377.4h0M129.0 377.1h0M130.1 377.6h0M141.0 377.4h0M146.5 377.7h0M149.3 377.9h0M159.5 377.7h0M159.3 377.3h0M162.2 377.7h0M164.2 377.2h0M169.0 377.0h0M171.3 377.5h0M174.7 377.3h0M174.7 377.2h0M174.0 377.8h0M175.2 377.7h0M175.7 377.0h0M175.9 377.6h0M177.8 377.8h0M192.8 378.0h0M192.4 377.2h0M195.2 377.4h0M196.1 377.6h0M197.3 377.5h0M197.1 377.6h0M202.5 377.3h0M203.4 377.6h0M207.6 377.6h0M208.1 377.9h0M208.1 377.5h0M209.6 377.4h0M216.2 377.1h0M220.4 377.2h0M225.0 377.9h0M228.3 377.4h0M229.7 377.2h0M229.5 377.6h0M230.1 377.8h0M231.1 377.5h0M232.6 377.3h0M235.0 377.3h0M235.6 377.9h0M236.8 377.6h0M238.8 377.5h0M238.5 377.7h0M240.7 377.1h0M252.8 377.2h0M260.5 377.7h0M262.1 377.1h0M266.9 377.7h0M267.8 378.0h0M315.3 377.0h0M315.7 377.2h0M315.1 377.3h0M318.1 377.7h0M320.8 377.8h0M323.3 377.3h0M323.6 377.0h0M328.3 377.7h0M329.1 377.8h0M329.1 377.3h0M331.9 377.5h0M333.0 377.3h0M332.8 377.2h0M334.5 377.7h0M335.2 377.8h0M336.1 377.4h0M337.2 377.1h0M337.7 377.3h0M339.0 377.7h0M339.9 377.1h0M339.1 377.7h0M343.6 377.5h0M344.1 377.2h0M347.5 377.5h0M348.4 377.6h0M348.7 377.4h0M350.2 377.7h0M357.5 377.7h0M364.1 377.6h0M369.5 378.0h0M370.7 377.5h0M372.1 377.4h0M377.4 377.7h0M380.6 377.2h0M381.8 377.2h0M382.9 377.2h0M383.2 377.5h0M390.1 378.0h0M392.0 377.1h0M402.7 377.9h0M404.0 377.7h0M412.8 377.8h0M412.1 377.0h0M412.0 377.2h0M413.9 377.7h0M416.9 377.2h0M427.8 377.1h0M430.3 377.4h0M434.2 377.6h0M104.5 378.7h0M108.6 378.8h0M128.6 378.3h0M162.0 378.1h0M172.9 378.3h0M174.0 378.6h0M177.6 378.6h0M181.9 378.3h0M183.7 378.5h0M194.0 378.6h0M196.0 378.1h0M197.2 378.5h0M198.8 378.9h0M199.2 378.9h0M200.5 378.5h0M206.2 378.1h0M208.9 378.6h0M213.6 378.7h0M219.7 378.1h0M221.4 378.6h0M223.9 378.7h0M230.4 378.1h0M230.2 378.8h0M234.5 378.6h0M235.6 378.4h0M235.8 378.6h0M236.3 379.0h0M237.9 378.5h0M267.8 378.3h0M310.7 378.1h0M311.4 378.5h0M314.8 378.0h0M316.7 378.4h0M318.0 378.2h0M320.5 378.1h0M321.1 378.7h0M327.0 378.5h0M327.2 378.9h0M334.1 378.5h0M336.0 378.3h0M336.5 378.2h0M338.1 378.2h0M341.6 378.4h0M346.2 379.0h0M354.0 378.1h0M374.7 378.2h0M375.9 378.5h0M384.7 378.6h0M389.0 378.3h0M414.4 378.7h0M414.5 378.0h0M416.5 378.5h0M417.9 378.8h0M417.5 378.7h0M417.0 378.8h0M420.3 378.4h0M422.7 378.9h0M423.8 378.5h0M423.1 378.1h0M434.1 378.5h0M437.4 378.2h0M94.5 379.7h0M127.1 379.3h0M130.3 380.0h0M130.1 379.7h0M141.6 379.2h0M145.4 379.4h0M146.1 379.5h0M156.6 379.5h0M157.8 379.6h0M161.2 379.3h0M161.4 379.8h0M164.5 379.8h0M164.7 379.5h0M166.2 379.0h0M166.7 379.7h0M167.1 379.7h0M181.3 379.0h0M183.8 379.3h0M189.5 379.6h0M194.5 379.8h0M197.5 379.2h0M204.9 379.5h0M205.1 379.1h0M220.1 379.2h0M224.2 379.6h0M227.2 379.7h0M232.3 379.4h0M232.7 379.4h0M232.6 379.9h0M233.8 379.4h0M234.0 379.8h0M234.6 379.8h0M235.7 379.7h0M235.6 379.2h0M236.4 379.5h0M236.3 379.2h0M236.3 380.0h0M267.6 379.1h0M309.0 379.7h0M310.7 379.9h0M311.6 379.5h0M312.7 379.1h0M313.1 379.1h0M314.0 379.1h0M315.4 379.8h0M321.0 379.9h0M320.9 379.5h0M324.8 379.1h0M324.2 379.3h0M325.9 379.7h0M326.6 379.3h0M329.3 379.0h0M329.7 379.0h0M330.4 379.4h0M330.9 379.3h0M332.9 379.4h0M337.1 379.9h0M339.8 379.1h0M339.5 379.1h0M341.2 379.4h0M348.7 379.4h0M350.0 379.5h0M357.6 379.1h0M361.6 379.4h0M363.4 379.9h0M363.6 379.7h0M375.6 379.8h0M397.7 379.2h0M401.4 379.2h0M415.3 379.9h0M416.2 379.8h0M429.0 379.2h0M430.0 379.9h0M76.1 380.5h0M101.5 380.3h0M109.5 381.0h0M112.6 380.4h0M140.0 380.4h0M148.3 380.3h0M148.4 380.8h0M149.8 380.3h0M163.7 380.4h0M166.5 380.0h0M172.8 380.7h0M173.1 380.2h0M176.3 380.1h0M179.1 380.5h0M188.8 380.4h0M196.3 380.9h0M200.1 381.0h0M205.6 380.5h0M206.8 380.2h0M208.0 380.7h0M209.0 380.2h0M213.7 380.8h0M214.7 380.8h0M224.5 380.5h0M228.8 380.5h0M228.5 380.2h0M232.7 380.0h0M233.2 380.6h0M238.9 380.8h0M253.1 380.6h0M259.0 380.6h0M259.3 380.3h0M262.0 380.0h0M262.5 380.9h0M262.7 380.1h0M266.6 380.5h0M305.0 380.7h0M305.9 380.8h0M306.5 380.6h0M306.3 380.3h0M307.2 380.7h0M309.1 380.2h0M310.3 380.4h0M311.0 381.0h0M311.7 380.6h0M312.9 381.0h0M314.1 380.1h0M316.2 380.9h0M316.9 380.4h0M316.9 380.1h0M318.9 380.5h0M318.3 380.7h0M318.9 380.9h0M318.2 380.7h0M321.9 380.3h0M323.4 380.6h0M324.8 380.6h0M324.4 380.6h0M325.2 380.7h0M326.3 380.4h0M326.4 380.3h0M327.4 380.6h0M332.4 380.1h0M341.2 380.8h0M343.1 380.1h0M359.0 380.3h0M366.8 380.5h0M368.3 380.9h0M389.0 380.2h0M390.2 380.1h0M404.4 380.4h0M404.9 380.7h0M411.0 380.9h0M419.8 380.3h0M420.2 380.6h0M422.0 380.2h0M425.7 380.4h0M428.6 380.2h0M431.3 380.0h0M431.9 380.7h0M437.0 380.6h0M137.4 381.4h0M145.9 381.2h0M146.1 381.5h0M149.7 381.1h0M152.9 381.4h0M155.9 381.9h0M165.3 381.5h0M165.9 381.6h0M166.4 381.1h0M167.5 381.7h0M170.1 381.8h0M171.2 381.1h0M187.8 381.4h0M188.8 381.8h0M189.4 381.3h0M191.9 381.6h0M191.9 381.5h0M198.0 381.0h0M199.2 381.9h0M200.2 381.5h0M200.6 381.9h0M201.7 381.1h0M211.8 381.1h0M217.2 382.0h0M218.4 382.0h0M219.2 381.6h0M226.1 381.5h0M229.3 381.4h0M231.2 381.0h0M232.5 381.8h0M233.3 381.5h0M234.7 381.2h0M234.6 381.9h0M237.4 381.2h0M239.4 381.2h0M239.3 381.3h0M240.7 381.6h0M261.9 381.7h0M267.9 381.9h0M301.7 381.7h0M305.2 381.8h0M307.2 381.1h0M307.0 381.2h0M308.3 381.6h0M308.5 381.9h0M309.0 381.1h0M310.0 381.3h0M309.7 381.5h0M310.0 381.7h0M310.6 381.8h0M310.1 381.5h0M311.1 381.7h0M311.4 381.3h0M311.1 381.4h0M312.6 381.1h0M312.4 381.1h0M313.3 381.4h0M314.2 381.2h0M315.9 381.0h0M317.9 381.6h0M318.2 381.7h0M321.6 381.5h0M322.6 381.5h0M323.1 381.4h0M324.0 381.6h0M323.2 381.4h0M324.4 381.7h0M324.8 381.9h0M326.1 381.2h0M328.7 382.0h0M336.2 381.2h0M336.3 381.1h0M337.3 381.7h0M388.0 381.0h0M396.8 381.7h0M411.1 381.3h0M426.0 381.1h0M430.9 381.5h0M434.5 382.0h0M89.5 382.5h0M100.7 382.7h0M104.4 382.7h0M105.3 382.6h0M113.6 382.8h0M116.3 382.1h0M138.6 382.6h0M143.8 382.2h0M144.4 382.5h0M157.1 382.6h0M161.0 382.9h0M163.2 382.2h0M165.5 382.6h0M168.2 382.0h0M168.6 382.7h0M169.3 382.9h0M170.4 382.5h0M173.1 382.1h0M175.1 382.3h0M182.7 382.7h0M183.4 382.1h0M183.3 382.1h0M185.8 382.7h0M185.9 382.4h0M187.4 382.6h0M189.3 382.1h0M193.4 382.1h0M193.9 382.2h0M193.3 382.3h0M196.2 382.9h0M197.9 382.1h0M199.2 382.8h0M201.5 382.7h0M202.3 382.9h0M204.4 382.8h0M205.1 382.8h0M211.7 382.8h0M216.0 382.9h0M217.2 382.8h0M229.2 382.5h0M231.5 382.4h0M232.5 382.8h0M236.6 382.1h0M238.3 382.9h0M267.1 382.6h0M267.8 382.5h0M300.8 383.0h0M301.0 383.0h0M301.1 382.4h0M302.8 382.8h0M303.5 382.8h0M304.4 382.8h0M304.1 382.7h0M305.3 382.0h0M306.3 382.9h0M308.0 382.2h0M312.7 382.5h0M314.3 382.5h0M316.6 382.3h0M318.1 383.0h0M321.8 382.3h0M322.6 382.6h0M327.4 382.2h0M329.7 382.1h0M329.6 382.7h0M336.6 382.9h0M337.8 382.5h0M350.1 382.2h0M367.1 382.6h0M367.9 382.8h0M371.2 382.8h0M390.6 382.8h0M391.9 382.5h0M393.7 382.5h0M402.9 382.1h0M403.0 382.9h0M404.2 382.5h0M408.0 382.5h0M415.4 382.8h0M417.1 382.4h0M419.2 382.1h0M419.6 382.8h0M90.7 384.0h0M109.8 383.7h0M124.4 383.3h0M131.1 383.2h0M135.5 383.4h0M142.4 383.0h0M161.5 383.4h0M171.6 383.5h0M180.8 383.2h0M183.1 383.5h0M186.9 383.2h0M186.1 383.8h0M186.7 383.5h0M187.2 383.8h0M199.8 383.1h0M202.2 383.5h0M206.0 383.6h0M208.9 383.5h0M221.9 383.3h0M224.5 383.9h0M225.5 383.9h0M228.7 383.0h0M231.7 383.0h0M231.1 384.0h0M233.1 383.9h0M235.3 383.1h0M237.3 383.2h0M251.6 383.2h0M252.8 383.3h0M258.3 383.1h0M260.9 383.6h0M262.7 383.0h0M299.3 383.3h0M300.1 383.9h0M300.4 383.1h0M307.7 383.9h0M308.3 383.8h0M308.3 383.2h0M308.1 383.4h0M309.7 383.5h0M314.3 383.1h0M315.9 383.3h0M317.1 383.5h0M321.8 383.5h0M322.7 383.7h0M323.1 383.8h0M328.0 383.5h0M331.8 383.8h0M331.4 383.1h0M337.9 383.9h0M365.6 383.6h0M401.4 384.0h0M404.6 383.9h0M404.4 383.1h0M409.4 383.8h0M415.1 383.1h0M420.9 383.5h0M421.0 383.3h0M111.8 384.3h0M112.5 384.8h0M119.5 384.3h0M130.6 384.1h0M140.6 384.5h0M144.7 384.8h0M155.5 384.2h0M169.4 384.1h0M175.3 384.3h0M175.3 384.8h0M177.0 384.7h0M177.8 384.8h0M183.0 384.4h0M186.9 384.3h0M200.5 384.4h0M205.8 384.5h0M228.5 384.9h0M236.4 384.6h0M238.7 384.1h0M239.2 385.0h0M240.9 384.1h0M258.8 384.9h0M295.2 384.7h0M297.1 384.6h0M297.5 384.9h0M299.9 384.5h0M301.1 384.7h0M304.0 384.2h0M305.8 384.8h0M306.0 384.7h0M307.6 384.9h0M309.1 384.2h0M309.1 384.3h0M312.5 384.1h0M313.2 384.5h0M313.9 384.2h0M315.5 384.8h0M316.0 384.1h0M319.6 384.7h0M320.0 384.4h0M323.6 384.7h0M327.4 384.1h0M329.3 384.5h0M333.4 384.5h0M336.8 384.8h0M339.0 384.0h0M344.7 384.2h0M357.4 384.2h0M400.0 384.9h0M418.2 384.8h0M436.8 384.9h0M132.1 385.4h0M137.8 385.0h0M153.3 385.5h0M158.5 385.8h0M164.4 385.0h0M170.3 385.9h0M174.0 385.8h0M175.5 386.0h0M181.9 385.3h0M192.3 385.7h0M193.8 385.3h0M194.3 385.2h0M198.0 385.5h0M199.6 385.9h0M200.2 385.8h0M201.5 385.2h0M203.6 385.0h0M205.0 385.4h0M210.4 385.6h0M215.2 385.5h0M217.3 385.9h0M224.1 385.5h0M227.0 385.7h0M228.7 385.3h0M232.1 385.5h0M232.0 385.3h0M234.7 385.6h0M236.7 385.9h0M239.3 385.7h0M247.8 385.0h0M252.2 385.5h0M258.1 385.3h0M258.5 385.0h0M261.7 385.0h0M295.9 385.8h0M298.3 385.2h0M300.4 385.5h0M300.6 385.7h0M306.4 385.8h0M306.1 385.9h0M306.5 386.0h0M308.8 385.4h0M310.2 385.9h0M310.8 385.8h0M312.9 385.1h0M316.7 385.3h0M320.8 385.4h0M323.3 385.9h0M324.0 385.5h0M324.1 385.1h0M325.4 385.6h0M329.7 385.9h0M329.3 385.1h0M329.7 385.7h0M330.0 385.5h0M332.0 385.9h0M372.0 385.3h0M379.7 385.1h0M389.9 385.2h0M421.2 385.3h0M421.9 385.1h0M436.0 385.3h0M128.8 386.2h0M131.8 386.5h0M142.0 386.9h0M145.1 386.5h0M149.2 386.7h0M151.9 386.9h0M164.3 386.6h0M171.3 386.2h0M172.7 386.1h0M184.8 386.4h0M186.2 386.7h0M201.9 386.2h0M202.8 386.6h0M203.3 386.9h0M204.4 386.9h0M210.1 386.3h0M215.5 386.6h0M216.7 387.0h0M217.4 386.0h0M219.9 386.5h0M232.0 386.6h0M233.1 386.6h0M234.9 386.2h0M236.2 386.4h0M236.4 386.7h0M237.8 386.8h0M237.1 386.7h0M238.8 387.0h0M240.1 386.4h0M249.9 386.5h0M253.4 386.8h0M267.6 386.0h0M268.2 386.5h0M294.4 386.9h0M297.5 386.2h0M297.5 386.8h0M298.6 386.7h0M299.1 386.2h0M299.7 386.4h0M300.3 386.7h0M304.3 386.8h0M308.5 386.3h0M311.4 386.7h0M311.5 386.6h0M312.9 387.0h0M314.1 386.5h0M315.4 386.6h0M324.0 386.9h0M324.3 386.8h0M324.5 386.7h0M328.3 386.8h0M331.6 386.3h0M332.7 386.4h0M332.8 386.7h0M333.2 386.9h0M334.9 386.6h0M344.6 386.8h0M346.6 386.2h0M346.9 386.6h0M377.7 386.5h0M402.6 386.2h0M414.0 387.0h0M418.5 386.5h0M434.2 386.6h0M92.2 387.4h0M103.4 387.6h0M108.9 387.4h0M124.8 387.2h0M130.6 387.8h0M144.4 387.3h0M148.6 387.1h0M151.9 387.2h0M152.2 387.9h0M155.3 387.4h0M159.0 387.7h0M159.1 387.6h0M161.3 387.4h0M170.1 387.5h0M177.4 387.3h0M180.4 387.4h0M182.5 387.1h0M184.5 387.0h0M184.3 387.5h0M186.1 388.0h0M192.1 387.3h0M202.1 388.0h0M204.7 387.1h0M216.3 387.8h0M220.3 387.0h0M220.1 387.5h0M220.9 387.8h0M221.4 387.4h0M231.9 387.1h0M231.9 387.7h0M231.1 387.8h0M232.4 387.2h0M233.9 387.4h0M236.1 388.0h0M237.0 387.5h0M237.0 387.0h0M238.4 387.6h0M240.3 387.4h0M250.0 387.2h0M261.0 387.2h0M261.6 387.8h0M262.5 387.2h0M268.4 387.5h0M292.9 387.1h0M294.2 387.2h0M294.4 387.7h0M294.2 387.7h0M296.5 388.0h0M297.3 387.5h0M298.2 387.4h0M300.3 387.0h0M301.8 387.5h0M301.4 387.1h0M304.1 387.5h0M304.7 387.5h0M304.6 387.4h0M305.3 387.3h0M306.6 387.4h0M308.0 387.4h0M312.7 387.4h0M313.7 387.9h0M313.8 387.9h0M315.2 387.6h0M315.0 387.9h0M316.9 387.5h0M318.5 387.6h0M320.3 387.9h0M324.3 387.8h0M330.2 387.1h0M331.9 387.2h0M332.8 387.7h0M332.9 387.7h0M337.7 387.2h0M340.3 387.7h0M348.2 387.9h0M412.0 387.9h0M412.7 387.2h0M413.9 387.7h0M436.0 387.1h0M111.9 388.2h0M114.5 388.3h0M116.8 388.4h0M122.5 388.3h0M137.7 388.3h0M141.6 388.6h0M142.4 388.3h0M148.6 388.3h0M157.5 388.1h0M169.0 388.9h0M172.7 388.9h0M173.9 388.0h0M179.8 388.8h0M184.8 388.6h0M184.2 388.1h0M185.8 388.1h0M190.2 388.7h0M190.8 388.5h0M193.7 388.6h0M193.5 388.4h0M194.7 388.8h0M198.1 388.6h0M202.3 388.7h0M204.5 388.2h0M208.5 388.1h0M208.0 388.1h0M209.2 388.4h0M211.7 388.9h0M217.0 388.9h0M225.8 388.4h0M226.2 388.7h0M231.0 388.6h0M231.9 388.9h0M232.2 388.1h0M233.3 388.9h0M233.5 388.7h0M239.7 389.0h0M250.8 388.6h0M250.3 388.5h0M252.6 388.7h0M300.9 388.8h0M300.8 388.9h0M305.8 388.3h0M308.0 388.6h0M307.0 388.4h0M310.2 388.8h0M310.2 388.7h0M316.3 388.8h0M317.6 388.4h0M321.5 388.6h0M321.6 388.8h0M327.1 388.8h0M327.5 388.5h0M329.7 388.6h0M334.1 388.2h0M336.6 388.8h0M340.0 388.2h0M382.3 388.9h0M390.8 388.3h0M394.7 388.6h0M423.9 388.9h0M433.0 388.0h0M143.4 389.0h0M152.5 389.4h0M155.8 389.5h0M165.6 389.5h0M168.8 389.9h0M170.4 389.6h0M179.6 389.5h0M187.9 389.8h0M190.9 389.7h0M194.5 389.7h0M195.9 389.9h0M196.0 389.5h0M196.2 389.2h0M198.0 389.3h0M197.9 389.1h0M198.5 389.2h0M200.5 389.4h0M202.2 389.2h0M203.9 389.4h0M203.2 389.6h0M206.5 389.2h0M206.3 389.0h0M212.5 389.1h0M215.0 389.3h0M217.8 389.1h0M222.8 389.1h0M230.1 389.2h0M230.8 389.3h0M232.8 389.8h0M234.6 389.0h0M237.1 389.2h0M239.4 389.3h0M240.4 389.9h0M292.0 389.9h0M295.5 389.7h0M296.9 389.7h0M299.8 389.4h0M301.9 389.7h0M302.7 389.1h0M303.7 389.5h0M303.4 389.3h0M306.1 389.7h0M309.1 389.1h0M311.2 389.7h0M311.5 389.4h0M313.5 389.1h0M314.1 390.0h0M314.8 389.6h0M315.3 389.9h0M319.4 389.3h0M322.0 389.2h0M322.5 389.2h0M323.0 389.7h0M325.0 389.6h0M327.0 389.4h0M327.3 389.6h0M328.3 389.4h0M329.3 389.9h0M331.5 389.6h0M332.1 390.0h0M342.6 389.9h0M344.8 389.0h0M363.9 389.7h0M379.1 389.5h0M394.3 389.6h0M402.7 389.1h0M403.5 389.8h0M110.4 390.5h0M119.5 390.8h0M153.0 390.8h0M153.9 390.3h0M158.0 390.5h0M160.6 390.6h0M160.8 390.0h0M175.4 390.0h0M178.2 390.7h0M181.4 390.8h0M184.9 390.9h0M184.2 390.3h0M186.4 390.3h0M194.1 390.9h0M201.8 390.3h0M201.0 390.4h0M206.8 390.8h0M211.8 390.3h0M213.3 390.6h0M214.6 390.1h0M214.5 390.8h0M219.8 390.4h0M226.8 390.3h0M228.9 390.3h0M234.2 390.9h0M234.9 390.3h0M235.2 390.5h0M236.1 390.1h0M251.8 390.6h0M258.2 390.9h0M267.6 390.0h0M292.7 390.8h0M296.8 390.9h0M297.5 390.1h0M302.5 390.0h0M305.5 390.9h0M312.0 390.8h0M313.6 390.2h0M317.9 390.1h0M319.3 390.8h0M320.1 390.0h0M324.4 390.7h0M326.0 390.6h0M328.7 390.2h0M328.9 390.7h0M333.0 390.3h0M351.6 390.1h0M376.2 390.1h0M393.2 391.0h0M131.9 391.7h0M146.4 392.0h0M147.5 391.3h0M159.8 391.5h0M169.0 391.5h0M170.0 391.5h0M171.1 391.4h0M178.4 391.0h0M179.5 391.4h0M185.3 391.6h0M187.6 391.7h0M216.4 391.3h0M222.1 391.4h0M224.8 391.3h0M231.0 391.1h0M231.4 392.0h0M234.4 391.3h0M236.1 391.8h0M238.1 391.5h0M238.8 391.8h0M240.5 391.0h0M258.2 391.0h0M260.9 391.1h0M267.6 391.1h0M267.7 391.9h0M268.0 392.0h0M292.2 391.4h0M295.8 391.4h0M297.4 391.1h0M297.9 391.7h0M297.8 391.5h0M301.6 391.7h0M303.2 391.6h0M304.6 391.3h0M305.1 391.2h0M315.8 391.7h0M315.3 391.2h0M315.6 391.0h0M318.4 391.7h0M319.0 391.0h0M319.3 392.0h0M320.7 391.6h0M322.2 391.1h0M328.5 392.0h0M328.1 391.8h0M333.3 391.2h0M384.3 391.4h0M386.4 391.3h0M387.3 391.8h0M138.4 392.8h0M149.6 392.3h0M155.1 392.8h0M160.8 392.1h0M170.2 392.3h0M174.8 392.6h0M190.0 392.5h0M194.8 392.1h0M195.0 392.4h0M195.3 392.4h0M201.0 392.1h0M204.1 392.3h0M205.3 392.0h0M206.8 392.1h0M210.5 392.7h0M211.9 392.4h0M213.0 392.5h0M215.3 392.8h0M231.5 392.4h0M235.0 392.6h0M236.6 392.7h0M238.0 392.7h0M251.1 392.5h0M261.7 392.8h0M267.7 392.7h0M292.3 392.2h0M293.2 392.0h0M294.0 392.2h0M293.0 392.2h0M294.3 392.1h0M295.1 392.0h0M295.0 392.1h0M297.7 392.8h0M301.5 392.4h0M301.2 392.3h0M303.3 392.1h0M303.7 392.5h0M306.8 392.1h0M307.3 392.8h0M312.9 392.7h0M312.4 392.8h0M313.9 392.7h0M314.3 392.8h0M316.4 392.7h0M319.7 392.9h0M322.4 392.5h0M322.7 392.6h0M336.3 392.9h0M340.5 392.4h0M343.3 392.4h0M367.1 392.9h0M371.8 392.7h0M106.5 393.8h0M112.9 393.7h0M123.1 393.5h0M136.8 393.1h0M140.1 393.1h0M146.9 393.1h0M146.5 393.1h0M160.6 393.3h0M166.6 393.8h0M167.6 393.7h0M168.1 393.3h0M169.6 393.2h0M183.7 393.1h0M186.2 393.7h0M191.3 393.7h0M196.8 393.4h0M198.4 393.2h0M198.7 393.7h0M199.8 393.4h0M200.5 394.0h0M206.9 393.4h0M207.7 393.8h0M209.4 393.5h0M224.4 393.7h0M230.1 393.8h0M235.1 393.2h0M249.8 393.6h0M250.2 393.9h0M268.9 393.1h0M293.7 393.8h0M294.5 393.4h0M299.0 393.0h0M302.2 393.8h0M304.4 393.9h0M306.8 393.2h0M312.0 393.4h0M317.3 393.8h0M318.7 393.4h0M321.1 393.0h0M321.4 393.7h0M322.7 393.6h0M322.4 393.3h0M323.6 393.1h0M326.2 393.2h0M334.6 393.4h0M337.7 393.9h0M344.3 393.2h0M346.4 393.9h0M432.8 394.0h0M100.9 394.8h0M127.0 394.2h0M136.9 394.6h0M139.6 394.6h0M141.0 394.2h0M168.0 394.7h0M173.8 394.1h0M177.5 394.9h0M179.4 394.3h0M190.1 394.1h0M192.7 394.1h0M194.8 394.4h0M196.8 394.5h0M199.8 394.1h0M203.0 394.1h0M212.7 394.6h0M213.7 394.3h0M215.6 395.0h0M218.5 394.8h0M233.6 394.1h0M233.9 394.3h0M234.2 394.0h0M293.9 394.6h0M293.5 394.3h0M297.7 394.4h0M298.3 395.0h0M300.5 394.7h0M300.6 394.3h0M304.6 394.3h0M304.5 394.1h0M312.6 394.2h0M314.7 394.9h0M319.1 394.6h0M321.9 394.9h0M326.7 394.2h0M327.8 394.3h0M330.5 394.1h0M330.5 394.3h0M330.3 395.0h0M336.2 394.8h0M413.7 394.2h0M99.1 395.9h0M124.4 395.8h0M154.6 395.0h0M157.3 395.8h0M168.2 395.7h0M186.0 395.1h0M190.0 395.8h0M196.4 395.3h0M197.3 395.7h0M200.8 395.9h0M201.2 395.1h0M223.0 395.8h0M231.6 395.6h0M237.7 395.8h0M238.3 395.6h0M268.2 395.6h0M293.1 395.2h0M294.0 395.5h0M300.9 395.9h0M303.7 395.1h0M304.2 395.8h0M304.2 395.9h0M305.0 395.8h0M308.7 395.8h0M308.4 395.9h0M308.7 395.6h0M310.3 395.2h0M310.6 395.7h0M312.5 395.4h0M314.6 395.7h0M315.8 395.8h0M316.0 395.2h0M316.5 395.1h0M319.9 395.6h0M319.4 395.7h0M324.0 395.3h0M324.1 395.3h0M325.5 395.1h0M328.3 395.8h0M329.2 395.4h0M329.9 395.1h0M336.4 395.2h0M387.3 395.2h0M124.3 396.9h0M147.4 396.9h0M168.5 396.6h0M171.2 396.4h0M177.3 396.6h0M178.9 396.2h0M187.8 396.3h0M194.0 396.6h0M201.3 396.7h0M203.6 396.3h0M209.4 396.6h0M211.1 396.2h0M212.7 396.1h0M214.9 396.3h0M224.2 396.6h0M225.6 396.4h0M228.6 396.6h0M239.0 396.5h0M250.7 396.1h0M262.2 396.1h0M268.4 396.1h0M291.2 396.7h0M293.0 396.2h0M293.3 396.3h0M294.7 396.6h0M296.5 396.6h0M299.5 396.6h0M301.1 397.0h0M302.1 397.0h0M305.2 396.9h0M310.9 396.2h0M310.5 396.7h0M311.8 396.2h0M314.0 396.7h0M313.2 396.5h0M314.4 396.4h0M316.3 396.9h0M318.1 396.8h0M320.6 396.9h0M321.3 396.2h0M322.5 396.1h0M326.8 396.3h0M334.4 396.3h0M334.2 396.4h0M334.2 396.4h0M335.1 396.1h0M396.2 396.3h0M122.8 397.2h0M150.7 397.3h0M158.4 397.7h0M171.0 397.9h0M175.8 397.7h0M184.3 397.5h0M186.9 397.3h0M193.6 397.5h0M200.1 397.6h0M202.2 397.7h0M214.6 397.8h0M219.8 398.0h0M221.9 398.0h0M228.5 397.4h0M231.9 397.8h0M232.0 397.9h0M251.8 397.8h0M252.0 397.4h0M259.9 397.2h0M263.7 397.6h0M267.6 397.4h0M268.2 397.6h0M295.0 397.1h0M294.3 397.0h0M294.0 397.0h0M296.9 397.6h0M296.7 397.7h0M298.1 397.2h0M299.2 397.4h0M300.3 397.1h0M306.8 397.8h0M314.6 397.4h0M318.3 397.3h0M318.5 397.8h0M320.4 397.4h0M320.2 397.5h0M323.4 397.4h0M325.4 397.4h0M334.2 397.5h0M336.9 397.1h0M349.6 397.7h0M122.2 398.1h0M157.2 398.7h0M174.0 398.2h0M178.7 398.6h0M178.5 398.6h0M180.5 398.3h0M181.9 398.1h0M189.7 398.0h0M191.6 399.0h0M191.8 398.9h0M192.0 398.9h0M202.0 398.3h0M205.9 398.8h0M208.7 398.1h0M210.3 398.2h0M230.5 398.3h0M252.7 398.9h0M253.2 398.2h0M291.7 398.0h0M291.0 398.3h0M293.2 399.0h0M295.6 398.8h0M295.9 398.2h0M295.5 398.8h0M298.4 398.7h0M298.1 398.4h0M309.6 398.3h0M309.4 398.9h0M316.3 398.4h0M322.9 399.0h0M326.1 398.4h0M327.2 398.5h0M330.1 398.4h0M331.9 398.8h0M332.0 398.3h0M334.5 398.9h0M346.1 398.3h0M348.0 398.1h0M107.3 399.5h0M118.8 399.8h0M127.4 399.8h0M137.1 399.6h0M137.2 399.5h0M139.1 399.8h0M147.4 399.2h0M148.6 399.3h0M153.5 399.2h0M172.6 399.3h0M187.0 399.8h0M194.1 399.4h0M202.2 399.2h0M202.7 399.8h0M218.3 399.0h0M223.1 399.8h0M232.7 399.8h0M235.2 399.4h0M236.1 399.6h0M236.2 399.1h0M237.5 399.6h0M253.0 399.5h0M257.5 399.7h0M266.7 399.1h0M268.3 399.3h0M269.0 399.3h0M292.6 399.2h0M295.1 399.8h0M297.5 399.0h0M298.3 399.1h0M300.5 399.6h0M302.3 399.6h0M302.0 399.4h0M303.7 400.0h0M311.5 399.5h0M311.5 399.2h0M312.9 399.4h0M129.8 400.5h0M139.2 400.5h0M164.6 400.2h0M183.5 400.0h0M190.9 400.7h0M191.7 400.0h0M196.1 400.9h0M204.2 400.5h0M219.3 400.1h0M233.6 400.4h0M234.9 400.6h0M234.8 400.9h0M235.4 400.5h0M235.2 400.1h0M237.6 400.3h0M239.4 400.5h0M252.8 400.6h0M257.9 401.0h0M258.8 401.0h0M268.4 401.0h0M289.8 400.3h0M289.7 400.7h0M291.4 400.9h0M291.0 400.3h0M299.8 400.1h0M300.4 400.1h0M301.9 400.7h0M301.7 400.5h0M308.6 400.0h0M309.5 400.7h0M312.4 400.3h0M324.2 400.3h0M326.5 400.8h0M330.7 401.0h0M127.5 401.3h0M134.8 401.7h0M155.5 402.0h0M174.7 401.9h0M181.6 401.7h0M183.6 401.1h0M187.2 401.7h0M200.4 402.0h0M205.5 401.5h0M208.5 402.0h0M220.6 401.5h0M222.4 401.9h0M230.2 401.9h0M234.1 401.0h0M235.3 401.2h0M239.3 401.9h0M240.5 401.8h0M253.3 401.0h0M262.7 401.2h0M290.2 401.2h0M291.1 401.5h0M296.9 401.6h0M304.4 401.6h0M306.2 401.4h0M310.8 401.1h0M311.7 401.8h0M311.8 401.8h0M312.7 401.3h0M315.6 401.6h0M316.5 401.8h0M318.9 401.9h0M323.8 401.8h0M326.0 401.5h0M141.5 402.1h0M151.3 402.3h0M153.5 402.2h0M155.4 402.9h0M166.6 402.2h0M170.9 402.1h0M172.1 402.0h0M174.6 402.1h0M183.0 402.8h0M184.2 402.1h0M185.7 402.2h0M187.1 402.8h0M187.5 402.4h0M203.0 402.3h0M203.2 402.0h0M204.1 403.0h0M208.4 402.6h0M212.2 402.5h0M212.6 402.2h0M213.4 402.3h0M214.7 402.5h0M215.1 402.3h0M216.6 402.9h0M223.7 402.6h0M233.9 402.0h0M234.9 402.4h0M236.3 402.6h0M237.8 402.9h0M240.8 402.5h0M252.5 402.6h0M268.7 402.2h0M269.9 402.4h0M288.4 402.1h0M289.6 402.8h0M290.9 402.2h0M291.1 402.5h0M301.5 402.7h0M306.9 402.9h0M308.5 402.1h0M309.7 403.0h0M312.1 402.6h0M312.4 402.6h0M317.2 402.6h0M319.1 402.1h0M334.0 402.4h0M348.8 402.5h0M351.7 402.7h0M400.9 402.4h0M144.7 403.3h0M149.9 403.6h0M157.3 403.9h0M158.5 403.7h0M168.0 403.1h0M174.6 403.8h0M178.9 403.9h0M181.6 403.2h0M183.4 403.7h0M191.2 403.4h0M192.9 403.2h0M195.9 403.4h0M197.6 403.1h0M201.6 403.2h0M204.9 403.8h0M209.1 403.0h0M213.6 403.2h0M216.6 403.4h0M229.4 403.7h0M232.6 403.6h0M233.1 403.8h0M236.9 403.4h0M240.2 403.7h0M258.7 403.8h0M258.7 403.0h0M261.4 403.6h0M268.5 403.6h0M269.9 403.3h0M291.2 403.0h0M292.7 403.3h0M295.4 404.0h0M296.4 404.0h0M298.2 403.1h0M316.0 403.1h0M318.1 403.5h0M327.0 403.3h0M329.5 403.7h0M333.5 403.8h0M342.4 403.0h0M149.6 404.8h0M157.4 404.3h0M166.4 404.9h0M169.2 404.5h0M181.3 404.8h0M184.7 404.5h0M187.0 404.7h0M202.3 404.1h0M209.5 405.0h0M220.0 404.1h0M234.9 404.6h0M234.3 404.7h0M235.1 404.1h0M236.6 404.2h0M260.8 404.9h0M260.8 404.8h0M289.1 404.1h0M289.1 404.6h0M290.5 404.8h0M294.0 404.7h0M298.3 404.2h0M303.2 404.0h0M305.8 404.4h0M310.0 404.3h0M316.0 404.0h0M326.4 404.4h0M327.6 404.2h0M338.6 404.9h0M358.5 404.1h0M407.8 404.5h0M161.7 405.7h0M168.5 405.3h0M169.4 405.3h0M174.8 406.0h0M194.4 405.4h0M196.6 405.6h0M197.0 405.1h0M198.3 405.6h0M204.2 405.6h0M205.8 405.6h0M205.2 406.0h0M221.3 405.7h0M233.8 405.9h0M239.4 405.2h0M250.1 405.2h0M253.7 405.3h0M268.7 405.7h0M287.2 405.0h0M287.0 405.7h0M289.1 405.6h0M294.8 405.6h0M297.7 405.1h0M305.2 405.5h0M306.9 405.0h0M309.3 405.9h0M311.4 405.3h0M315.0 406.0h0M315.6 405.6h0M417.1 405.3h0M118.1 406.0h0M146.7 406.1h0M152.0 406.8h0M155.9 406.6h0M159.6 406.8h0M180.2 406.1h0M180.4 406.4h0M186.0 406.1h0M189.6 406.8h0M192.6 406.7h0M198.5 406.6h0M206.2 406.7h0M206.7 406.8h0M206.7 406.6h0M210.5 406.3h0M213.8 406.2h0M229.7 406.3h0M250.1 406.3h0M252.2 406.1h0M253.7 406.9h0M266.6 406.2h0M270.4 406.7h0M288.3 406.1h0M289.0 406.4h0M293.2 406.1h0M294.3 406.7h0M296.6 406.9h0M312.3 406.8h0M319.2 406.7h0M320.9 406.2h0M320.8 406.4h0M337.8 406.1h0M337.7 406.1h0M374.8 406.2h0M121.4 407.6h0M126.9 407.0h0M138.3 407.9h0M141.0 407.4h0M177.2 407.6h0M181.0 407.0h0M186.3 408.0h0M186.1 407.9h0M200.7 407.7h0M202.1 407.0h0M202.9 407.3h0M202.9 407.1h0M205.5 407.5h0M209.4 407.4h0M217.6 407.9h0M220.4 407.4h0M221.8 407.9h0M227.7 407.6h0M232.5 408.0h0M235.1 407.8h0M237.8 407.5h0M238.6 407.0h0M272.7 407.3h0M273.1 407.3h0M278.0 408.0h0M281.5 408.0h0M283.8 407.9h0M285.6 407.9h0M285.4 407.0h0M288.2 407.9h0M289.5 407.2h0M293.4 407.9h0M296.9 407.9h0M302.7 407.2h0M304.2 407.5h0M309.8 407.9h0M313.4 407.2h0M314.2 407.6h0M324.3 407.5h0M329.3 407.4h0M335.1 407.8h0M113.8 408.4h0M142.0 408.8h0M157.3 409.0h0M158.1 408.4h0M162.9 408.7h0M163.9 408.4h0M179.6 408.9h0M190.7 408.7h0M193.1 408.7h0M210.0 408.4h0M215.2 408.2h0M225.3 408.7h0M233.2 408.5h0M236.8 408.3h0M237.2 408.2h0M269.4 408.4h0M270.6 408.7h0M271.9 408.5h0M271.8 408.4h0M272.4 408.6h0M275.1 408.7h0M275.6 408.2h0M279.3 408.2h0M284.4 408.7h0M285.4 408.2h0M289.2 408.6h0M293.0 408.7h0M292.7 408.6h0M295.3 408.5h0M296.5 408.0h0M308.0 408.8h0M310.0 408.5h0M313.6 408.5h0M317.7 408.4h0M322.8 408.9h0M323.2 408.2h0M117.7 409.6h0M148.5 409.6h0M160.4 409.5h0M162.5 409.4h0M172.8 409.9h0M179.0 409.4h0M181.2 409.5h0M185.0 409.6h0M185.2 409.7h0M186.3 409.7h0M193.2 409.2h0M197.4 409.6h0M206.5 409.7h0M209.0 409.1h0M230.1 409.5h0M237.8 409.4h0M253.5 410.0h0M253.4 409.4h0M260.2 409.6h0M269.3 409.9h0M271.5 409.8h0M271.7 409.4h0M271.3 409.5h0M275.0 409.4h0M277.7 409.6h0M282.7 409.9h0M283.7 409.7h0M283.9 410.0h0M284.6 410.0h0M286.7 410.0h0M287.4 409.7h0M289.4 409.7h0M291.0 409.9h0M294.3 409.3h0M297.3 409.4h0M304.1 409.3h0M309.7 409.4h0M312.3 409.0h0M362.0 409.1h0M143.4 410.1h0M150.3 411.0h0M156.6 410.2h0M159.1 410.8h0M168.3 410.5h0M175.7 410.6h0M176.8 410.9h0M176.7 410.4h0M177.7 410.5h0M183.9 410.7h0M186.6 410.7h0M187.9 410.8h0M191.1 410.9h0M201.2 411.0h0M201.6 410.2h0M202.7 410.5h0M203.2 410.5h0M204.3 410.0h0M215.9 410.0h0M218.4 410.6h0M225.3 410.6h0M230.6 410.2h0M271.7 410.4h0M272.2 410.7h0M273.5 410.6h0M274.9 410.2h0M276.3 410.2h0M276.0 410.9h0M279.9 410.1h0M279.6 410.9h0M279.7 410.9h0M280.2 410.6h0M288.6 410.6h0M289.5 410.8h0M291.3 410.6h0M291.9 410.8h0M293.5 410.6h0M294.6 410.1h0M303.3 410.3h0M318.6 410.0h0M321.1 410.9h0M324.6 410.9h0M325.1 410.3h0M333.8 410.8h0M340.2 411.0h0M139.7 411.7h0M144.5 411.2h0M156.8 411.9h0M158.4 412.0h0M199.1 411.6h0M205.0 411.6h0M233.1 411.1h0M235.8 411.9h0M235.1 411.8h0M236.2 411.4h0M238.1 411.4h0M260.6 411.9h0M260.7 411.8h0M272.2 411.3h0M273.0 411.7h0M274.9 411.5h0M275.1 412.0h0M277.2 411.1h0M280.6 411.6h0M280.4 412.0h0M281.2 411.3h0M281.2 411.4h0M283.0 411.7h0M283.6 411.2h0M285.5 411.0h0M286.0 411.3h0M288.5 411.8h0M289.1 411.3h0M297.1 411.0h0M298.3 411.1h0M308.1 411.9h0M312.3 411.5h0M314.8 411.2h0M326.7 411.1h0M327.7 411.6h0M385.1 411.5h0M132.3 412.7h0M140.1 412.9h0M153.5 412.1h0M158.1 412.4h0M169.7 412.9h0M171.3 412.9h0M172.0 412.9h0M185.2 412.4h0M192.9 412.9h0M196.9 412.0h0M198.4 412.5h0M204.2 412.9h0M208.8 412.1h0M210.1 412.2h0M210.6 412.5h0M210.1 413.0h0M230.1 413.0h0M235.0 412.8h0M237.3 412.8h0M239.5 412.4h0M270.0 412.8h0M271.0 412.4h0M272.6 412.6h0M273.7 412.9h0M274.4 412.6h0M277.8 412.6h0M280.2 412.5h0M280.2 412.5h0M281.7 412.7h0M283.0 412.8h0M282.8 412.5h0M284.5 412.9h0M285.9 412.8h0M286.9 412.4h0M290.7 412.8h0M296.4 412.7h0M297.5 412.7h0M304.7 412.5h0M307.2 412.6h0M308.2 412.3h0M327.9 413.0h0M156.2 414.0h0M181.4 413.3h0M188.7 413.3h0M189.7 413.7h0M190.9 413.5h0M197.3 413.6h0M214.4 413.4h0M232.3 413.1h0M232.1 413.3h0M250.2 413.8h0M276.9 413.7h0M278.0 413.5h0M278.1 413.3h0M280.0 413.0h0M280.5 413.1h0M281.2 413.0h0M283.4 413.1h0M283.4 414.0h0M286.8 413.2h0M287.2 413.0h0M288.1 413.7h0M296.9 413.1h0M304.5 413.7h0M312.7 413.1h0M316.1 414.0h0M333.8 413.2h0M336.9 413.7h0M381.3 413.2h0M122.2 414.1h0M144.4 414.9h0M150.8 414.5h0M172.2 414.3h0M189.4 414.1h0M208.1 414.9h0M209.4 414.9h0M211.5 414.4h0M227.6 414.2h0M231.8 414.9h0M234.0 414.1h0M234.6 414.1h0M239.5 414.0h0M239.9 414.9h0M240.4 415.0h0M258.7 414.6h0M270.5 415.0h0M271.7 414.6h0M272.3 414.1h0M273.9 414.7h0M274.4 414.7h0M275.9 414.8h0M277.9 414.3h0M279.6 414.6h0M279.1 414.3h0M280.3 414.5h0M281.9 414.3h0M281.4 414.2h0M283.1 414.5h0M284.3 414.7h0M285.1 414.7h0M287.7 414.4h0M287.7 414.3h0M294.1 414.5h0M297.1 414.6h0M311.5 414.6h0M318.7 414.1h0M326.9 414.6h0M327.3 414.8h0M328.8 414.6h0M329.5 414.2h0M331.4 414.3h0M146.0 415.1h0M150.5 415.7h0M171.5 415.9h0M176.6 415.1h0M182.1 415.6h0M193.5 415.3h0M196.2 415.2h0M206.3 415.9h0M222.2 415.9h0M230.6 415.4h0M231.3 415.4h0M234.7 415.7h0M239.9 415.9h0M251.8 415.8h0M258.6 415.3h0M260.3 415.5h0M270.3 415.8h0M270.2 415.5h0M271.1 415.4h0M274.2 415.8h0M274.4 415.1h0M278.0 415.5h0M277.6 415.9h0M278.7 415.0h0M279.8 415.2h0M281.8 415.8h0M282.7 415.1h0M283.5 415.9h0M285.7 415.1h0M285.8 415.4h0M288.4 415.1h0M300.6 415.6h0M300.1 415.9h0M314.6 415.1h0M317.6 415.3h0M317.9 415.7h0M317.5 415.1h0M318.0 415.3h0M328.6 415.5h0M405.1 415.2h0M433.2 415.6h0M436.4 415.7h0M135.1 416.4h0M137.8 416.5h0M139.1 416.3h0M151.7 416.8h0M160.0 416.8h0M166.6 416.2h0M172.0 416.9h0M179.3 416.6h0M180.0 416.3h0M193.1 416.3h0M198.6 416.6h0M235.8 416.1h0M238.0 416.3h0M258.1 416.2h0M270.1 416.8h0M271.2 416.8h0M272.2 416.0h0M275.2 416.1h0M275.1 416.5h0M276.3 416.4h0M280.6 416.8h0M280.7 416.1h0M281.8 416.2h0M282.3 416.4h0M284.0 416.5h0M286.3 416.1h0M286.9 416.3h0M287.3 416.2h0M290.5 416.2h0M292.8 416.1h0M297.1 416.4h0M298.1 416.9h0M298.8 416.8h0M307.5 416.8h0M309.1 416.3h0M312.6 416.1h0M313.0 416.2h0M125.9 417.3h0M135.1 417.2h0M162.1 417.8h0M173.9 418.0h0M180.5 417.1h0M200.3 417.4h0M216.0 417.4h0M219.5 417.7h0M229.2 417.7h0M233.0 417.6h0M240.9 417.8h0M275.3 417.4h0M276.7 417.4h0M277.4 417.6h0M278.0 417.7h0M278.2 417.4h0M280.1 417.5h0M280.7 417.8h0M281.0 417.8h0M284.8 417.8h0M294.8 417.3h0M295.3 417.8h0M310.0 417.6h0M313.3 417.2h0M317.7 417.3h0M317.9 417.8h0M318.3 418.0h0M320.7 417.2h0M320.3 417.7h0M329.2 417.3h0M125.7 418.0h0M133.6 418.5h0M141.1 418.8h0M160.1 418.1h0M162.5 418.8h0M178.9 418.5h0M184.8 418.9h0M192.1 418.8h0M200.4 419.0h0M220.1 418.9h0M221.7 418.8h0M233.6 418.1h0M233.4 418.5h0M234.3 418.6h0M238.4 418.6h0M253.4 418.2h0M271.3 418.7h0M272.3 418.5h0M277.3 418.0h0M278.1 418.0h0M281.9 418.1h0M282.4 418.6h0M282.3 418.3h0M283.6 418.1h0M286.4 418.5h0M286.2 418.3h0M293.8 418.1h0M295.8 418.5h0M299.1 418.7h0M301.1 418.9h0M317.8 418.2h0M324.3 418.6h0M338.2 418.8h0M133.8 419.4h0M147.0 419.0h0M147.5 419.6h0M178.8 419.9h0M182.5 419.9h0M199.3 419.9h0M209.6 419.2h0M221.4 419.4h0M232.4 420.0h0M239.2 419.4h0M250.0 419.9h0M260.2 419.4h0M261.9 419.5h0M270.9 419.1h0M272.6 419.5h0M272.2 419.8h0M273.1 419.7h0M275.0 419.4h0M276.4 419.8h0M278.4 419.4h0M282.6 419.8h0M282.4 419.9h0M283.9 419.2h0M284.8 419.5h0M298.5 419.1h0M313.5 419.1h0M314.8 420.0h0M332.0 419.8h0M335.4 419.0h0M110.8 420.2h0M113.8 420.7h0M179.5 420.8h0M180.5 420.6h0M181.4 420.9h0M196.6 420.5h0M202.1 420.5h0M223.3 421.0h0M234.8 420.7h0M273.1 420.3h0M274.0 420.3h0M275.4 420.1h0M277.1 420.3h0M277.4 420.7h0M282.5 420.8h0M283.0 420.6h0M312.4 420.8h0M318.0 420.6h0M336.9 420.1h0M156.5 421.1h0M167.2 421.5h0M170.7 421.1h0M172.1 421.4h0M172.7 421.5h0M194.8 421.7h0M203.4 421.8h0M228.4 421.2h0M234.1 421.7h0M237.5 421.7h0M259.4 421.5h0M270.5 421.7h0M273.4 421.4h0M274.2 421.5h0M276.5 421.1h0M280.7 421.1h0M282.3 421.2h0M300.2 421.8h0M300.3 421.6h0M301.3 421.2h0M316.1 421.8h0M325.2 421.1h0M392.4 421.2h0M117.4 422.9h0M121.1 422.1h0M137.5 422.9h0M174.8 422.0h0M177.2 422.8h0M193.4 422.2h0M205.2 423.0h0M229.1 422.6h0M230.6 422.8h0M232.8 423.0h0M232.9 422.5h0M235.8 422.8h0M236.6 422.6h0M236.4 422.8h0M239.3 422.3h0M252.9 422.9h0M252.9 422.6h0M258.3 422.3h0M273.0 422.1h0M273.0 423.0h0M275.3 422.8h0M279.2 422.7h0M280.5 422.9h0M281.8 422.5h0M281.2 422.6h0M286.8 422.9h0M289.4 422.3h0M293.2 422.5h0M299.4 422.0h0M307.9 422.7h0M308.2 422.3h0M315.7 422.8h0M321.0 422.2h0M327.1 423.0h0M332.2 422.5h0M113.7 423.5h0M131.1 423.6h0M155.8 423.9h0M175.7 423.9h0M190.2 423.4h0M213.1 423.7h0M229.9 423.9h0M236.9 423.1h0M247.1 423.4h0M260.8 423.6h0M271.2 423.0h0M272.9 423.6h0M272.6 423.5h0M274.3 423.2h0M276.9 423.7h0M279.5 423.6h0M280.3 423.4h0M282.8 423.2h0M287.4 423.1h0M296.6 423.1h0M311.7 423.5h0M328.3 423.4h0M144.1 424.3h0M147.2 424.4h0M147.5 424.6h0M155.2 424.6h0M164.8 424.6h0M176.3 424.3h0M180.0 424.2h0M193.4 424.1h0M200.0 424.8h0M210.2 424.4h0M231.6 424.1h0M232.2 424.4h0M234.4 424.7h0M238.0 424.7h0M274.0 424.3h0M273.2 424.5h0M277.4 424.0h0M282.9 424.1h0M283.3 424.2h0M285.1 424.7h0M285.7 424.2h0M292.0 424.9h0M312.4 424.7h0M333.3 424.3h0M129.2 425.7h0M168.8 425.1h0M180.8 425.6h0M183.1 425.9h0M183.5 425.4h0M196.9 425.4h0M201.4 425.9h0M235.3 425.8h0M237.2 425.8h0M271.5 425.8h0M278.6 425.9h0M288.3 425.5h0M312.7 425.8h0M429.4 425.7h0M130.8 426.6h0M146.8 426.5h0M162.0 427.0h0M184.7 426.1h0M205.0 426.8h0M223.5 426.4h0M224.9 426.7h0M229.5 426.8h0M233.2 426.5h0M237.0 426.4h0M236.4 426.0h0M240.2 426.6h0M273.4 426.6h0M279.1 426.6h0M280.4 426.0h0M294.8 426.5h0M325.6 426.3h0M139.9 427.3h0M168.6 427.5h0M171.5 427.1h0M177.1 427.6h0M206.5 427.2h0M208.5 427.4h0M231.9 427.3h0M234.3 427.3h0M271.6 427.6h0M273.7 427.8h0M274.0 427.6h0M273.5 428.0h0M274.5 427.8h0M275.7 427.7h0M278.2 427.7h0M280.7 427.3h0M292.8 427.4h0M305.1 427.5h0M322.2 427.5h0M330.2 427.7h0M369.2 427.2h0M200.3 428.7h0M203.3 428.8h0M207.2 428.6h0M212.8 428.8h0M220.1 428.8h0M227.7 428.4h0M240.4 428.1h0M277.6 428.7h0M280.0 428.5h0M286.5 428.4h0M297.9 428.2h0M297.6 428.6h0M306.9 428.9h0M307.0 428.0h0M309.2 428.6h0M311.9 428.5h0M321.3 428.2h0M329.4 428.6h0M154.4 429.1h0M160.8 429.6h0M162.2 429.6h0M199.6 429.6h0M207.1 429.3h0M209.2 429.2h0M239.4 429.8h0M241.0 429.3h0M271.1 429.1h0M273.9 429.1h0M277.6 429.9h0M277.7 429.2h0M277.9 429.7h0M278.2 429.1h0M280.5 429.9h0M281.4 429.6h0M282.4 429.5h0M287.7 429.1h0M297.9 429.6h0M300.4 429.9h0M305.2 429.9h0M316.5 429.8h0M318.5 429.3h0M323.3 429.9h0M332.2 429.6h0M128.6 430.2h0M151.0 430.3h0M166.2 430.9h0M183.4 430.2h0M195.8 431.0h0M198.7 430.7h0M215.2 430.5h0M219.0 430.8h0M224.4 430.6h0M230.3 430.1h0M231.5 430.3h0M232.8 430.9h0M234.2 430.7h0M240.1 430.9h0M273.9 430.1h0M274.9 430.7h0M275.6 430.1h0M281.4 430.5h0M314.7 430.1h0M322.3 430.3h0M329.4 431.0h0M335.5 430.3h0M135.6 431.4h0M166.9 431.5h0M174.3 431.1h0M195.7 431.6h0M200.1 431.4h0M206.7 431.5h0M207.2 431.9h0M224.0 431.1h0M231.9 431.4h0M250.3 431.5h0M272.9 431.2h0M273.7 431.5h0M276.0 431.5h0M279.4 431.8h0M290.3 431.8h0M321.2 431.9h0M324.4 431.2h0M118.3 432.7h0M134.8 432.5h0M160.1 432.6h0M195.1 432.2h0M197.9 432.7h0M197.8 432.4h0M216.6 432.2h0M218.9 433.0h0M229.4 432.1h0M234.9 432.5h0M239.9 432.6h0M272.0 432.3h0M274.5 432.4h0M278.5 433.0h0M281.6 432.1h0M285.7 432.7h0M293.5 432.8h0M312.2 432.5h0M336.9 432.4h0M109.8 433.9h0M137.2 433.6h0M156.4 433.1h0M189.4 433.1h0M219.1 433.5h0M228.1 433.8h0M262.1 433.1h0M274.0 433.7h0M274.8 433.7h0M274.3 433.5h0M276.9 433.5h0M295.7 433.5h0M295.0 433.3h0M296.6 433.3h0M304.0 433.6h0M334.3 433.1h0M151.5 434.6h0M171.1 434.3h0M193.7 434.1h0M198.9 434.7h0M216.1 434.4h0M220.8 434.6h0M240.6 434.8h0M275.1 434.3h0M276.0 434.8h0M278.2 434.3h0M278.0 434.1h0M279.7 434.3h0M312.9 434.8h0M313.8 434.9h0M315.9 434.1h0M163.5 435.3h0M170.6 435.5h0M180.7 435.0h0M187.7 435.5h0M193.0 435.1h0M218.1 435.6h0M227.7 435.7h0M230.7 435.4h0M253.5 435.7h0M276.9 435.9h0M298.2 435.4h0M310.1 435.5h0M319.3 436.0h0M119.1 436.8h0M159.2 436.9h0M168.1 436.1h0M180.9 436.0h0M187.5 436.7h0M219.4 436.7h0M239.9 436.6h0M239.1 436.2h0M252.1 436.5h0M272.0 436.9h0M273.7 436.7h0M273.4 436.4h0M278.5 436.3h0M291.7 436.8h0M317.6 436.2h0M114.1 437.8h0M170.1 437.8h0M177.8 437.7h0M199.6 437.1h0M204.1 437.6h0M207.8 437.9h0M271.7 437.8h0M273.6 437.3h0M311.1 437.2h0M192.9 438.2h0M210.8 438.1h0M219.8 438.6h0M235.2 438.7h0M261.6 438.7h0M272.6 438.3h0M284.3 438.4h0M308.4 438.7h0M145.2 439.7h0M170.0 439.6h0M201.7 439.3h0M257.8 439.9h0M280.8 439.6h0M291.2 439.8h0M301.3 439.3h0M320.7 439.7h0M326.1 439.0h0M136.1 440.6h0M141.0 440.2h0M169.7 441.0h0M169.8 440.2h0M177.0 440.6h0M203.2 440.8h0M229.7 440.7h0M230.8 440.2h0M276.8 440.2h0M313.0 440.3h0M314.8 440.2h0M315.4 440.9h0M111.2 441.1h0M148.0 441.7h0M155.1 441.6h0M168.2 441.7h0M197.2 441.6h0M274.7 441.7h0M276.2 441.3h0M277.4 441.7h0M277.2 441.3h0M278.5 441.4h0M108.5 442.2h0M161.3 442.7h0M195.1 442.9h0M225.3 442.9h0M228.3 442.3h0M253.0 442.5h0M260.5 442.3h0M276.7 442.8h0M276.4 442.3h0M279.0 442.6h0M280.1 442.3h0M283.3 442.4h0M292.5 442.3h0M315.9 442.6h0M236.6 443.5h0M275.4 443.1h0M277.1 443.0h0M279.5 443.3h0M304.6 443.5h0M153.4 444.8h0M183.3 444.4h0M194.4 444.9h0M206.0 444.1h0M225.1 444.3h0M272.8 444.4h0M292.2 444.5h0M316.1 444.9h0M317.7 444.0h0M325.7 444.6h0M144.7 446.0h0M161.3 445.2h0M193.3 445.2h0M239.2 445.6h0M251.7 445.3h0M272.4 445.8h0M274.2 445.2h0M281.3 445.9h0M275.7 446.8h0M279.2 446.3h0M313.6 446.9h0M169.7 447.8h0M169.2 447.7h0M190.8 447.4h0M209.7 447.1h0M253.5 447.9h0M273.4 447.4h0M279.6 447.4h0M293.8 447.4h0M158.0 448.1h0M189.2 448.8h0M193.9 448.4h0M204.3 448.3h0M131.9 450.0h0M258.2 449.4h0M274.0 450.0h0M274.2 449.5h0M287.0 449.8h0M312.8 449.6h0M170.0 450.6h0M259.3 450.4h0M273.4 450.0h0M278.5 450.1h0M286.4 450.8h0M303.8 451.0h0M103.7 451.7h0M108.0 451.9h0M109.5 451.5h0M251.8 451.2h0M251.8 451.4h0M285.9 451.1h0M294.0 451.5h0M123.8 453.0h0M237.8 452.6h0M275.0 452.0h0M277.4 452.4h0M311.3 452.5h0M141.7 453.5h0M189.8 453.9h0M196.1 453.2h0M276.8 453.5h0M278.3 454.0h0M273.5 454.8h0M273.2 454.8h0M275.3 454.7h0M238.5 455.8h0M272.0 455.8h0M133.9 456.6h0M197.7 456.4h0M274.9 456.5h0M191.1 457.8h0M181.9 458.7h0M219.6 458.5h0M278.5 458.8h0M272.1 459.3h0M168.8 460.2h0" stroke="url(#gp)" stroke-width="2.3" stroke-linecap="round" fill="none"/>
<path d="M81.4 346.9h0M84.6 344.5h0M100.0 341.2h0M85.3 346.2h0M86.8 344.0h0M88.4 344.6h0M123.1 333.5h0M130.4 329.5h0M124.1 332.5h0M114.8 334.9h0M127.4 330.2h0M123.7 333.6h0M108.0 338.4h0M117.2 335.0h0M100.5 340.6h0M128.7 331.5h0M131.8 330.9h0M125.2 332.6h0M115.8 334.9h0M103.6 339.4h0M145.7 326.5h0M146.1 326.1h0M156.1 324.0h0M159.1 322.2h0M160.3 322.6h0M148.9 325.7h0M146.5 325.8h0M153.6 325.0h0M164.7 320.9h0M146.6 325.4h0" stroke="#fff" stroke-width="1.4" stroke-linecap="round" fill="none"/>
</g>
<rect x="73" y="200" width="366" height="268" fill="none" stroke="#000" stroke-width="2"/>
<path d="M74 441.2h4 M74 414.4h4 M74 387.6h4 M74 360.8h4 M74 334.0h4 M74 307.2h4 M74 280.4h4 M74 253.6h4 M74 226.8h4 M109.6 467v-3.5 M146.2 467v-3.5 M182.8 467v-3.5 M219.4 467v-3.5 M256.0 467v-3.5 M292.6 467v-3.5 M329.2 467v-3.5 M365.8 467v-3.5 M402.4 467v-3.5" stroke="#222" stroke-width="1"/>
<g font-family="'Liberation Sans', Arial, Helvetica, sans-serif" font-size="15" fill="#111" text-anchor="end">
<text x="64" y="473.4">0.00</text>
<text x="64" y="446.6">0.20</text>
<text x="64" y="419.8">0.40</text>
<text x="64" y="393.0">0.60</text>
<text x="64" y="366.2">0.80</text>
<text x="64" y="339.4">1.00</text>
<text x="64" y="312.6">1.20</text>
<text x="64" y="285.8">1.40</text>
<text x="64" y="259.0">1.60</text>
<text x="64" y="232.2">1.80</text>
<text x="64" y="205.4">2.00</text>
</g>
<g font-family="'Liberation Sans', Arial, Helvetica, sans-serif" font-size="15" fill="#111" text-anchor="end">
<text transform="translate(78.4,477.5) rotate(-90)">−0.05</text>
<text transform="translate(115.0,477.5) rotate(-90)">−0.04</text>
<text transform="translate(151.6,477.5) rotate(-90)">−0.03</text>
<text transform="translate(188.2,477.5) rotate(-90)">−0.02</text>
<text transform="translate(224.8,477.5) rotate(-90)">−0.01</text>
<text transform="translate(261.4,477.5) rotate(-90)">0.00</text>
<text transform="translate(298.0,477.5) rotate(-90)">0.01</text>
<text transform="translate(334.6,477.5) rotate(-90)">0.02</text>
<text transform="translate(371.2,477.5) rotate(-90)">0.03</text>
<text transform="translate(407.8,477.5) rotate(-90)">0.04</text>
<text transform="translate(444.4,477.5) rotate(-90)">0.05</text>
</g>
<text x="255.5" y="539" font-family="'Liberation Sans', Arial, Helvetica, sans-serif" font-size="15" fill="#111" text-anchor="middle">sign(λ<tspan font-size="11" dy="4">2</tspan><tspan dy="-4">)ρ (a.u.)</tspan></text>
<text transform="translate(19,334) rotate(-90)" font-family="'Liberation Sans', Arial, Helvetica, sans-serif" font-size="15" fill="#111" text-anchor="middle">RDG</text>
<rect x="448.5" y="200" width="18" height="268" fill="url(#gc)"/>
<rect x="448.5" y="200" width="18" height="268" fill="url(#stp)" />
<rect x="448.5" y="200" width="18" height="268" fill="none" stroke="#333" stroke-width="1"/>
<g font-family="'Liberation Sans', Arial, Helvetica, sans-serif" font-size="15" fill="#111">
<text x="474.7" y="204.8">0.020</text>
<text x="474.7" y="229.2">0.015</text>
<text x="474.7" y="253.5">0.010</text>
<text x="474.7" y="277.9">0.005</text>
<text x="474.7" y="302.3">0.000</text>
<text x="474.7" y="326.6">−0.005</text>
<text x="474.7" y="351.0">−0.010</text>
<text x="474.7" y="375.3">−0.015</text>
<text x="474.7" y="399.7">−0.020</text>
<text x="474.7" y="424.1">−0.025</text>
<text x="474.7" y="448.4">−0.030</text>
<text x="474.7" y="472.8">−0.035</text>
</g>
<path d="M466 224.4h-4 M466 248.7h-4 M466 273.1h-4 M466 297.5h-4 M466 321.8h-4 M466 346.2h-4 M466 370.5h-4 M466 394.9h-4 M466 419.3h-4 M466 443.6h-4" stroke="#222" stroke-width="1.2"/>
</svg>
</body></html>
